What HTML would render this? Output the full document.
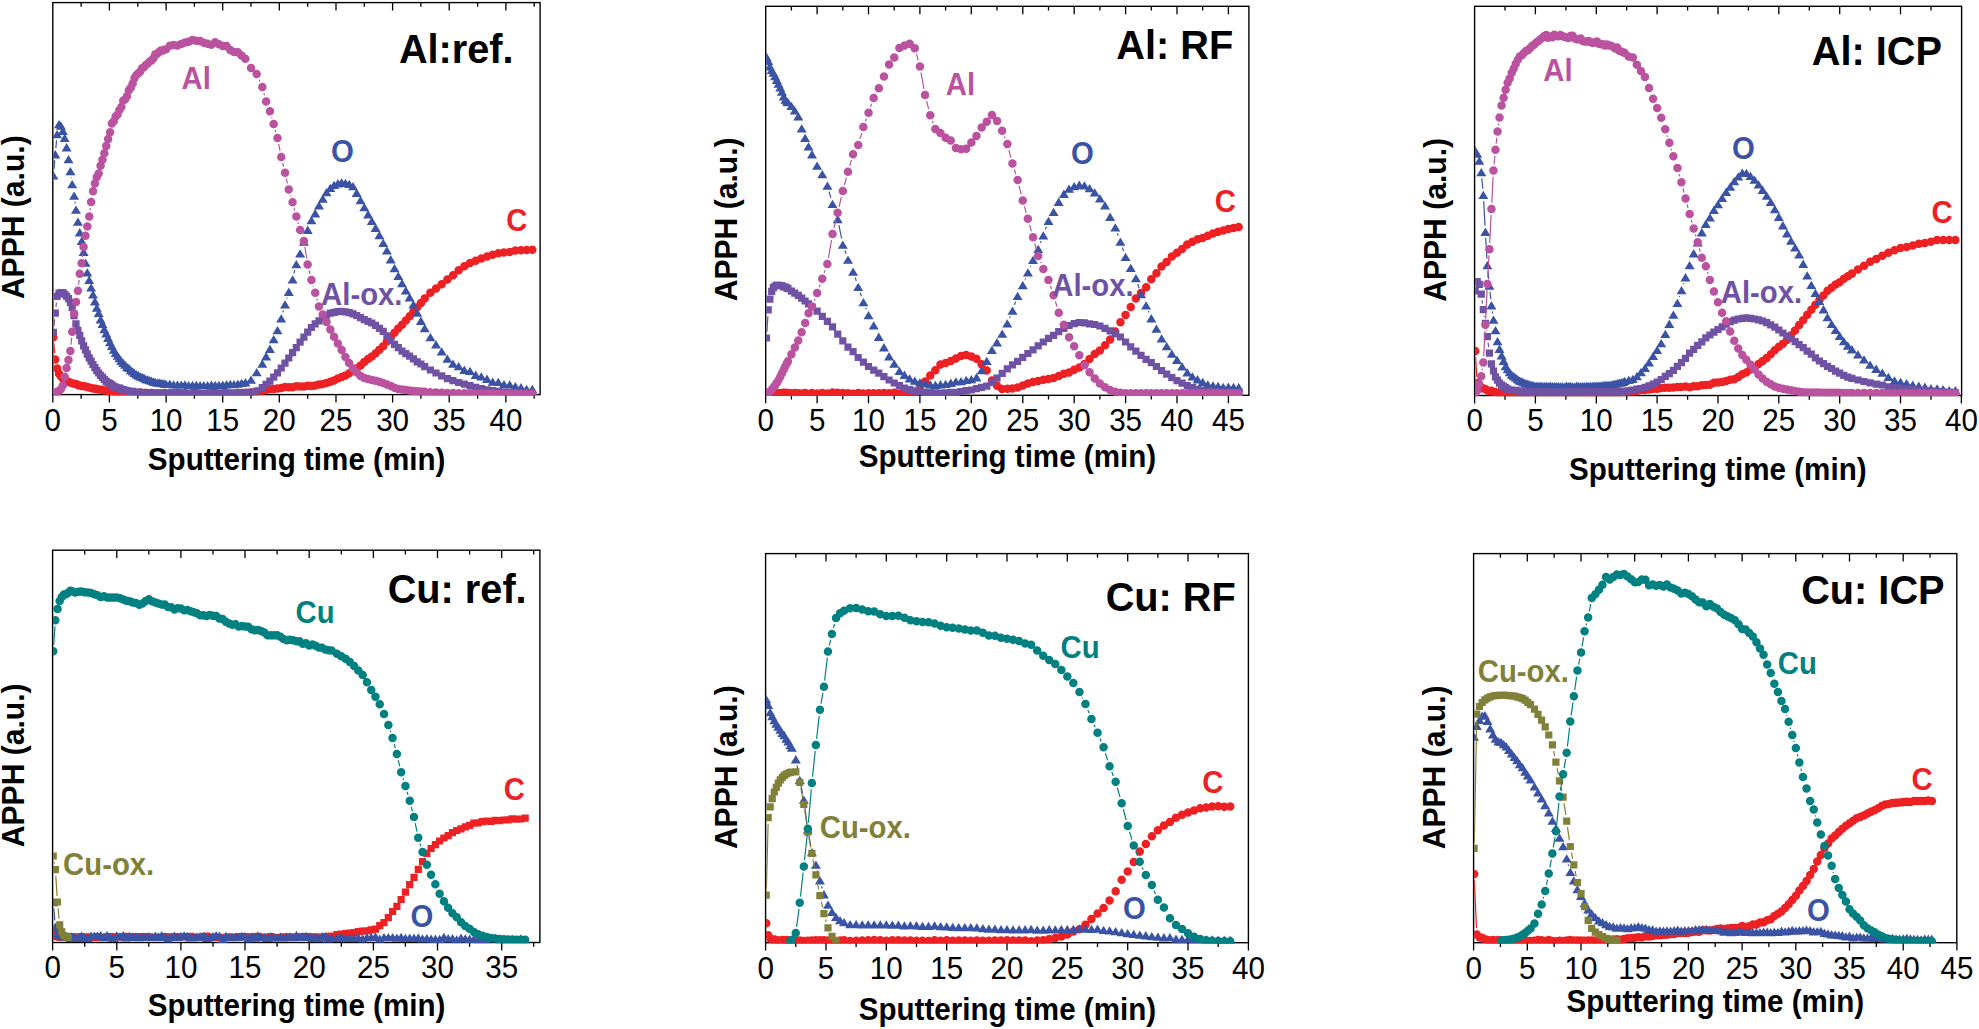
<!DOCTYPE html>
<html lang="en"><head><meta charset="utf-8"><title>XPS depth profiles</title>
<style>html,body{margin:0;padding:0;background:#fff}body{width:1979px;height:1029px;overflow:hidden}</style>
</head><body>
<svg width="1979" height="1029" viewBox="0 0 1979 1029" style="display:block">
<rect width="1979" height="1029" fill="#fff"/>
<defs>
<clipPath id="cp0"><rect x="53.3" y="2.6" width="495.3" height="392.8"/></clipPath>
<clipPath id="cp1"><rect x="766.2" y="6.3" width="491.2" height="389.8"/></clipPath>
<clipPath id="cp2"><rect x="1475.1" y="6.3" width="495" height="390"/></clipPath>
<clipPath id="cp3"><rect x="53.1" y="550.2" width="495.3" height="393.1"/></clipPath>
<clipPath id="cp4"><rect x="766.1" y="553.6" width="490.8" height="389.9"/></clipPath>
<clipPath id="cp5"><rect x="1474.1" y="553.6" width="491.2" height="389.9"/></clipPath>
</defs>
<g>
<rect x="52.8" y="2.6" width="487.3" height="392" fill="none" stroke="#000" stroke-width="1.4"/>
<path d="M52.8 394.6v7.9M81.1 2.6v4.2M81.1 394.6v4.2M109.4 2.6v7.9M109.4 394.6v7.9M137.8 2.6v4.2M137.8 394.6v4.2M166.1 2.6v7.9M166.1 394.6v7.9M194.4 2.6v4.2M194.4 394.6v4.2M222.7 2.6v7.9M222.7 394.6v7.9M251 2.6v4.2M251 394.6v4.2M279.3 2.6v7.9M279.3 394.6v7.9M307.7 2.6v4.2M307.7 394.6v4.2M336 2.6v7.9M336 394.6v7.9M364.3 2.6v4.2M364.3 394.6v4.2M392.6 2.6v7.9M392.6 394.6v7.9M420.9 2.6v4.2M420.9 394.6v4.2M449.2 2.6v7.9M449.2 394.6v7.9M477.6 2.6v4.2M477.6 394.6v4.2M505.9 2.6v7.9M505.9 394.6v7.9M534.2 2.6v4.2M534.2 394.6v4.2" stroke="#000" stroke-width="1.3" fill="none"/>
<g clip-path="url(#cp0)">
<path d="M53.9 343.4L54.7 353.3" fill="none" stroke="#ED2024" stroke-width="1.2"/>
<path d="M49.1 337.2a4.25 4.25 0 1 0 8.5 0a4.25 4.25 0 1 0 -8.5 0zM51 359.5a4.25 4.25 0 1 0 8.5 0a4.25 4.25 0 1 0 -8.5 0zM52.9 368.6a4.25 4.25 0 1 0 8.5 0a4.25 4.25 0 1 0 -8.5 0zM54.8 373.8a4.25 4.25 0 1 0 8.5 0a4.25 4.25 0 1 0 -8.5 0zM56.7 376.5a4.25 4.25 0 1 0 8.5 0a4.25 4.25 0 1 0 -8.5 0zM58.6 378.4a4.25 4.25 0 1 0 8.5 0a4.25 4.25 0 1 0 -8.5 0zM60.4 379.9a4.25 4.25 0 1 0 8.5 0a4.25 4.25 0 1 0 -8.5 0zM62.3 380.7a4.25 4.25 0 1 0 8.5 0a4.25 4.25 0 1 0 -8.5 0zM64.2 381.8a4.25 4.25 0 1 0 8.5 0a4.25 4.25 0 1 0 -8.5 0zM66.1 382.4a4.25 4.25 0 1 0 8.5 0a4.25 4.25 0 1 0 -8.5 0zM68 383.2a4.25 4.25 0 1 0 8.5 0a4.25 4.25 0 1 0 -8.5 0zM69.9 383.8a4.25 4.25 0 1 0 8.5 0a4.25 4.25 0 1 0 -8.5 0zM71.8 384a4.25 4.25 0 1 0 8.5 0a4.25 4.25 0 1 0 -8.5 0zM73.7 385.2a4.25 4.25 0 1 0 8.5 0a4.25 4.25 0 1 0 -8.5 0zM75.5 385.6a4.25 4.25 0 1 0 8.5 0a4.25 4.25 0 1 0 -8.5 0zM77.4 386.1a4.25 4.25 0 1 0 8.5 0a4.25 4.25 0 1 0 -8.5 0zM79.3 386a4.25 4.25 0 1 0 8.5 0a4.25 4.25 0 1 0 -8.5 0zM81.2 386.4a4.25 4.25 0 1 0 8.5 0a4.25 4.25 0 1 0 -8.5 0zM83.1 387.1a4.25 4.25 0 1 0 8.5 0a4.25 4.25 0 1 0 -8.5 0zM85 387.6a4.25 4.25 0 1 0 8.5 0a4.25 4.25 0 1 0 -8.5 0zM86.9 388.1a4.25 4.25 0 1 0 8.5 0a4.25 4.25 0 1 0 -8.5 0zM88.8 388.4a4.25 4.25 0 1 0 8.5 0a4.25 4.25 0 1 0 -8.5 0zM90.6 388.8a4.25 4.25 0 1 0 8.5 0a4.25 4.25 0 1 0 -8.5 0zM92.5 388.9a4.25 4.25 0 1 0 8.5 0a4.25 4.25 0 1 0 -8.5 0zM94.4 389.4a4.25 4.25 0 1 0 8.5 0a4.25 4.25 0 1 0 -8.5 0zM96.3 389.7a4.25 4.25 0 1 0 8.5 0a4.25 4.25 0 1 0 -8.5 0zM98.2 389.8a4.25 4.25 0 1 0 8.5 0a4.25 4.25 0 1 0 -8.5 0zM100.1 390.6a4.25 4.25 0 1 0 8.5 0a4.25 4.25 0 1 0 -8.5 0zM102 390.6a4.25 4.25 0 1 0 8.5 0a4.25 4.25 0 1 0 -8.5 0zM103.9 391.1a4.25 4.25 0 1 0 8.5 0a4.25 4.25 0 1 0 -8.5 0zM105.8 390.9a4.25 4.25 0 1 0 8.5 0a4.25 4.25 0 1 0 -8.5 0zM107.6 391.2a4.25 4.25 0 1 0 8.5 0a4.25 4.25 0 1 0 -8.5 0zM109.5 391.5a4.25 4.25 0 1 0 8.5 0a4.25 4.25 0 1 0 -8.5 0zM111.4 391.8a4.25 4.25 0 1 0 8.5 0a4.25 4.25 0 1 0 -8.5 0zM113.3 392.2a4.25 4.25 0 1 0 8.5 0a4.25 4.25 0 1 0 -8.5 0zM115.2 392.3a4.25 4.25 0 1 0 8.5 0a4.25 4.25 0 1 0 -8.5 0zM117.1 392.3a4.25 4.25 0 1 0 8.5 0a4.25 4.25 0 1 0 -8.5 0zM119 392.3a4.25 4.25 0 1 0 8.5 0a4.25 4.25 0 1 0 -8.5 0zM120.9 392.5a4.25 4.25 0 1 0 8.5 0a4.25 4.25 0 1 0 -8.5 0zM122.7 393a4.25 4.25 0 1 0 8.5 0a4.25 4.25 0 1 0 -8.5 0zM124.6 392.6a4.25 4.25 0 1 0 8.5 0a4.25 4.25 0 1 0 -8.5 0zM126.5 392.9a4.25 4.25 0 1 0 8.5 0a4.25 4.25 0 1 0 -8.5 0zM128.4 393a4.25 4.25 0 1 0 8.5 0a4.25 4.25 0 1 0 -8.5 0zM130.3 392.6a4.25 4.25 0 1 0 8.5 0a4.25 4.25 0 1 0 -8.5 0zM132.2 393.1a4.25 4.25 0 1 0 8.5 0a4.25 4.25 0 1 0 -8.5 0zM134.1 393.4a4.25 4.25 0 1 0 8.5 0a4.25 4.25 0 1 0 -8.5 0zM136 392.6a4.25 4.25 0 1 0 8.5 0a4.25 4.25 0 1 0 -8.5 0zM137.8 393.1a4.25 4.25 0 1 0 8.5 0a4.25 4.25 0 1 0 -8.5 0zM139.7 393.2a4.25 4.25 0 1 0 8.5 0a4.25 4.25 0 1 0 -8.5 0zM141.6 393a4.25 4.25 0 1 0 8.5 0a4.25 4.25 0 1 0 -8.5 0zM143.5 393.4a4.25 4.25 0 1 0 8.5 0a4.25 4.25 0 1 0 -8.5 0zM145.4 393.3a4.25 4.25 0 1 0 8.5 0a4.25 4.25 0 1 0 -8.5 0zM147.3 392.9a4.25 4.25 0 1 0 8.5 0a4.25 4.25 0 1 0 -8.5 0zM149.2 393.5a4.25 4.25 0 1 0 8.5 0a4.25 4.25 0 1 0 -8.5 0zM151.1 393.5a4.25 4.25 0 1 0 8.5 0a4.25 4.25 0 1 0 -8.5 0zM152.9 393.6a4.25 4.25 0 1 0 8.5 0a4.25 4.25 0 1 0 -8.5 0zM154.8 393.7a4.25 4.25 0 1 0 8.5 0a4.25 4.25 0 1 0 -8.5 0zM156.7 393.5a4.25 4.25 0 1 0 8.5 0a4.25 4.25 0 1 0 -8.5 0zM158.6 393.4a4.25 4.25 0 1 0 8.5 0a4.25 4.25 0 1 0 -8.5 0zM160.5 393.1a4.25 4.25 0 1 0 8.5 0a4.25 4.25 0 1 0 -8.5 0zM161.8 393.6a4.25 4.25 0 1 0 8.5 0a4.25 4.25 0 1 0 -8.5 0zM165.6 393.3a4.25 4.25 0 1 0 8.5 0a4.25 4.25 0 1 0 -8.5 0zM169.4 393.3a4.25 4.25 0 1 0 8.5 0a4.25 4.25 0 1 0 -8.5 0zM173.1 393.1a4.25 4.25 0 1 0 8.5 0a4.25 4.25 0 1 0 -8.5 0zM176.9 393.2a4.25 4.25 0 1 0 8.5 0a4.25 4.25 0 1 0 -8.5 0zM180.7 393.3a4.25 4.25 0 1 0 8.5 0a4.25 4.25 0 1 0 -8.5 0zM184.5 393.8a4.25 4.25 0 1 0 8.5 0a4.25 4.25 0 1 0 -8.5 0zM188.2 393a4.25 4.25 0 1 0 8.5 0a4.25 4.25 0 1 0 -8.5 0zM192 393.1a4.25 4.25 0 1 0 8.5 0a4.25 4.25 0 1 0 -8.5 0zM195.8 393.6a4.25 4.25 0 1 0 8.5 0a4.25 4.25 0 1 0 -8.5 0zM199.6 393.9a4.25 4.25 0 1 0 8.5 0a4.25 4.25 0 1 0 -8.5 0zM203.4 393.6a4.25 4.25 0 1 0 8.5 0a4.25 4.25 0 1 0 -8.5 0zM207.1 393a4.25 4.25 0 1 0 8.5 0a4.25 4.25 0 1 0 -8.5 0zM210.9 392.8a4.25 4.25 0 1 0 8.5 0a4.25 4.25 0 1 0 -8.5 0zM214.7 393.5a4.25 4.25 0 1 0 8.5 0a4.25 4.25 0 1 0 -8.5 0zM218.5 393.2a4.25 4.25 0 1 0 8.5 0a4.25 4.25 0 1 0 -8.5 0zM222.2 393a4.25 4.25 0 1 0 8.5 0a4.25 4.25 0 1 0 -8.5 0zM226 393.5a4.25 4.25 0 1 0 8.5 0a4.25 4.25 0 1 0 -8.5 0zM229.8 393.4a4.25 4.25 0 1 0 8.5 0a4.25 4.25 0 1 0 -8.5 0zM233.6 393.1a4.25 4.25 0 1 0 8.5 0a4.25 4.25 0 1 0 -8.5 0zM237.3 393a4.25 4.25 0 1 0 8.5 0a4.25 4.25 0 1 0 -8.5 0zM241.1 392.8a4.25 4.25 0 1 0 8.5 0a4.25 4.25 0 1 0 -8.5 0zM246.8 392.5a4.25 4.25 0 1 0 8.5 0a4.25 4.25 0 1 0 -8.5 0zM252.4 391.6a4.25 4.25 0 1 0 8.5 0a4.25 4.25 0 1 0 -8.5 0zM258.1 390.8a4.25 4.25 0 1 0 8.5 0a4.25 4.25 0 1 0 -8.5 0zM261.9 390.1a4.25 4.25 0 1 0 8.5 0a4.25 4.25 0 1 0 -8.5 0zM265.7 388.9a4.25 4.25 0 1 0 8.5 0a4.25 4.25 0 1 0 -8.5 0zM269.4 389a4.25 4.25 0 1 0 8.5 0a4.25 4.25 0 1 0 -8.5 0zM273.2 388.6a4.25 4.25 0 1 0 8.5 0a4.25 4.25 0 1 0 -8.5 0zM277 388.1a4.25 4.25 0 1 0 8.5 0a4.25 4.25 0 1 0 -8.5 0zM280.8 387.1a4.25 4.25 0 1 0 8.5 0a4.25 4.25 0 1 0 -8.5 0zM284.5 387.2a4.25 4.25 0 1 0 8.5 0a4.25 4.25 0 1 0 -8.5 0zM288.3 387.2a4.25 4.25 0 1 0 8.5 0a4.25 4.25 0 1 0 -8.5 0zM292.1 386.3a4.25 4.25 0 1 0 8.5 0a4.25 4.25 0 1 0 -8.5 0zM295.9 386.5a4.25 4.25 0 1 0 8.5 0a4.25 4.25 0 1 0 -8.5 0zM299.6 386.5a4.25 4.25 0 1 0 8.5 0a4.25 4.25 0 1 0 -8.5 0zM303.4 385.7a4.25 4.25 0 1 0 8.5 0a4.25 4.25 0 1 0 -8.5 0zM307.2 386.1a4.25 4.25 0 1 0 8.5 0a4.25 4.25 0 1 0 -8.5 0zM311 385.4a4.25 4.25 0 1 0 8.5 0a4.25 4.25 0 1 0 -8.5 0zM314.7 384.6a4.25 4.25 0 1 0 8.5 0a4.25 4.25 0 1 0 -8.5 0zM318.5 383.9a4.25 4.25 0 1 0 8.5 0a4.25 4.25 0 1 0 -8.5 0zM322.3 383a4.25 4.25 0 1 0 8.5 0a4.25 4.25 0 1 0 -8.5 0zM326.1 381.8a4.25 4.25 0 1 0 8.5 0a4.25 4.25 0 1 0 -8.5 0zM329.8 380.6a4.25 4.25 0 1 0 8.5 0a4.25 4.25 0 1 0 -8.5 0zM333.6 378.5a4.25 4.25 0 1 0 8.5 0a4.25 4.25 0 1 0 -8.5 0zM337.4 376.9a4.25 4.25 0 1 0 8.5 0a4.25 4.25 0 1 0 -8.5 0zM341.2 375.5a4.25 4.25 0 1 0 8.5 0a4.25 4.25 0 1 0 -8.5 0zM344.9 373.3a4.25 4.25 0 1 0 8.5 0a4.25 4.25 0 1 0 -8.5 0zM348.7 370.6a4.25 4.25 0 1 0 8.5 0a4.25 4.25 0 1 0 -8.5 0zM352.5 368.2a4.25 4.25 0 1 0 8.5 0a4.25 4.25 0 1 0 -8.5 0zM356.3 365.4a4.25 4.25 0 1 0 8.5 0a4.25 4.25 0 1 0 -8.5 0zM360 362.1a4.25 4.25 0 1 0 8.5 0a4.25 4.25 0 1 0 -8.5 0zM363.8 359.1a4.25 4.25 0 1 0 8.5 0a4.25 4.25 0 1 0 -8.5 0zM367.6 356.4a4.25 4.25 0 1 0 8.5 0a4.25 4.25 0 1 0 -8.5 0zM371.4 353.2a4.25 4.25 0 1 0 8.5 0a4.25 4.25 0 1 0 -8.5 0zM375.1 349.8a4.25 4.25 0 1 0 8.5 0a4.25 4.25 0 1 0 -8.5 0zM378.9 346.3a4.25 4.25 0 1 0 8.5 0a4.25 4.25 0 1 0 -8.5 0zM382.7 341.4a4.25 4.25 0 1 0 8.5 0a4.25 4.25 0 1 0 -8.5 0zM386.5 337.6a4.25 4.25 0 1 0 8.5 0a4.25 4.25 0 1 0 -8.5 0zM390.2 332.7a4.25 4.25 0 1 0 8.5 0a4.25 4.25 0 1 0 -8.5 0zM394 328.6a4.25 4.25 0 1 0 8.5 0a4.25 4.25 0 1 0 -8.5 0zM397.8 324.7a4.25 4.25 0 1 0 8.5 0a4.25 4.25 0 1 0 -8.5 0zM401.6 320.6a4.25 4.25 0 1 0 8.5 0a4.25 4.25 0 1 0 -8.5 0zM405.4 316.2a4.25 4.25 0 1 0 8.5 0a4.25 4.25 0 1 0 -8.5 0zM409.1 311.8a4.25 4.25 0 1 0 8.5 0a4.25 4.25 0 1 0 -8.5 0zM412.9 307.3a4.25 4.25 0 1 0 8.5 0a4.25 4.25 0 1 0 -8.5 0zM416.7 302.9a4.25 4.25 0 1 0 8.5 0a4.25 4.25 0 1 0 -8.5 0zM420.5 298.6a4.25 4.25 0 1 0 8.5 0a4.25 4.25 0 1 0 -8.5 0zM426.1 292.8a4.25 4.25 0 1 0 8.5 0a4.25 4.25 0 1 0 -8.5 0zM431.8 288.5a4.25 4.25 0 1 0 8.5 0a4.25 4.25 0 1 0 -8.5 0zM437.4 284.2a4.25 4.25 0 1 0 8.5 0a4.25 4.25 0 1 0 -8.5 0zM443.1 279.5a4.25 4.25 0 1 0 8.5 0a4.25 4.25 0 1 0 -8.5 0zM448.8 275.2a4.25 4.25 0 1 0 8.5 0a4.25 4.25 0 1 0 -8.5 0zM454.4 270.2a4.25 4.25 0 1 0 8.5 0a4.25 4.25 0 1 0 -8.5 0zM460.1 266.2a4.25 4.25 0 1 0 8.5 0a4.25 4.25 0 1 0 -8.5 0zM465.8 263a4.25 4.25 0 1 0 8.5 0a4.25 4.25 0 1 0 -8.5 0zM471.4 260.7a4.25 4.25 0 1 0 8.5 0a4.25 4.25 0 1 0 -8.5 0zM477.1 258.6a4.25 4.25 0 1 0 8.5 0a4.25 4.25 0 1 0 -8.5 0zM482.8 256.4a4.25 4.25 0 1 0 8.5 0a4.25 4.25 0 1 0 -8.5 0zM488.4 254.7a4.25 4.25 0 1 0 8.5 0a4.25 4.25 0 1 0 -8.5 0zM494.1 253.2a4.25 4.25 0 1 0 8.5 0a4.25 4.25 0 1 0 -8.5 0zM499.7 252.5a4.25 4.25 0 1 0 8.5 0a4.25 4.25 0 1 0 -8.5 0zM505.4 252.1a4.25 4.25 0 1 0 8.5 0a4.25 4.25 0 1 0 -8.5 0zM511.1 250.4a4.25 4.25 0 1 0 8.5 0a4.25 4.25 0 1 0 -8.5 0zM516.7 250.2a4.25 4.25 0 1 0 8.5 0a4.25 4.25 0 1 0 -8.5 0zM522.4 250.1a4.25 4.25 0 1 0 8.5 0a4.25 4.25 0 1 0 -8.5 0zM528.1 249.7a4.25 4.25 0 1 0 8.5 0a4.25 4.25 0 1 0 -8.5 0z" fill="#ED2024"/>
<path d="M53.9 169.3L54.7 160.4M55.8 148.1L56.6 140.3M71.3 177.3L71.4 178M75 201.7L75.2 203.5M282.9 312.3L283.4 310.4M286.8 298.5L287 297.7M294 273.3L294.8 270.1" fill="none" stroke="#3A53A4" stroke-width="1.2"/>
<path d="M53.4 171.3l5 8.3h-10zM55.3 150.1l5 8.3h-10zM57.1 130l5 8.3h-10zM59 119.9l5 8.3h-10zM60.9 121.4l5 8.3h-10zM62.8 126.6l5 8.3h-10zM64.7 133.7l5 8.3h-10zM66.6 143.1l5 8.3h-10zM68.5 155l5 8.3h-10zM70.4 167l5 8.3h-10zM72.2 180l5 8.3h-10zM74.1 191.5l5 8.3h-10zM76 205.5l5 8.3h-10zM77.9 217.5l5 8.3h-10zM79.8 228.1l5 8.3h-10zM81.7 236.6l5 8.3h-10zM83.6 247.6l5 8.3h-10zM85.5 258.5l5 8.3h-10zM87.3 268.2l5 8.3h-10zM89.2 275.7l5 8.3h-10zM91.1 283.3l5 8.3h-10zM93 290.2l5 8.3h-10zM94.9 297.1l5 8.3h-10zM96.8 303.5l5 8.3h-10zM98.7 308.7l5 8.3h-10zM100.6 315.1l5 8.3h-10zM102.5 319.8l5 8.3h-10zM104.3 325l5 8.3h-10zM106.2 329.1l5 8.3h-10zM108.1 333.6l5 8.3h-10zM110 338l5 8.3h-10zM111.9 341.7l5 8.3h-10zM113.8 345.5l5 8.3h-10zM115.7 348.8l5 8.3h-10zM117.6 351.4l5 8.3h-10zM119.4 354l5 8.3h-10zM121.3 356.6l5 8.3h-10zM123.2 358.7l5 8.3h-10zM125.1 360.4l5 8.3h-10zM127 362.8l5 8.3h-10zM128.9 363.8l5 8.3h-10zM130.8 365.9l5 8.3h-10zM132.7 367.2l5 8.3h-10zM134.5 368.7l5 8.3h-10zM136.4 370.1l5 8.3h-10zM138.3 371.1l5 8.3h-10zM140.2 372.2l5 8.3h-10zM142.1 372.7l5 8.3h-10zM144 373.6l5 8.3h-10zM145.9 374.9l5 8.3h-10zM147.8 375.3l5 8.3h-10zM149.6 376l5 8.3h-10zM151.5 376.5l5 8.3h-10zM153.4 377.5l5 8.3h-10zM155.3 377.8l5 8.3h-10zM157.2 378.4l5 8.3h-10zM159.1 378.3l5 8.3h-10zM161 378.8l5 8.3h-10zM162.9 378.9l5 8.3h-10zM164.7 379.5l5 8.3h-10zM166.1 379.8l5 8.3h-10zM169.8 379.6l5 8.3h-10zM173.6 380.3l5 8.3h-10zM177.4 380.4l5 8.3h-10zM181.2 380.4l5 8.3h-10zM184.9 380.2l5 8.3h-10zM188.7 381l5 8.3h-10zM192.5 380.8l5 8.3h-10zM196.3 380.7l5 8.3h-10zM200.1 380.9l5 8.3h-10zM203.8 380.9l5 8.3h-10zM207.6 381.1l5 8.3h-10zM211.4 380.5l5 8.3h-10zM215.2 380.8l5 8.3h-10zM218.9 380.8l5 8.3h-10zM222.7 380.6l5 8.3h-10zM226.5 380.1l5 8.3h-10zM230.3 379.8l5 8.3h-10zM234 379.9l5 8.3h-10zM237.8 379.5l5 8.3h-10zM241.6 378.8l5 8.3h-10zM245.4 378.1l5 8.3h-10zM251 375.5l5 8.3h-10zM256.7 368l5 8.3h-10zM262.3 359.4l5 8.3h-10zM266.1 352.1l5 8.3h-10zM269.9 344.6l5 8.3h-10zM273.7 335l5 8.3h-10zM277.5 326l5 8.3h-10zM281.2 314.2l5 8.3h-10zM285 300.3l5 8.3h-10zM288.8 287.6l5 8.3h-10zM292.6 275.2l5 8.3h-10zM296.3 260l5 8.3h-10zM300.1 249.2l5 8.3h-10zM303.9 237.5l5 8.3h-10zM307.7 225.6l5 8.3h-10zM311.4 216l5 8.3h-10zM315.2 209.1l5 8.3h-10zM319 201.2l5 8.3h-10zM322.8 194.5l5 8.3h-10zM326.5 188l5 8.3h-10zM330.3 183.8l5 8.3h-10zM334.1 180.8l5 8.3h-10zM337.9 179.1l5 8.3h-10zM341.6 178.2l5 8.3h-10zM345.4 178.7l5 8.3h-10zM349.2 179.8l5 8.3h-10zM353 182l5 8.3h-10zM356.7 188.6l5 8.3h-10zM360.5 195.9l5 8.3h-10zM364.3 202.9l5 8.3h-10zM368.1 210.1l5 8.3h-10zM371.8 216.8l5 8.3h-10zM375.6 223.6l5 8.3h-10zM379.4 230.9l5 8.3h-10zM383.2 238.7l5 8.3h-10zM386.9 246.2l5 8.3h-10zM390.7 255.1l5 8.3h-10zM394.5 264l5 8.3h-10zM398.3 271.7l5 8.3h-10zM402 279l5 8.3h-10zM405.8 286.3l5 8.3h-10zM409.6 293.1l5 8.3h-10zM413.4 300.2l5 8.3h-10zM417.2 308.4l5 8.3h-10zM420.9 316.6l5 8.3h-10zM424.7 324l5 8.3h-10zM430.4 333l5 8.3h-10zM436 340.3l5 8.3h-10zM441.7 347.2l5 8.3h-10zM447.4 354.5l5 8.3h-10zM453 359.4l5 8.3h-10zM458.7 362l5 8.3h-10zM464.3 365.6l5 8.3h-10zM470 366.8l5 8.3h-10zM475.7 370.6l5 8.3h-10zM481.3 372.2l5 8.3h-10zM487 374.6l5 8.3h-10zM492.7 377.5l5 8.3h-10zM498.3 377.8l5 8.3h-10zM504 379.9l5 8.3h-10zM509.7 380.3l5 8.3h-10zM515.3 382l5 8.3h-10zM521 383.1l5 8.3h-10zM526.6 384.7l5 8.3h-10zM532.3 384.7l5 8.3h-10z" fill="#3A53A4"/>
<path d="M54 326.1L54.6 319.2M56 306.9L56.4 302.6" fill="none" stroke="#6F52A3" stroke-width="1.2"/>
<path d="M49.8 328.7h7.2v7.2h-7.2zM51.7 309.5h7.2v7.2h-7.2zM53.5 292.8h7.2v7.2h-7.2zM55.4 289.7h7.2v7.2h-7.2zM57.3 289h7.2v7.2h-7.2zM59.2 289.1h7.2v7.2h-7.2zM61.1 290.5h7.2v7.2h-7.2zM63 292.6h7.2v7.2h-7.2zM64.9 295.1h7.2v7.2h-7.2zM66.8 298.8h7.2v7.2h-7.2zM68.6 304.1h7.2v7.2h-7.2zM70.5 312.1h7.2v7.2h-7.2zM72.4 320.3h7.2v7.2h-7.2zM74.3 326.8h7.2v7.2h-7.2zM76.2 331.8h7.2v7.2h-7.2zM78.1 337.2h7.2v7.2h-7.2zM80 342.2h7.2v7.2h-7.2zM81.9 346.3h7.2v7.2h-7.2zM83.7 350.5h7.2v7.2h-7.2zM85.6 354.3h7.2v7.2h-7.2zM87.5 357.6h7.2v7.2h-7.2zM89.4 360.9h7.2v7.2h-7.2zM91.3 364.1h7.2v7.2h-7.2zM93.2 367h7.2v7.2h-7.2zM95.1 369.4h7.2v7.2h-7.2zM97 371.7h7.2v7.2h-7.2zM98.9 373.7h7.2v7.2h-7.2zM100.7 375.8h7.2v7.2h-7.2zM102.6 377.7h7.2v7.2h-7.2zM104.5 379h7.2v7.2h-7.2zM106.4 380.1h7.2v7.2h-7.2zM108.3 381.2h7.2v7.2h-7.2zM110.2 382.8h7.2v7.2h-7.2zM112.1 383.5h7.2v7.2h-7.2zM114 384.3h7.2v7.2h-7.2zM115.8 384.5h7.2v7.2h-7.2zM117.7 385.5h7.2v7.2h-7.2zM119.6 386.1h7.2v7.2h-7.2zM121.5 386.8h7.2v7.2h-7.2zM123.4 387h7.2v7.2h-7.2zM125.3 387.4h7.2v7.2h-7.2zM127.2 387.8h7.2v7.2h-7.2zM129.1 387.8h7.2v7.2h-7.2zM130.9 388.5h7.2v7.2h-7.2zM132.8 388.5h7.2v7.2h-7.2zM134.7 388.5h7.2v7.2h-7.2zM136.6 389h7.2v7.2h-7.2zM138.5 389.2h7.2v7.2h-7.2zM140.4 388.8h7.2v7.2h-7.2zM142.3 389h7.2v7.2h-7.2zM144.2 389.3h7.2v7.2h-7.2zM146 389.3h7.2v7.2h-7.2zM147.9 389.3h7.2v7.2h-7.2zM149.8 389.3h7.2v7.2h-7.2zM151.7 389.8h7.2v7.2h-7.2zM153.6 389.7h7.2v7.2h-7.2zM155.5 389.4h7.2v7.2h-7.2zM157.4 389.4h7.2v7.2h-7.2zM159.3 389.9h7.2v7.2h-7.2zM161.1 389.8h7.2v7.2h-7.2zM162.5 390h7.2v7.2h-7.2zM166.2 389.8h7.2v7.2h-7.2zM170 389.6h7.2v7.2h-7.2zM173.8 389.8h7.2v7.2h-7.2zM177.6 389.5h7.2v7.2h-7.2zM181.3 389.7h7.2v7.2h-7.2zM185.1 389.9h7.2v7.2h-7.2zM188.9 390h7.2v7.2h-7.2zM192.7 389.8h7.2v7.2h-7.2zM196.5 389.9h7.2v7.2h-7.2zM200.2 390h7.2v7.2h-7.2zM204 389.9h7.2v7.2h-7.2zM207.8 390h7.2v7.2h-7.2zM211.6 389.9h7.2v7.2h-7.2zM215.3 389.7h7.2v7.2h-7.2zM219.1 389.9h7.2v7.2h-7.2zM222.9 389.7h7.2v7.2h-7.2zM226.7 389.5h7.2v7.2h-7.2zM230.4 389.4h7.2v7.2h-7.2zM234.2 389.5h7.2v7.2h-7.2zM238 389.3h7.2v7.2h-7.2zM241.8 389.1h7.2v7.2h-7.2zM247.4 388.5h7.2v7.2h-7.2zM253.1 387.4h7.2v7.2h-7.2zM258.7 383.9h7.2v7.2h-7.2zM262.5 380.7h7.2v7.2h-7.2zM266.3 377.5h7.2v7.2h-7.2zM270.1 373.6h7.2v7.2h-7.2zM273.9 369.2h7.2v7.2h-7.2zM277.6 364.4h7.2v7.2h-7.2zM281.4 359.6h7.2v7.2h-7.2zM285.2 354.4h7.2v7.2h-7.2zM289 349h7.2v7.2h-7.2zM292.7 344.1h7.2v7.2h-7.2zM296.5 338.6h7.2v7.2h-7.2zM300.3 333.6h7.2v7.2h-7.2zM304.1 328.6h7.2v7.2h-7.2zM307.8 323.9h7.2v7.2h-7.2zM311.6 320.3h7.2v7.2h-7.2zM315.4 317.2h7.2v7.2h-7.2zM319.2 314h7.2v7.2h-7.2zM322.9 311.5h7.2v7.2h-7.2zM326.7 309.6h7.2v7.2h-7.2zM330.5 308.8h7.2v7.2h-7.2zM334.3 308.1h7.2v7.2h-7.2zM338 307.7h7.2v7.2h-7.2zM341.8 308.3h7.2v7.2h-7.2zM345.6 309.1h7.2v7.2h-7.2zM349.4 310.2h7.2v7.2h-7.2zM353.1 311.9h7.2v7.2h-7.2zM356.9 314.1h7.2v7.2h-7.2zM360.7 316h7.2v7.2h-7.2zM364.5 317.8h7.2v7.2h-7.2zM368.2 319.4h7.2v7.2h-7.2zM372 321.8h7.2v7.2h-7.2zM375.8 324.7h7.2v7.2h-7.2zM379.6 327.8h7.2v7.2h-7.2zM383.3 332.3h7.2v7.2h-7.2zM387.1 336.7h7.2v7.2h-7.2zM390.9 340.7h7.2v7.2h-7.2zM394.7 344.1h7.2v7.2h-7.2zM398.4 347.5h7.2v7.2h-7.2zM402.2 350h7.2v7.2h-7.2zM406 352.5h7.2v7.2h-7.2zM409.8 355.3h7.2v7.2h-7.2zM413.6 358.3h7.2v7.2h-7.2zM417.3 360.4h7.2v7.2h-7.2zM421.1 363h7.2v7.2h-7.2zM426.8 366.4h7.2v7.2h-7.2zM432.4 369.4h7.2v7.2h-7.2zM438.1 372.2h7.2v7.2h-7.2zM443.8 375h7.2v7.2h-7.2zM449.4 377.1h7.2v7.2h-7.2zM455.1 378.9h7.2v7.2h-7.2zM460.7 380.5h7.2v7.2h-7.2zM466.4 382h7.2v7.2h-7.2zM472.1 383.7h7.2v7.2h-7.2zM477.7 385.1h7.2v7.2h-7.2zM483.4 386.3h7.2v7.2h-7.2zM489.1 387.1h7.2v7.2h-7.2zM494.7 387.7h7.2v7.2h-7.2zM500.4 388.5h7.2v7.2h-7.2zM506.1 388.7h7.2v7.2h-7.2zM511.7 389.1h7.2v7.2h-7.2zM517.4 389.6h7.2v7.2h-7.2zM523 389.7h7.2v7.2h-7.2zM528.7 390.1h7.2v7.2h-7.2z" fill="#6F52A3"/>
<path d="M71 344.8L71.6 337.9M72.9 325.5L73.5 319.5M78.6 284.5L79.1 279.9M82.4 257.2L82.9 253.3M90 210.4L90.3 208.2M259.1 79.7L259.9 81.5M263.9 93.1L264.5 95.4M271.7 117.2L271.9 118.1M275.3 130L275.8 132.1M278.7 144.2L280 150.9M282.7 163.1L283.6 166.7M286.4 178.7L287.4 183.5M290.6 195.5L290.8 196.3M294.1 208.2L294.7 210.4M298 222.4L298.4 224M304.9 247L306.7 258.3M309.1 270.5L310 274M313.2 285.9L313.5 286.8M316.8 298.8L317.4 300.6" fill="none" stroke="#BA529F" stroke-width="1.2"/>
<path d="M49.1 393.3a4.25 4.25 0 1 0 8.5 0a4.25 4.25 0 1 0 -8.5 0zM51 392.6a4.25 4.25 0 1 0 8.5 0a4.25 4.25 0 1 0 -8.5 0zM52.9 391.8a4.25 4.25 0 1 0 8.5 0a4.25 4.25 0 1 0 -8.5 0zM54.8 390.7a4.25 4.25 0 1 0 8.5 0a4.25 4.25 0 1 0 -8.5 0zM56.7 389a4.25 4.25 0 1 0 8.5 0a4.25 4.25 0 1 0 -8.5 0zM58.6 385.5a4.25 4.25 0 1 0 8.5 0a4.25 4.25 0 1 0 -8.5 0zM60.4 376.8a4.25 4.25 0 1 0 8.5 0a4.25 4.25 0 1 0 -8.5 0zM62.3 367.9a4.25 4.25 0 1 0 8.5 0a4.25 4.25 0 1 0 -8.5 0zM64.2 360a4.25 4.25 0 1 0 8.5 0a4.25 4.25 0 1 0 -8.5 0zM66.1 350.9a4.25 4.25 0 1 0 8.5 0a4.25 4.25 0 1 0 -8.5 0zM68 331.7a4.25 4.25 0 1 0 8.5 0a4.25 4.25 0 1 0 -8.5 0zM69.9 313.4a4.25 4.25 0 1 0 8.5 0a4.25 4.25 0 1 0 -8.5 0zM71.8 301.9a4.25 4.25 0 1 0 8.5 0a4.25 4.25 0 1 0 -8.5 0zM73.7 290.7a4.25 4.25 0 1 0 8.5 0a4.25 4.25 0 1 0 -8.5 0zM75.5 273.7a4.25 4.25 0 1 0 8.5 0a4.25 4.25 0 1 0 -8.5 0zM77.4 263.3a4.25 4.25 0 1 0 8.5 0a4.25 4.25 0 1 0 -8.5 0zM79.3 247.1a4.25 4.25 0 1 0 8.5 0a4.25 4.25 0 1 0 -8.5 0zM81.2 235.8a4.25 4.25 0 1 0 8.5 0a4.25 4.25 0 1 0 -8.5 0zM83.1 226.4a4.25 4.25 0 1 0 8.5 0a4.25 4.25 0 1 0 -8.5 0zM85 216.6a4.25 4.25 0 1 0 8.5 0a4.25 4.25 0 1 0 -8.5 0zM86.9 202a4.25 4.25 0 1 0 8.5 0a4.25 4.25 0 1 0 -8.5 0zM88.8 191.2a4.25 4.25 0 1 0 8.5 0a4.25 4.25 0 1 0 -8.5 0zM90.6 183.4a4.25 4.25 0 1 0 8.5 0a4.25 4.25 0 1 0 -8.5 0zM92.5 177.1a4.25 4.25 0 1 0 8.5 0a4.25 4.25 0 1 0 -8.5 0zM94.4 173.5a4.25 4.25 0 1 0 8.5 0a4.25 4.25 0 1 0 -8.5 0zM96.3 165.8a4.25 4.25 0 1 0 8.5 0a4.25 4.25 0 1 0 -8.5 0zM98.2 159.8a4.25 4.25 0 1 0 8.5 0a4.25 4.25 0 1 0 -8.5 0zM100.1 153.2a4.25 4.25 0 1 0 8.5 0a4.25 4.25 0 1 0 -8.5 0zM102 146.1a4.25 4.25 0 1 0 8.5 0a4.25 4.25 0 1 0 -8.5 0zM103.9 139a4.25 4.25 0 1 0 8.5 0a4.25 4.25 0 1 0 -8.5 0zM105.8 132.2a4.25 4.25 0 1 0 8.5 0a4.25 4.25 0 1 0 -8.5 0zM107.6 123.5a4.25 4.25 0 1 0 8.5 0a4.25 4.25 0 1 0 -8.5 0zM109.5 121.2a4.25 4.25 0 1 0 8.5 0a4.25 4.25 0 1 0 -8.5 0zM111.4 116.6a4.25 4.25 0 1 0 8.5 0a4.25 4.25 0 1 0 -8.5 0zM113.3 114.6a4.25 4.25 0 1 0 8.5 0a4.25 4.25 0 1 0 -8.5 0zM115.2 110a4.25 4.25 0 1 0 8.5 0a4.25 4.25 0 1 0 -8.5 0zM117.1 107a4.25 4.25 0 1 0 8.5 0a4.25 4.25 0 1 0 -8.5 0zM119 100.7a4.25 4.25 0 1 0 8.5 0a4.25 4.25 0 1 0 -8.5 0zM120.9 99.3a4.25 4.25 0 1 0 8.5 0a4.25 4.25 0 1 0 -8.5 0zM122.7 96.3a4.25 4.25 0 1 0 8.5 0a4.25 4.25 0 1 0 -8.5 0zM124.6 90.2a4.25 4.25 0 1 0 8.5 0a4.25 4.25 0 1 0 -8.5 0zM126.5 87.7a4.25 4.25 0 1 0 8.5 0a4.25 4.25 0 1 0 -8.5 0zM128.4 83.6a4.25 4.25 0 1 0 8.5 0a4.25 4.25 0 1 0 -8.5 0zM130.3 77.9a4.25 4.25 0 1 0 8.5 0a4.25 4.25 0 1 0 -8.5 0zM132.2 75a4.25 4.25 0 1 0 8.5 0a4.25 4.25 0 1 0 -8.5 0zM134.1 73.3a4.25 4.25 0 1 0 8.5 0a4.25 4.25 0 1 0 -8.5 0zM136 71.4a4.25 4.25 0 1 0 8.5 0a4.25 4.25 0 1 0 -8.5 0zM137.8 68.2a4.25 4.25 0 1 0 8.5 0a4.25 4.25 0 1 0 -8.5 0zM139.7 67.2a4.25 4.25 0 1 0 8.5 0a4.25 4.25 0 1 0 -8.5 0zM141.6 65.1a4.25 4.25 0 1 0 8.5 0a4.25 4.25 0 1 0 -8.5 0zM143.5 63.4a4.25 4.25 0 1 0 8.5 0a4.25 4.25 0 1 0 -8.5 0zM145.4 61.5a4.25 4.25 0 1 0 8.5 0a4.25 4.25 0 1 0 -8.5 0zM147.3 60.4a4.25 4.25 0 1 0 8.5 0a4.25 4.25 0 1 0 -8.5 0zM149.2 58.3a4.25 4.25 0 1 0 8.5 0a4.25 4.25 0 1 0 -8.5 0zM151.1 54.3a4.25 4.25 0 1 0 8.5 0a4.25 4.25 0 1 0 -8.5 0zM152.9 53.7a4.25 4.25 0 1 0 8.5 0a4.25 4.25 0 1 0 -8.5 0zM154.8 51.9a4.25 4.25 0 1 0 8.5 0a4.25 4.25 0 1 0 -8.5 0zM156.7 50.6a4.25 4.25 0 1 0 8.5 0a4.25 4.25 0 1 0 -8.5 0zM158.6 50.4a4.25 4.25 0 1 0 8.5 0a4.25 4.25 0 1 0 -8.5 0zM160.5 49.5a4.25 4.25 0 1 0 8.5 0a4.25 4.25 0 1 0 -8.5 0zM161.8 49.3a4.25 4.25 0 1 0 8.5 0a4.25 4.25 0 1 0 -8.5 0zM165.6 45.8a4.25 4.25 0 1 0 8.5 0a4.25 4.25 0 1 0 -8.5 0zM169.4 45.1a4.25 4.25 0 1 0 8.5 0a4.25 4.25 0 1 0 -8.5 0zM173.1 45.4a4.25 4.25 0 1 0 8.5 0a4.25 4.25 0 1 0 -8.5 0zM176.9 44.1a4.25 4.25 0 1 0 8.5 0a4.25 4.25 0 1 0 -8.5 0zM180.7 42.6a4.25 4.25 0 1 0 8.5 0a4.25 4.25 0 1 0 -8.5 0zM184.5 41.7a4.25 4.25 0 1 0 8.5 0a4.25 4.25 0 1 0 -8.5 0zM188.2 40a4.25 4.25 0 1 0 8.5 0a4.25 4.25 0 1 0 -8.5 0zM192 40.7a4.25 4.25 0 1 0 8.5 0a4.25 4.25 0 1 0 -8.5 0zM195.8 41a4.25 4.25 0 1 0 8.5 0a4.25 4.25 0 1 0 -8.5 0zM199.6 42.7a4.25 4.25 0 1 0 8.5 0a4.25 4.25 0 1 0 -8.5 0zM203.4 43.8a4.25 4.25 0 1 0 8.5 0a4.25 4.25 0 1 0 -8.5 0zM207.1 44.7a4.25 4.25 0 1 0 8.5 0a4.25 4.25 0 1 0 -8.5 0zM210.9 42.3a4.25 4.25 0 1 0 8.5 0a4.25 4.25 0 1 0 -8.5 0zM214.7 44.3a4.25 4.25 0 1 0 8.5 0a4.25 4.25 0 1 0 -8.5 0zM218.5 46.1a4.25 4.25 0 1 0 8.5 0a4.25 4.25 0 1 0 -8.5 0zM222.2 46.1a4.25 4.25 0 1 0 8.5 0a4.25 4.25 0 1 0 -8.5 0zM226 50a4.25 4.25 0 1 0 8.5 0a4.25 4.25 0 1 0 -8.5 0zM229.8 52a4.25 4.25 0 1 0 8.5 0a4.25 4.25 0 1 0 -8.5 0zM233.6 52.3a4.25 4.25 0 1 0 8.5 0a4.25 4.25 0 1 0 -8.5 0zM237.3 55.5a4.25 4.25 0 1 0 8.5 0a4.25 4.25 0 1 0 -8.5 0zM241.1 58.7a4.25 4.25 0 1 0 8.5 0a4.25 4.25 0 1 0 -8.5 0zM246.8 68a4.25 4.25 0 1 0 8.5 0a4.25 4.25 0 1 0 -8.5 0zM252.4 74a4.25 4.25 0 1 0 8.5 0a4.25 4.25 0 1 0 -8.5 0zM258.1 87.1a4.25 4.25 0 1 0 8.5 0a4.25 4.25 0 1 0 -8.5 0zM261.9 101.4a4.25 4.25 0 1 0 8.5 0a4.25 4.25 0 1 0 -8.5 0zM265.7 111.3a4.25 4.25 0 1 0 8.5 0a4.25 4.25 0 1 0 -8.5 0zM269.4 124.1a4.25 4.25 0 1 0 8.5 0a4.25 4.25 0 1 0 -8.5 0zM273.2 138.1a4.25 4.25 0 1 0 8.5 0a4.25 4.25 0 1 0 -8.5 0zM277 157a4.25 4.25 0 1 0 8.5 0a4.25 4.25 0 1 0 -8.5 0zM280.8 172.7a4.25 4.25 0 1 0 8.5 0a4.25 4.25 0 1 0 -8.5 0zM284.5 189.6a4.25 4.25 0 1 0 8.5 0a4.25 4.25 0 1 0 -8.5 0zM288.3 202.2a4.25 4.25 0 1 0 8.5 0a4.25 4.25 0 1 0 -8.5 0zM292.1 216.4a4.25 4.25 0 1 0 8.5 0a4.25 4.25 0 1 0 -8.5 0zM295.9 230a4.25 4.25 0 1 0 8.5 0a4.25 4.25 0 1 0 -8.5 0zM299.6 240.9a4.25 4.25 0 1 0 8.5 0a4.25 4.25 0 1 0 -8.5 0zM303.4 264.5a4.25 4.25 0 1 0 8.5 0a4.25 4.25 0 1 0 -8.5 0zM307.2 280a4.25 4.25 0 1 0 8.5 0a4.25 4.25 0 1 0 -8.5 0zM311 292.8a4.25 4.25 0 1 0 8.5 0a4.25 4.25 0 1 0 -8.5 0zM314.7 306.6a4.25 4.25 0 1 0 8.5 0a4.25 4.25 0 1 0 -8.5 0zM318.5 314.5a4.25 4.25 0 1 0 8.5 0a4.25 4.25 0 1 0 -8.5 0zM322.3 322a4.25 4.25 0 1 0 8.5 0a4.25 4.25 0 1 0 -8.5 0zM326.1 329.6a4.25 4.25 0 1 0 8.5 0a4.25 4.25 0 1 0 -8.5 0zM329.8 336.8a4.25 4.25 0 1 0 8.5 0a4.25 4.25 0 1 0 -8.5 0zM333.6 343.6a4.25 4.25 0 1 0 8.5 0a4.25 4.25 0 1 0 -8.5 0zM337.4 350.1a4.25 4.25 0 1 0 8.5 0a4.25 4.25 0 1 0 -8.5 0zM341.2 356.9a4.25 4.25 0 1 0 8.5 0a4.25 4.25 0 1 0 -8.5 0zM344.9 363.1a4.25 4.25 0 1 0 8.5 0a4.25 4.25 0 1 0 -8.5 0zM348.7 368.4a4.25 4.25 0 1 0 8.5 0a4.25 4.25 0 1 0 -8.5 0zM352.5 372.6a4.25 4.25 0 1 0 8.5 0a4.25 4.25 0 1 0 -8.5 0zM356.3 376a4.25 4.25 0 1 0 8.5 0a4.25 4.25 0 1 0 -8.5 0zM360 378a4.25 4.25 0 1 0 8.5 0a4.25 4.25 0 1 0 -8.5 0zM363.8 379.1a4.25 4.25 0 1 0 8.5 0a4.25 4.25 0 1 0 -8.5 0zM367.6 379.9a4.25 4.25 0 1 0 8.5 0a4.25 4.25 0 1 0 -8.5 0zM371.4 380.7a4.25 4.25 0 1 0 8.5 0a4.25 4.25 0 1 0 -8.5 0zM375.1 381.7a4.25 4.25 0 1 0 8.5 0a4.25 4.25 0 1 0 -8.5 0zM378.9 383.1a4.25 4.25 0 1 0 8.5 0a4.25 4.25 0 1 0 -8.5 0zM382.7 384.6a4.25 4.25 0 1 0 8.5 0a4.25 4.25 0 1 0 -8.5 0zM386.5 386.1a4.25 4.25 0 1 0 8.5 0a4.25 4.25 0 1 0 -8.5 0zM390.2 387.7a4.25 4.25 0 1 0 8.5 0a4.25 4.25 0 1 0 -8.5 0zM394 388.9a4.25 4.25 0 1 0 8.5 0a4.25 4.25 0 1 0 -8.5 0zM397.8 389.5a4.25 4.25 0 1 0 8.5 0a4.25 4.25 0 1 0 -8.5 0zM401.6 390.1a4.25 4.25 0 1 0 8.5 0a4.25 4.25 0 1 0 -8.5 0zM405.4 390.5a4.25 4.25 0 1 0 8.5 0a4.25 4.25 0 1 0 -8.5 0zM409.1 390.9a4.25 4.25 0 1 0 8.5 0a4.25 4.25 0 1 0 -8.5 0zM412.9 391.2a4.25 4.25 0 1 0 8.5 0a4.25 4.25 0 1 0 -8.5 0zM416.7 391.5a4.25 4.25 0 1 0 8.5 0a4.25 4.25 0 1 0 -8.5 0zM420.5 391.8a4.25 4.25 0 1 0 8.5 0a4.25 4.25 0 1 0 -8.5 0zM426.1 392.2a4.25 4.25 0 1 0 8.5 0a4.25 4.25 0 1 0 -8.5 0zM431.8 392.6a4.25 4.25 0 1 0 8.5 0a4.25 4.25 0 1 0 -8.5 0zM437.4 392.8a4.25 4.25 0 1 0 8.5 0a4.25 4.25 0 1 0 -8.5 0zM443.1 393a4.25 4.25 0 1 0 8.5 0a4.25 4.25 0 1 0 -8.5 0zM448.8 393.1a4.25 4.25 0 1 0 8.5 0a4.25 4.25 0 1 0 -8.5 0zM454.4 393.2a4.25 4.25 0 1 0 8.5 0a4.25 4.25 0 1 0 -8.5 0zM460.1 393.3a4.25 4.25 0 1 0 8.5 0a4.25 4.25 0 1 0 -8.5 0zM465.8 393.3a4.25 4.25 0 1 0 8.5 0a4.25 4.25 0 1 0 -8.5 0zM471.4 393.4a4.25 4.25 0 1 0 8.5 0a4.25 4.25 0 1 0 -8.5 0zM477.1 393.5a4.25 4.25 0 1 0 8.5 0a4.25 4.25 0 1 0 -8.5 0zM482.8 393.6a4.25 4.25 0 1 0 8.5 0a4.25 4.25 0 1 0 -8.5 0zM488.4 393.6a4.25 4.25 0 1 0 8.5 0a4.25 4.25 0 1 0 -8.5 0zM494.1 393.7a4.25 4.25 0 1 0 8.5 0a4.25 4.25 0 1 0 -8.5 0zM499.7 393.7a4.25 4.25 0 1 0 8.5 0a4.25 4.25 0 1 0 -8.5 0zM505.4 393.7a4.25 4.25 0 1 0 8.5 0a4.25 4.25 0 1 0 -8.5 0zM511.1 393.8a4.25 4.25 0 1 0 8.5 0a4.25 4.25 0 1 0 -8.5 0zM516.7 393.8a4.25 4.25 0 1 0 8.5 0a4.25 4.25 0 1 0 -8.5 0zM522.4 393.8a4.25 4.25 0 1 0 8.5 0a4.25 4.25 0 1 0 -8.5 0zM528.1 393.8a4.25 4.25 0 1 0 8.5 0a4.25 4.25 0 1 0 -8.5 0z" fill="#BA529F"/>
</g>
<g font-family="'Liberation Sans', Arial, Helvetica, sans-serif" font-size="29.6" text-anchor="middle" fill="#000">
<text transform="translate(52.8 430.8) scale(1 1.04)">0</text>
<text transform="translate(109.4 430.8) scale(1 1.04)">5</text>
<text transform="translate(166.1 430.8) scale(1 1.04)">10</text>
<text transform="translate(222.7 430.8) scale(1 1.04)">15</text>
<text transform="translate(279.3 430.8) scale(1 1.04)">20</text>
<text transform="translate(336 430.8) scale(1 1.04)">25</text>
<text transform="translate(392.6 430.8) scale(1 1.04)">30</text>
<text transform="translate(449.2 430.8) scale(1 1.04)">35</text>
<text transform="translate(505.9 430.8) scale(1 1.04)">40</text>
</g>
<g font-family="'Liberation Sans', Arial, Helvetica, sans-serif" font-weight="bold" fill="#000">
<text transform="translate(296.6 470) scale(1 1.04)" font-size="29.6" text-anchor="middle">Sputtering time (min)</text>
<text transform="translate(23.7 217.2) scale(1.02 1) rotate(-90)" font-size="30.1" text-anchor="middle">APPH (a.u.)</text>
<text transform="translate(398.9 62.8) scale(1 1.04)" font-size="39.7">Al:ref.</text>
<text transform="translate(181.5 88.9) scale(1 1.04)" font-size="29.3" fill="#BA529F">Al</text>
<text transform="translate(331.1 161.7) scale(1 1.04)" font-size="29.3" fill="#3A53A4">O</text>
<text transform="translate(506.3 231) scale(1 1.04)" font-size="29.3" fill="#ED2024">C</text>
<text transform="translate(321.1 305) scale(1 1.04)" font-size="29.3" fill="#6F52A3">Al-ox.</text>
</g>
</g>
<g>
<rect x="765.7" y="6.3" width="483.2" height="389" fill="none" stroke="#000" stroke-width="1.4"/>
<path d="M765.7 395.3v7.9M791.4 6.3v4.2M791.4 395.3v4.2M817.1 6.3v7.9M817.1 395.3v7.9M842.8 6.3v4.2M842.8 395.3v4.2M868.5 6.3v7.9M868.5 395.3v7.9M894.2 6.3v4.2M894.2 395.3v4.2M919.9 6.3v7.9M919.9 395.3v7.9M945.6 6.3v4.2M945.6 395.3v4.2M971.3 6.3v7.9M971.3 395.3v7.9M997 6.3v4.2M997 395.3v4.2M1022.8 6.3v7.9M1022.8 395.3v7.9M1048.5 6.3v4.2M1048.5 395.3v4.2M1074.2 6.3v7.9M1074.2 395.3v7.9M1099.9 6.3v4.2M1099.9 395.3v4.2M1125.6 6.3v7.9M1125.6 395.3v7.9M1151.3 6.3v4.2M1151.3 395.3v4.2M1177 6.3v7.9M1177 395.3v7.9M1202.7 6.3v4.2M1202.7 395.3v4.2M1228.4 6.3v7.9M1228.4 395.3v7.9" stroke="#000" stroke-width="1.3" fill="none"/>
<g clip-path="url(#cp1)">
<path d="M762.3 393.2a4.25 4.25 0 1 0 8.5 0a4.25 4.25 0 1 0 -8.5 0zM764 393.4a4.25 4.25 0 1 0 8.5 0a4.25 4.25 0 1 0 -8.5 0zM765.7 393.5a4.25 4.25 0 1 0 8.5 0a4.25 4.25 0 1 0 -8.5 0zM767.4 393.3a4.25 4.25 0 1 0 8.5 0a4.25 4.25 0 1 0 -8.5 0zM769.1 393a4.25 4.25 0 1 0 8.5 0a4.25 4.25 0 1 0 -8.5 0zM770.8 393.2a4.25 4.25 0 1 0 8.5 0a4.25 4.25 0 1 0 -8.5 0zM772.6 393.2a4.25 4.25 0 1 0 8.5 0a4.25 4.25 0 1 0 -8.5 0zM774.3 393.5a4.25 4.25 0 1 0 8.5 0a4.25 4.25 0 1 0 -8.5 0zM776 393.3a4.25 4.25 0 1 0 8.5 0a4.25 4.25 0 1 0 -8.5 0zM777.7 393a4.25 4.25 0 1 0 8.5 0a4.25 4.25 0 1 0 -8.5 0zM779.4 392.8a4.25 4.25 0 1 0 8.5 0a4.25 4.25 0 1 0 -8.5 0zM781.1 393.1a4.25 4.25 0 1 0 8.5 0a4.25 4.25 0 1 0 -8.5 0zM782.8 393a4.25 4.25 0 1 0 8.5 0a4.25 4.25 0 1 0 -8.5 0zM783.7 392.9a4.25 4.25 0 1 0 8.5 0a4.25 4.25 0 1 0 -8.5 0zM787.2 393.2a4.25 4.25 0 1 0 8.5 0a4.25 4.25 0 1 0 -8.5 0zM790.6 393.1a4.25 4.25 0 1 0 8.5 0a4.25 4.25 0 1 0 -8.5 0zM794 393.2a4.25 4.25 0 1 0 8.5 0a4.25 4.25 0 1 0 -8.5 0zM797.4 393.4a4.25 4.25 0 1 0 8.5 0a4.25 4.25 0 1 0 -8.5 0zM800.9 393.1a4.25 4.25 0 1 0 8.5 0a4.25 4.25 0 1 0 -8.5 0zM804.3 393.9a4.25 4.25 0 1 0 8.5 0a4.25 4.25 0 1 0 -8.5 0zM807.7 393.1a4.25 4.25 0 1 0 8.5 0a4.25 4.25 0 1 0 -8.5 0zM812.9 393.5a4.25 4.25 0 1 0 8.5 0a4.25 4.25 0 1 0 -8.5 0zM818 393.1a4.25 4.25 0 1 0 8.5 0a4.25 4.25 0 1 0 -8.5 0zM823.1 393.4a4.25 4.25 0 1 0 8.5 0a4.25 4.25 0 1 0 -8.5 0zM828.3 392.4a4.25 4.25 0 1 0 8.5 0a4.25 4.25 0 1 0 -8.5 0zM833.4 392.8a4.25 4.25 0 1 0 8.5 0a4.25 4.25 0 1 0 -8.5 0zM838.6 393.1a4.25 4.25 0 1 0 8.5 0a4.25 4.25 0 1 0 -8.5 0zM843.7 393.2a4.25 4.25 0 1 0 8.5 0a4.25 4.25 0 1 0 -8.5 0zM848.8 393.7a4.25 4.25 0 1 0 8.5 0a4.25 4.25 0 1 0 -8.5 0zM854 393.1a4.25 4.25 0 1 0 8.5 0a4.25 4.25 0 1 0 -8.5 0zM859.1 393.4a4.25 4.25 0 1 0 8.5 0a4.25 4.25 0 1 0 -8.5 0zM864.3 393.2a4.25 4.25 0 1 0 8.5 0a4.25 4.25 0 1 0 -8.5 0zM869.4 393.3a4.25 4.25 0 1 0 8.5 0a4.25 4.25 0 1 0 -8.5 0zM874.6 393.2a4.25 4.25 0 1 0 8.5 0a4.25 4.25 0 1 0 -8.5 0zM879.7 393a4.25 4.25 0 1 0 8.5 0a4.25 4.25 0 1 0 -8.5 0zM884.8 393.2a4.25 4.25 0 1 0 8.5 0a4.25 4.25 0 1 0 -8.5 0zM890 392.7a4.25 4.25 0 1 0 8.5 0a4.25 4.25 0 1 0 -8.5 0zM895.1 393.4a4.25 4.25 0 1 0 8.5 0a4.25 4.25 0 1 0 -8.5 0zM900.3 392.7a4.25 4.25 0 1 0 8.5 0a4.25 4.25 0 1 0 -8.5 0zM905.4 393a4.25 4.25 0 1 0 8.5 0a4.25 4.25 0 1 0 -8.5 0zM910.5 392.5a4.25 4.25 0 1 0 8.5 0a4.25 4.25 0 1 0 -8.5 0zM915.7 389.5a4.25 4.25 0 1 0 8.5 0a4.25 4.25 0 1 0 -8.5 0zM920.8 381.6a4.25 4.25 0 1 0 8.5 0a4.25 4.25 0 1 0 -8.5 0zM926 375.4a4.25 4.25 0 1 0 8.5 0a4.25 4.25 0 1 0 -8.5 0zM931.1 370.3a4.25 4.25 0 1 0 8.5 0a4.25 4.25 0 1 0 -8.5 0zM936.2 364.4a4.25 4.25 0 1 0 8.5 0a4.25 4.25 0 1 0 -8.5 0zM941.4 363.1a4.25 4.25 0 1 0 8.5 0a4.25 4.25 0 1 0 -8.5 0zM946.5 361a4.25 4.25 0 1 0 8.5 0a4.25 4.25 0 1 0 -8.5 0zM951.7 358.5a4.25 4.25 0 1 0 8.5 0a4.25 4.25 0 1 0 -8.5 0zM956.8 356a4.25 4.25 0 1 0 8.5 0a4.25 4.25 0 1 0 -8.5 0zM961.9 355a4.25 4.25 0 1 0 8.5 0a4.25 4.25 0 1 0 -8.5 0zM967.1 356.4a4.25 4.25 0 1 0 8.5 0a4.25 4.25 0 1 0 -8.5 0zM972.2 358.8a4.25 4.25 0 1 0 8.5 0a4.25 4.25 0 1 0 -8.5 0zM977.4 364.3a4.25 4.25 0 1 0 8.5 0a4.25 4.25 0 1 0 -8.5 0zM982.5 370.4a4.25 4.25 0 1 0 8.5 0a4.25 4.25 0 1 0 -8.5 0zM987.7 380.6a4.25 4.25 0 1 0 8.5 0a4.25 4.25 0 1 0 -8.5 0zM992.8 385.7a4.25 4.25 0 1 0 8.5 0a4.25 4.25 0 1 0 -8.5 0zM997.9 389a4.25 4.25 0 1 0 8.5 0a4.25 4.25 0 1 0 -8.5 0zM1003.1 388.7a4.25 4.25 0 1 0 8.5 0a4.25 4.25 0 1 0 -8.5 0zM1008.2 388.5a4.25 4.25 0 1 0 8.5 0a4.25 4.25 0 1 0 -8.5 0zM1013.4 387.4a4.25 4.25 0 1 0 8.5 0a4.25 4.25 0 1 0 -8.5 0zM1018.5 385.6a4.25 4.25 0 1 0 8.5 0a4.25 4.25 0 1 0 -8.5 0zM1023.6 383.6a4.25 4.25 0 1 0 8.5 0a4.25 4.25 0 1 0 -8.5 0zM1028.8 381.9a4.25 4.25 0 1 0 8.5 0a4.25 4.25 0 1 0 -8.5 0zM1033.9 381.1a4.25 4.25 0 1 0 8.5 0a4.25 4.25 0 1 0 -8.5 0zM1039.1 379.8a4.25 4.25 0 1 0 8.5 0a4.25 4.25 0 1 0 -8.5 0zM1044.2 378.9a4.25 4.25 0 1 0 8.5 0a4.25 4.25 0 1 0 -8.5 0zM1049.3 377.9a4.25 4.25 0 1 0 8.5 0a4.25 4.25 0 1 0 -8.5 0zM1054.5 376.1a4.25 4.25 0 1 0 8.5 0a4.25 4.25 0 1 0 -8.5 0zM1059.6 373.8a4.25 4.25 0 1 0 8.5 0a4.25 4.25 0 1 0 -8.5 0zM1064.8 372.6a4.25 4.25 0 1 0 8.5 0a4.25 4.25 0 1 0 -8.5 0zM1069.9 369.7a4.25 4.25 0 1 0 8.5 0a4.25 4.25 0 1 0 -8.5 0zM1075.1 367.6a4.25 4.25 0 1 0 8.5 0a4.25 4.25 0 1 0 -8.5 0zM1080.2 364.1a4.25 4.25 0 1 0 8.5 0a4.25 4.25 0 1 0 -8.5 0zM1085.3 358.9a4.25 4.25 0 1 0 8.5 0a4.25 4.25 0 1 0 -8.5 0zM1090.5 353.9a4.25 4.25 0 1 0 8.5 0a4.25 4.25 0 1 0 -8.5 0zM1095.6 350.6a4.25 4.25 0 1 0 8.5 0a4.25 4.25 0 1 0 -8.5 0zM1100.8 345.2a4.25 4.25 0 1 0 8.5 0a4.25 4.25 0 1 0 -8.5 0zM1105.9 339.4a4.25 4.25 0 1 0 8.5 0a4.25 4.25 0 1 0 -8.5 0zM1111 331.5a4.25 4.25 0 1 0 8.5 0a4.25 4.25 0 1 0 -8.5 0zM1116.2 322.3a4.25 4.25 0 1 0 8.5 0a4.25 4.25 0 1 0 -8.5 0zM1121.3 315a4.25 4.25 0 1 0 8.5 0a4.25 4.25 0 1 0 -8.5 0zM1126.5 307.1a4.25 4.25 0 1 0 8.5 0a4.25 4.25 0 1 0 -8.5 0zM1131.6 298.6a4.25 4.25 0 1 0 8.5 0a4.25 4.25 0 1 0 -8.5 0zM1136.7 292.9a4.25 4.25 0 1 0 8.5 0a4.25 4.25 0 1 0 -8.5 0zM1141.9 287.3a4.25 4.25 0 1 0 8.5 0a4.25 4.25 0 1 0 -8.5 0zM1147 279.3a4.25 4.25 0 1 0 8.5 0a4.25 4.25 0 1 0 -8.5 0zM1152.2 273.3a4.25 4.25 0 1 0 8.5 0a4.25 4.25 0 1 0 -8.5 0zM1157.3 266.5a4.25 4.25 0 1 0 8.5 0a4.25 4.25 0 1 0 -8.5 0zM1162.4 261.9a4.25 4.25 0 1 0 8.5 0a4.25 4.25 0 1 0 -8.5 0zM1167.6 256.6a4.25 4.25 0 1 0 8.5 0a4.25 4.25 0 1 0 -8.5 0zM1172.7 252.7a4.25 4.25 0 1 0 8.5 0a4.25 4.25 0 1 0 -8.5 0zM1177.9 249a4.25 4.25 0 1 0 8.5 0a4.25 4.25 0 1 0 -8.5 0zM1183 244.4a4.25 4.25 0 1 0 8.5 0a4.25 4.25 0 1 0 -8.5 0zM1188.2 241.7a4.25 4.25 0 1 0 8.5 0a4.25 4.25 0 1 0 -8.5 0zM1193.3 239.2a4.25 4.25 0 1 0 8.5 0a4.25 4.25 0 1 0 -8.5 0zM1198.4 238a4.25 4.25 0 1 0 8.5 0a4.25 4.25 0 1 0 -8.5 0zM1203.6 235.8a4.25 4.25 0 1 0 8.5 0a4.25 4.25 0 1 0 -8.5 0zM1208.7 233.5a4.25 4.25 0 1 0 8.5 0a4.25 4.25 0 1 0 -8.5 0zM1213.9 231.8a4.25 4.25 0 1 0 8.5 0a4.25 4.25 0 1 0 -8.5 0zM1219 230.4a4.25 4.25 0 1 0 8.5 0a4.25 4.25 0 1 0 -8.5 0zM1224.1 229.1a4.25 4.25 0 1 0 8.5 0a4.25 4.25 0 1 0 -8.5 0zM1229.3 228a4.25 4.25 0 1 0 8.5 0a4.25 4.25 0 1 0 -8.5 0zM1234.4 227.1a4.25 4.25 0 1 0 8.5 0a4.25 4.25 0 1 0 -8.5 0z" fill="#ED2024"/>
<path d="M829.1 191.6L830.9 197.9M834.5 209.7L835.7 213.2M838.9 225.2L841.6 238.5M844.8 250.4L846 253.7M855.1 277.4L856.3 280.9M860.2 292.7L861.4 296.2M865.7 307.8L866.2 309.3M1009.6 317.7L1010.2 316.3M1014.5 304.7L1015.6 301.7M1025.1 279.4L1025.6 278.2M1030.3 266.7L1030.7 265.7M1040.4 243L1041.1 241.1M1045.4 229.5L1046.4 226.8M1117.4 233.2L1118.3 235.8M1122.4 247.5L1123.6 251.1M1137.7 284L1139.1 288.2M1148.4 311.1L1149 312.5" fill="none" stroke="#3A53A4" stroke-width="1.2"/>
<path d="M766.5 52.6l5 8.3h-10zM768.2 56.6l5 8.3h-10zM769.9 62.1l5 8.3h-10zM771.7 65.8l5 8.3h-10zM773.4 68.5l5 8.3h-10zM775.1 72l5 8.3h-10zM776.8 75.6l5 8.3h-10zM778.5 79.5l5 8.3h-10zM780.2 83.2l5 8.3h-10zM781.9 87.5l5 8.3h-10zM783.7 92.2l5 8.3h-10zM785.4 95.4l5 8.3h-10zM787.1 97.3l5 8.3h-10zM788 98l5 8.3h-10zM791.4 101.8l5 8.3h-10zM794.8 106.2l5 8.3h-10zM798.3 112.1l5 8.3h-10zM801.7 124.3l5 8.3h-10zM805.1 133.7l5 8.3h-10zM808.5 142.2l5 8.3h-10zM812 150.1l5 8.3h-10zM817.1 161.5l5 8.3h-10zM822.3 169.9l5 8.3h-10zM827.4 181.5l5 8.3h-10zM832.5 199.7l5 8.3h-10zM837.7 214.9l5 8.3h-10zM842.8 240.4l5 8.3h-10zM848 255.5l5 8.3h-10zM853.1 267.4l5 8.3h-10zM858.2 282.7l5 8.3h-10zM863.4 297.9l5 8.3h-10zM868.5 310.9l5 8.3h-10zM873.7 321.3l5 8.3h-10zM878.8 332.6l5 8.3h-10zM883.9 343.1l5 8.3h-10zM889.1 352.1l5 8.3h-10zM894.2 359.4l5 8.3h-10zM899.4 366.7l5 8.3h-10zM904.5 370.6l5 8.3h-10zM909.6 374.3l5 8.3h-10zM914.8 376.4l5 8.3h-10zM919.9 378.3l5 8.3h-10zM925.1 379.2l5 8.3h-10zM930.2 380.3l5 8.3h-10zM935.4 380.8l5 8.3h-10zM940.5 380.1l5 8.3h-10zM945.6 379.7l5 8.3h-10zM950.8 378.6l5 8.3h-10zM955.9 377.2l5 8.3h-10zM961.1 376.9l5 8.3h-10zM966.2 375.8l5 8.3h-10zM971.3 374.9l5 8.3h-10zM976.5 373.1l5 8.3h-10zM981.6 365.9l5 8.3h-10zM986.8 356.7l5 8.3h-10zM991.9 345.7l5 8.3h-10zM997 338.1l5 8.3h-10zM1002.2 329.4l5 8.3h-10zM1007.3 319.3l5 8.3h-10zM1012.5 306.4l5 8.3h-10zM1017.6 291.7l5 8.3h-10zM1022.8 280.9l5 8.3h-10zM1027.9 268.3l5 8.3h-10zM1033 255.8l5 8.3h-10zM1038.2 244.7l5 8.3h-10zM1043.3 231.2l5 8.3h-10zM1048.5 216.8l5 8.3h-10zM1053.6 207.8l5 8.3h-10zM1058.7 197.6l5 8.3h-10zM1063.9 189.6l5 8.3h-10zM1069 184.4l5 8.3h-10zM1074.2 182l5 8.3h-10zM1079.3 180.6l5 8.3h-10zM1084.4 181.3l5 8.3h-10zM1089.6 183.9l5 8.3h-10zM1094.7 188.2l5 8.3h-10zM1099.9 194.3l5 8.3h-10zM1105 201.2l5 8.3h-10zM1110.1 212.6l5 8.3h-10zM1115.3 223.3l5 8.3h-10zM1120.4 237.4l5 8.3h-10zM1125.6 252.8l5 8.3h-10zM1130.7 263.7l5 8.3h-10zM1135.9 273.9l5 8.3h-10zM1141 289.9l5 8.3h-10zM1146.1 301.2l5 8.3h-10zM1151.3 314.1l5 8.3h-10zM1156.4 324.5l5 8.3h-10zM1161.6 334.2l5 8.3h-10zM1166.7 341.9l5 8.3h-10zM1171.8 349.5l5 8.3h-10zM1177 355.6l5 8.3h-10zM1182.1 362.3l5 8.3h-10zM1187.3 368.2l5 8.3h-10zM1192.4 372.3l5 8.3h-10zM1197.5 375.1l5 8.3h-10zM1202.7 377.8l5 8.3h-10zM1207.8 380.2l5 8.3h-10zM1213 381.3l5 8.3h-10zM1218.1 381.8l5 8.3h-10zM1223.2 382.7l5 8.3h-10zM1228.4 382.6l5 8.3h-10zM1233.5 382.7l5 8.3h-10zM1238.7 382.9l5 8.3h-10z" fill="#3A53A4"/>
<path d="M766.9 331.9L767.9 316.1" fill="none" stroke="#6F52A3" stroke-width="1.2"/>
<path d="M762.9 334.4h7.2v7.2h-7.2zM764.6 306.3h7.2v7.2h-7.2zM766.3 295.6h7.2v7.2h-7.2zM768.1 287.8h7.2v7.2h-7.2zM769.8 284h7.2v7.2h-7.2zM771.5 282.4h7.2v7.2h-7.2zM773.2 281.6h7.2v7.2h-7.2zM774.9 281.4h7.2v7.2h-7.2zM776.6 281.9h7.2v7.2h-7.2zM778.3 282.1h7.2v7.2h-7.2zM780.1 283.2h7.2v7.2h-7.2zM781.8 283.5h7.2v7.2h-7.2zM783.5 284.5h7.2v7.2h-7.2zM784.4 285.1h7.2v7.2h-7.2zM787.8 287.6h7.2v7.2h-7.2zM791.2 289.6h7.2v7.2h-7.2zM794.7 291.7h7.2v7.2h-7.2zM798.1 294.5h7.2v7.2h-7.2zM801.5 297.4h7.2v7.2h-7.2zM804.9 300.3h7.2v7.2h-7.2zM808.4 303.4h7.2v7.2h-7.2zM813.5 307.5h7.2v7.2h-7.2zM818.7 312.7h7.2v7.2h-7.2zM823.8 317.8h7.2v7.2h-7.2zM828.9 323.3h7.2v7.2h-7.2zM834.1 330.5h7.2v7.2h-7.2zM839.2 337.2h7.2v7.2h-7.2zM844.4 343.5h7.2v7.2h-7.2zM849.5 348h7.2v7.2h-7.2zM854.6 353.9h7.2v7.2h-7.2zM859.8 358.5h7.2v7.2h-7.2zM864.9 362.9h7.2v7.2h-7.2zM870.1 366.5h7.2v7.2h-7.2zM875.2 369.6h7.2v7.2h-7.2zM880.3 373h7.2v7.2h-7.2zM885.5 376.4h7.2v7.2h-7.2zM890.6 379.4h7.2v7.2h-7.2zM895.8 382.1h7.2v7.2h-7.2zM900.9 384.4h7.2v7.2h-7.2zM906 386.1h7.2v7.2h-7.2zM911.2 387.3h7.2v7.2h-7.2zM916.3 388.2h7.2v7.2h-7.2zM921.5 388.8h7.2v7.2h-7.2zM926.6 389.1h7.2v7.2h-7.2zM931.8 389.2h7.2v7.2h-7.2zM936.9 389.4h7.2v7.2h-7.2zM942 389.2h7.2v7.2h-7.2zM947.2 388.7h7.2v7.2h-7.2zM952.3 388.7h7.2v7.2h-7.2zM957.5 388.1h7.2v7.2h-7.2zM962.6 387.1h7.2v7.2h-7.2zM967.7 386.4h7.2v7.2h-7.2zM972.9 385.1h7.2v7.2h-7.2zM978 383.8h7.2v7.2h-7.2zM983.2 382.6h7.2v7.2h-7.2zM988.3 378.8h7.2v7.2h-7.2zM993.4 374.5h7.2v7.2h-7.2zM998.6 369.7h7.2v7.2h-7.2zM1003.7 365.3h7.2v7.2h-7.2zM1008.9 361.3h7.2v7.2h-7.2zM1014 357.8h7.2v7.2h-7.2zM1019.1 353.8h7.2v7.2h-7.2zM1024.3 349.9h7.2v7.2h-7.2zM1029.4 346.2h7.2v7.2h-7.2zM1034.6 342.3h7.2v7.2h-7.2zM1039.7 338.4h7.2v7.2h-7.2zM1044.9 334.8h7.2v7.2h-7.2zM1050 331.7h7.2v7.2h-7.2zM1055.1 328h7.2v7.2h-7.2zM1060.3 324.9h7.2v7.2h-7.2zM1065.4 321.9h7.2v7.2h-7.2zM1070.6 320.1h7.2v7.2h-7.2zM1075.7 318.9h7.2v7.2h-7.2zM1080.8 319.2h7.2v7.2h-7.2zM1086 320.2h7.2v7.2h-7.2zM1091.1 320.9h7.2v7.2h-7.2zM1096.3 322.4h7.2v7.2h-7.2zM1101.4 324.7h7.2v7.2h-7.2zM1106.5 327.2h7.2v7.2h-7.2zM1111.7 330.3h7.2v7.2h-7.2zM1116.8 333.4h7.2v7.2h-7.2zM1122 338.4h7.2v7.2h-7.2zM1127.1 343.3h7.2v7.2h-7.2zM1132.3 347.6h7.2v7.2h-7.2zM1137.4 351.7h7.2v7.2h-7.2zM1142.5 355.7h7.2v7.2h-7.2zM1147.7 359.1h7.2v7.2h-7.2zM1152.8 362.9h7.2v7.2h-7.2zM1158 367h7.2v7.2h-7.2zM1163.1 370.5h7.2v7.2h-7.2zM1168.2 374h7.2v7.2h-7.2zM1173.4 377h7.2v7.2h-7.2zM1178.5 379.6h7.2v7.2h-7.2zM1183.7 382h7.2v7.2h-7.2zM1188.8 383.9h7.2v7.2h-7.2zM1193.9 385.7h7.2v7.2h-7.2zM1199.1 386.4h7.2v7.2h-7.2zM1204.2 387.3h7.2v7.2h-7.2zM1209.4 387.7h7.2v7.2h-7.2zM1214.5 388.1h7.2v7.2h-7.2zM1219.6 388.5h7.2v7.2h-7.2zM1224.8 388.6h7.2v7.2h-7.2zM1229.9 388.7h7.2v7.2h-7.2zM1235.1 389h7.2v7.2h-7.2z" fill="#6F52A3"/>
<path d="M814.2 300.8L814.9 298.8M819.2 287.2L820.1 284.6M824.3 272.9L825.3 270M828.4 258L831.5 240M834 227.9L836.2 218.8M839.1 206.8L841.4 197M844.4 185L846.4 177.7M849.7 165.8L851.4 160.1M860 139L861.7 133.1M865.5 121.3L866.4 118.6M870.5 106.9L871.6 103.8M916.5 54.2L918.2 60.4M921 72.5L924 89M926.6 101.1L928.7 109.2M932.4 121L933.2 123.2M1004.4 136.6L1005.1 138.3M1008.9 150.1L1010.9 157.6M1014.3 169.5L1015.7 174M1019.1 185.9L1021.2 194.4M1024.4 206.4L1026.2 212.8M1029.6 224.8L1031.4 231.3M1034.7 243.3L1036.5 250.1M1040.5 261.9L1041 263.1M1050.4 285.8L1051.6 289.4M1055.4 301.3L1057 306.7M1061.2 318.4L1061.5 319M1066.2 330.5L1066.7 331.6" fill="none" stroke="#BA529F" stroke-width="1.2"/>
<path d="M762.3 393.3a4.25 4.25 0 1 0 8.5 0a4.25 4.25 0 1 0 -8.5 0zM764 392.6a4.25 4.25 0 1 0 8.5 0a4.25 4.25 0 1 0 -8.5 0zM765.7 391.5a4.25 4.25 0 1 0 8.5 0a4.25 4.25 0 1 0 -8.5 0zM767.4 389.7a4.25 4.25 0 1 0 8.5 0a4.25 4.25 0 1 0 -8.5 0zM769.1 387.6a4.25 4.25 0 1 0 8.5 0a4.25 4.25 0 1 0 -8.5 0zM770.8 385.4a4.25 4.25 0 1 0 8.5 0a4.25 4.25 0 1 0 -8.5 0zM772.6 382.8a4.25 4.25 0 1 0 8.5 0a4.25 4.25 0 1 0 -8.5 0zM774.3 380a4.25 4.25 0 1 0 8.5 0a4.25 4.25 0 1 0 -8.5 0zM776 376.7a4.25 4.25 0 1 0 8.5 0a4.25 4.25 0 1 0 -8.5 0zM777.7 373.2a4.25 4.25 0 1 0 8.5 0a4.25 4.25 0 1 0 -8.5 0zM779.4 369.7a4.25 4.25 0 1 0 8.5 0a4.25 4.25 0 1 0 -8.5 0zM781.1 366.3a4.25 4.25 0 1 0 8.5 0a4.25 4.25 0 1 0 -8.5 0zM782.8 362.9a4.25 4.25 0 1 0 8.5 0a4.25 4.25 0 1 0 -8.5 0zM783.7 361.2a4.25 4.25 0 1 0 8.5 0a4.25 4.25 0 1 0 -8.5 0zM787.2 354.3a4.25 4.25 0 1 0 8.5 0a4.25 4.25 0 1 0 -8.5 0zM790.6 347.6a4.25 4.25 0 1 0 8.5 0a4.25 4.25 0 1 0 -8.5 0zM794 340.5a4.25 4.25 0 1 0 8.5 0a4.25 4.25 0 1 0 -8.5 0zM797.4 332.2a4.25 4.25 0 1 0 8.5 0a4.25 4.25 0 1 0 -8.5 0zM800.9 322.9a4.25 4.25 0 1 0 8.5 0a4.25 4.25 0 1 0 -8.5 0zM804.3 313.3a4.25 4.25 0 1 0 8.5 0a4.25 4.25 0 1 0 -8.5 0zM807.7 306.6a4.25 4.25 0 1 0 8.5 0a4.25 4.25 0 1 0 -8.5 0zM812.9 293a4.25 4.25 0 1 0 8.5 0a4.25 4.25 0 1 0 -8.5 0zM818 278.8a4.25 4.25 0 1 0 8.5 0a4.25 4.25 0 1 0 -8.5 0zM823.1 264.1a4.25 4.25 0 1 0 8.5 0a4.25 4.25 0 1 0 -8.5 0zM828.3 233.9a4.25 4.25 0 1 0 8.5 0a4.25 4.25 0 1 0 -8.5 0zM833.4 212.8a4.25 4.25 0 1 0 8.5 0a4.25 4.25 0 1 0 -8.5 0zM838.6 190.9a4.25 4.25 0 1 0 8.5 0a4.25 4.25 0 1 0 -8.5 0zM843.7 171.7a4.25 4.25 0 1 0 8.5 0a4.25 4.25 0 1 0 -8.5 0zM848.8 154.2a4.25 4.25 0 1 0 8.5 0a4.25 4.25 0 1 0 -8.5 0zM854 144.9a4.25 4.25 0 1 0 8.5 0a4.25 4.25 0 1 0 -8.5 0zM859.1 127.1a4.25 4.25 0 1 0 8.5 0a4.25 4.25 0 1 0 -8.5 0zM864.3 112.8a4.25 4.25 0 1 0 8.5 0a4.25 4.25 0 1 0 -8.5 0zM869.4 97.9a4.25 4.25 0 1 0 8.5 0a4.25 4.25 0 1 0 -8.5 0zM874.6 88.2a4.25 4.25 0 1 0 8.5 0a4.25 4.25 0 1 0 -8.5 0zM879.7 76.4a4.25 4.25 0 1 0 8.5 0a4.25 4.25 0 1 0 -8.5 0zM884.8 64.5a4.25 4.25 0 1 0 8.5 0a4.25 4.25 0 1 0 -8.5 0zM890 57.6a4.25 4.25 0 1 0 8.5 0a4.25 4.25 0 1 0 -8.5 0zM895.1 48a4.25 4.25 0 1 0 8.5 0a4.25 4.25 0 1 0 -8.5 0zM900.3 45.6a4.25 4.25 0 1 0 8.5 0a4.25 4.25 0 1 0 -8.5 0zM905.4 43.8a4.25 4.25 0 1 0 8.5 0a4.25 4.25 0 1 0 -8.5 0zM910.5 48.3a4.25 4.25 0 1 0 8.5 0a4.25 4.25 0 1 0 -8.5 0zM915.7 66.4a4.25 4.25 0 1 0 8.5 0a4.25 4.25 0 1 0 -8.5 0zM920.8 95.1a4.25 4.25 0 1 0 8.5 0a4.25 4.25 0 1 0 -8.5 0zM926 115.2a4.25 4.25 0 1 0 8.5 0a4.25 4.25 0 1 0 -8.5 0zM931.1 129a4.25 4.25 0 1 0 8.5 0a4.25 4.25 0 1 0 -8.5 0zM936.2 133.1a4.25 4.25 0 1 0 8.5 0a4.25 4.25 0 1 0 -8.5 0zM941.4 137.7a4.25 4.25 0 1 0 8.5 0a4.25 4.25 0 1 0 -8.5 0zM946.5 140.5a4.25 4.25 0 1 0 8.5 0a4.25 4.25 0 1 0 -8.5 0zM951.7 147.9a4.25 4.25 0 1 0 8.5 0a4.25 4.25 0 1 0 -8.5 0zM956.8 149.3a4.25 4.25 0 1 0 8.5 0a4.25 4.25 0 1 0 -8.5 0zM961.9 148.8a4.25 4.25 0 1 0 8.5 0a4.25 4.25 0 1 0 -8.5 0zM967.1 142.6a4.25 4.25 0 1 0 8.5 0a4.25 4.25 0 1 0 -8.5 0zM972.2 136.1a4.25 4.25 0 1 0 8.5 0a4.25 4.25 0 1 0 -8.5 0zM977.4 127.5a4.25 4.25 0 1 0 8.5 0a4.25 4.25 0 1 0 -8.5 0zM982.5 121.8a4.25 4.25 0 1 0 8.5 0a4.25 4.25 0 1 0 -8.5 0zM987.7 115.1a4.25 4.25 0 1 0 8.5 0a4.25 4.25 0 1 0 -8.5 0zM992.8 121.1a4.25 4.25 0 1 0 8.5 0a4.25 4.25 0 1 0 -8.5 0zM997.9 130.8a4.25 4.25 0 1 0 8.5 0a4.25 4.25 0 1 0 -8.5 0zM1003.1 144.1a4.25 4.25 0 1 0 8.5 0a4.25 4.25 0 1 0 -8.5 0zM1008.2 163.6a4.25 4.25 0 1 0 8.5 0a4.25 4.25 0 1 0 -8.5 0zM1013.4 179.9a4.25 4.25 0 1 0 8.5 0a4.25 4.25 0 1 0 -8.5 0zM1018.5 200.4a4.25 4.25 0 1 0 8.5 0a4.25 4.25 0 1 0 -8.5 0zM1023.6 218.8a4.25 4.25 0 1 0 8.5 0a4.25 4.25 0 1 0 -8.5 0zM1028.8 237.3a4.25 4.25 0 1 0 8.5 0a4.25 4.25 0 1 0 -8.5 0zM1033.9 256.1a4.25 4.25 0 1 0 8.5 0a4.25 4.25 0 1 0 -8.5 0zM1039.1 268.9a4.25 4.25 0 1 0 8.5 0a4.25 4.25 0 1 0 -8.5 0zM1044.2 279.9a4.25 4.25 0 1 0 8.5 0a4.25 4.25 0 1 0 -8.5 0zM1049.3 295.3a4.25 4.25 0 1 0 8.5 0a4.25 4.25 0 1 0 -8.5 0zM1054.5 312.7a4.25 4.25 0 1 0 8.5 0a4.25 4.25 0 1 0 -8.5 0zM1059.6 324.7a4.25 4.25 0 1 0 8.5 0a4.25 4.25 0 1 0 -8.5 0zM1064.8 337.3a4.25 4.25 0 1 0 8.5 0a4.25 4.25 0 1 0 -8.5 0zM1069.9 346.2a4.25 4.25 0 1 0 8.5 0a4.25 4.25 0 1 0 -8.5 0zM1075.1 355.3a4.25 4.25 0 1 0 8.5 0a4.25 4.25 0 1 0 -8.5 0zM1080.2 365.2a4.25 4.25 0 1 0 8.5 0a4.25 4.25 0 1 0 -8.5 0zM1085.3 372.2a4.25 4.25 0 1 0 8.5 0a4.25 4.25 0 1 0 -8.5 0zM1090.5 378.6a4.25 4.25 0 1 0 8.5 0a4.25 4.25 0 1 0 -8.5 0zM1095.6 383.6a4.25 4.25 0 1 0 8.5 0a4.25 4.25 0 1 0 -8.5 0zM1100.8 387.2a4.25 4.25 0 1 0 8.5 0a4.25 4.25 0 1 0 -8.5 0zM1105.9 390.1a4.25 4.25 0 1 0 8.5 0a4.25 4.25 0 1 0 -8.5 0zM1111 391.7a4.25 4.25 0 1 0 8.5 0a4.25 4.25 0 1 0 -8.5 0zM1116.2 392.8a4.25 4.25 0 1 0 8.5 0a4.25 4.25 0 1 0 -8.5 0zM1121.3 393.3a4.25 4.25 0 1 0 8.5 0a4.25 4.25 0 1 0 -8.5 0zM1126.5 393.3a4.25 4.25 0 1 0 8.5 0a4.25 4.25 0 1 0 -8.5 0zM1131.6 393.3a4.25 4.25 0 1 0 8.5 0a4.25 4.25 0 1 0 -8.5 0zM1136.7 393.3a4.25 4.25 0 1 0 8.5 0a4.25 4.25 0 1 0 -8.5 0zM1141.9 393.3a4.25 4.25 0 1 0 8.5 0a4.25 4.25 0 1 0 -8.5 0zM1147 393.3a4.25 4.25 0 1 0 8.5 0a4.25 4.25 0 1 0 -8.5 0zM1152.2 393.3a4.25 4.25 0 1 0 8.5 0a4.25 4.25 0 1 0 -8.5 0zM1157.3 393.3a4.25 4.25 0 1 0 8.5 0a4.25 4.25 0 1 0 -8.5 0zM1162.4 393.3a4.25 4.25 0 1 0 8.5 0a4.25 4.25 0 1 0 -8.5 0zM1167.6 393.3a4.25 4.25 0 1 0 8.5 0a4.25 4.25 0 1 0 -8.5 0zM1172.7 393.3a4.25 4.25 0 1 0 8.5 0a4.25 4.25 0 1 0 -8.5 0zM1177.9 393.3a4.25 4.25 0 1 0 8.5 0a4.25 4.25 0 1 0 -8.5 0zM1183 393.3a4.25 4.25 0 1 0 8.5 0a4.25 4.25 0 1 0 -8.5 0zM1188.2 393.3a4.25 4.25 0 1 0 8.5 0a4.25 4.25 0 1 0 -8.5 0zM1193.3 393.3a4.25 4.25 0 1 0 8.5 0a4.25 4.25 0 1 0 -8.5 0zM1198.4 393.3a4.25 4.25 0 1 0 8.5 0a4.25 4.25 0 1 0 -8.5 0zM1203.6 393.3a4.25 4.25 0 1 0 8.5 0a4.25 4.25 0 1 0 -8.5 0zM1208.7 393.3a4.25 4.25 0 1 0 8.5 0a4.25 4.25 0 1 0 -8.5 0zM1213.9 393.3a4.25 4.25 0 1 0 8.5 0a4.25 4.25 0 1 0 -8.5 0zM1219 393.3a4.25 4.25 0 1 0 8.5 0a4.25 4.25 0 1 0 -8.5 0zM1224.1 393.3a4.25 4.25 0 1 0 8.5 0a4.25 4.25 0 1 0 -8.5 0zM1229.3 393.3a4.25 4.25 0 1 0 8.5 0a4.25 4.25 0 1 0 -8.5 0zM1234.4 393.3a4.25 4.25 0 1 0 8.5 0a4.25 4.25 0 1 0 -8.5 0z" fill="#BA529F"/>
</g>
<g font-family="'Liberation Sans', Arial, Helvetica, sans-serif" font-size="29.6" text-anchor="middle" fill="#000">
<text transform="translate(765.7 431.4) scale(1 1.04)">0</text>
<text transform="translate(817.1 431.4) scale(1 1.04)">5</text>
<text transform="translate(868.5 431.4) scale(1 1.04)">10</text>
<text transform="translate(919.9 431.4) scale(1 1.04)">15</text>
<text transform="translate(971.3 431.4) scale(1 1.04)">20</text>
<text transform="translate(1022.8 431.4) scale(1 1.04)">25</text>
<text transform="translate(1074.2 431.4) scale(1 1.04)">30</text>
<text transform="translate(1125.6 431.4) scale(1 1.04)">35</text>
<text transform="translate(1177 431.4) scale(1 1.04)">40</text>
<text transform="translate(1228.4 431.4) scale(1 1.04)">45</text>
</g>
<g font-family="'Liberation Sans', Arial, Helvetica, sans-serif" font-weight="bold" fill="#000">
<text transform="translate(1007.4 466.7) scale(1 1.04)" font-size="29.6" text-anchor="middle">Sputtering time (min)</text>
<text transform="translate(736.9 219.4) scale(1.02 1) rotate(-90)" font-size="30.1" text-anchor="middle">APPH (a.u.)</text>
<text transform="translate(1116.3 58.8) scale(1 1.04)" font-size="39.7">Al: RF</text>
<text transform="translate(945.8 95) scale(1 1.04)" font-size="29.3" fill="#BA529F">Al</text>
<text transform="translate(1071.1 164.2) scale(1 1.04)" font-size="29.3" fill="#3A53A4">O</text>
<text transform="translate(1214.8 212.2) scale(1 1.04)" font-size="29.3" fill="#ED2024">C</text>
<text transform="translate(1052.3 296.3) scale(1 1.04)" font-size="29.3" fill="#6F52A3">Al-ox.</text>
</g>
</g>
<g>
<rect x="1474.6" y="6.3" width="487" height="389.2" fill="none" stroke="#000" stroke-width="1.4"/>
<path d="M1474.6 395.5v7.9M1505 6.3v4.2M1505 395.5v4.2M1535.4 6.3v7.9M1535.4 395.5v7.9M1565.9 6.3v4.2M1565.9 395.5v4.2M1596.3 6.3v7.9M1596.3 395.5v7.9M1626.7 6.3v4.2M1626.7 395.5v4.2M1657.1 6.3v7.9M1657.1 395.5v7.9M1687.6 6.3v4.2M1687.6 395.5v4.2M1718 6.3v7.9M1718 395.5v7.9M1748.4 6.3v4.2M1748.4 395.5v4.2M1778.8 6.3v7.9M1778.8 395.5v7.9M1809.3 6.3v4.2M1809.3 395.5v4.2M1839.7 6.3v7.9M1839.7 395.5v7.9M1870.1 6.3v4.2M1870.1 395.5v4.2M1900.5 6.3v7.9M1900.5 395.5v7.9M1931 6.3v4.2M1931 395.5v4.2M1961.4 395.5v7.9" stroke="#000" stroke-width="1.3" fill="none"/>
<g clip-path="url(#cp2)">
<path d="M1475.6 357.3L1476.8 376.7" fill="none" stroke="#ED2024" stroke-width="1.2"/>
<path d="M1471 351.1a4.25 4.25 0 1 0 8.5 0a4.25 4.25 0 1 0 -8.5 0zM1473 382.9a4.25 4.25 0 1 0 8.5 0a4.25 4.25 0 1 0 -8.5 0zM1475 386.3a4.25 4.25 0 1 0 8.5 0a4.25 4.25 0 1 0 -8.5 0zM1477 388a4.25 4.25 0 1 0 8.5 0a4.25 4.25 0 1 0 -8.5 0zM1479.1 388.6a4.25 4.25 0 1 0 8.5 0a4.25 4.25 0 1 0 -8.5 0zM1481.1 389a4.25 4.25 0 1 0 8.5 0a4.25 4.25 0 1 0 -8.5 0zM1483.1 390.6a4.25 4.25 0 1 0 8.5 0a4.25 4.25 0 1 0 -8.5 0zM1485.2 391.2a4.25 4.25 0 1 0 8.5 0a4.25 4.25 0 1 0 -8.5 0zM1487.2 390.8a4.25 4.25 0 1 0 8.5 0a4.25 4.25 0 1 0 -8.5 0zM1489.2 391.8a4.25 4.25 0 1 0 8.5 0a4.25 4.25 0 1 0 -8.5 0zM1491.2 392.3a4.25 4.25 0 1 0 8.5 0a4.25 4.25 0 1 0 -8.5 0zM1493.3 392.7a4.25 4.25 0 1 0 8.5 0a4.25 4.25 0 1 0 -8.5 0zM1495.3 392.7a4.25 4.25 0 1 0 8.5 0a4.25 4.25 0 1 0 -8.5 0zM1497.3 392.5a4.25 4.25 0 1 0 8.5 0a4.25 4.25 0 1 0 -8.5 0zM1499.4 392.3a4.25 4.25 0 1 0 8.5 0a4.25 4.25 0 1 0 -8.5 0zM1501.4 392.7a4.25 4.25 0 1 0 8.5 0a4.25 4.25 0 1 0 -8.5 0zM1503.4 392.9a4.25 4.25 0 1 0 8.5 0a4.25 4.25 0 1 0 -8.5 0zM1505.4 392.4a4.25 4.25 0 1 0 8.5 0a4.25 4.25 0 1 0 -8.5 0zM1507.5 392.5a4.25 4.25 0 1 0 8.5 0a4.25 4.25 0 1 0 -8.5 0zM1509.5 392.8a4.25 4.25 0 1 0 8.5 0a4.25 4.25 0 1 0 -8.5 0zM1511.5 392.3a4.25 4.25 0 1 0 8.5 0a4.25 4.25 0 1 0 -8.5 0zM1513.6 392.8a4.25 4.25 0 1 0 8.5 0a4.25 4.25 0 1 0 -8.5 0zM1515.6 392.7a4.25 4.25 0 1 0 8.5 0a4.25 4.25 0 1 0 -8.5 0zM1517.6 393a4.25 4.25 0 1 0 8.5 0a4.25 4.25 0 1 0 -8.5 0zM1519.6 392.7a4.25 4.25 0 1 0 8.5 0a4.25 4.25 0 1 0 -8.5 0zM1521.7 392.7a4.25 4.25 0 1 0 8.5 0a4.25 4.25 0 1 0 -8.5 0zM1523.7 392.8a4.25 4.25 0 1 0 8.5 0a4.25 4.25 0 1 0 -8.5 0zM1525.7 392.9a4.25 4.25 0 1 0 8.5 0a4.25 4.25 0 1 0 -8.5 0zM1527.8 392.8a4.25 4.25 0 1 0 8.5 0a4.25 4.25 0 1 0 -8.5 0zM1529.8 393a4.25 4.25 0 1 0 8.5 0a4.25 4.25 0 1 0 -8.5 0zM1531.8 393.2a4.25 4.25 0 1 0 8.5 0a4.25 4.25 0 1 0 -8.5 0zM1533.8 393.3a4.25 4.25 0 1 0 8.5 0a4.25 4.25 0 1 0 -8.5 0zM1535.9 393.4a4.25 4.25 0 1 0 8.5 0a4.25 4.25 0 1 0 -8.5 0zM1537.9 392.8a4.25 4.25 0 1 0 8.5 0a4.25 4.25 0 1 0 -8.5 0zM1539.9 392.9a4.25 4.25 0 1 0 8.5 0a4.25 4.25 0 1 0 -8.5 0zM1542 392.4a4.25 4.25 0 1 0 8.5 0a4.25 4.25 0 1 0 -8.5 0zM1544 393.5a4.25 4.25 0 1 0 8.5 0a4.25 4.25 0 1 0 -8.5 0zM1546 392.8a4.25 4.25 0 1 0 8.5 0a4.25 4.25 0 1 0 -8.5 0zM1548 393a4.25 4.25 0 1 0 8.5 0a4.25 4.25 0 1 0 -8.5 0zM1550.1 393.1a4.25 4.25 0 1 0 8.5 0a4.25 4.25 0 1 0 -8.5 0zM1552.1 392.7a4.25 4.25 0 1 0 8.5 0a4.25 4.25 0 1 0 -8.5 0zM1554.1 393.1a4.25 4.25 0 1 0 8.5 0a4.25 4.25 0 1 0 -8.5 0zM1556.1 393a4.25 4.25 0 1 0 8.5 0a4.25 4.25 0 1 0 -8.5 0zM1558.2 392.5a4.25 4.25 0 1 0 8.5 0a4.25 4.25 0 1 0 -8.5 0zM1560.2 393.1a4.25 4.25 0 1 0 8.5 0a4.25 4.25 0 1 0 -8.5 0zM1562.2 393.3a4.25 4.25 0 1 0 8.5 0a4.25 4.25 0 1 0 -8.5 0zM1564.3 392.5a4.25 4.25 0 1 0 8.5 0a4.25 4.25 0 1 0 -8.5 0zM1566.3 393.2a4.25 4.25 0 1 0 8.5 0a4.25 4.25 0 1 0 -8.5 0zM1568.3 393a4.25 4.25 0 1 0 8.5 0a4.25 4.25 0 1 0 -8.5 0zM1570.3 393.1a4.25 4.25 0 1 0 8.5 0a4.25 4.25 0 1 0 -8.5 0zM1572.4 393a4.25 4.25 0 1 0 8.5 0a4.25 4.25 0 1 0 -8.5 0zM1574.4 393.2a4.25 4.25 0 1 0 8.5 0a4.25 4.25 0 1 0 -8.5 0zM1576.4 392.9a4.25 4.25 0 1 0 8.5 0a4.25 4.25 0 1 0 -8.5 0zM1578.5 393.1a4.25 4.25 0 1 0 8.5 0a4.25 4.25 0 1 0 -8.5 0zM1580.5 392.8a4.25 4.25 0 1 0 8.5 0a4.25 4.25 0 1 0 -8.5 0zM1582.5 393.1a4.25 4.25 0 1 0 8.5 0a4.25 4.25 0 1 0 -8.5 0zM1584.5 392.6a4.25 4.25 0 1 0 8.5 0a4.25 4.25 0 1 0 -8.5 0zM1586.6 392.8a4.25 4.25 0 1 0 8.5 0a4.25 4.25 0 1 0 -8.5 0zM1588.6 393.3a4.25 4.25 0 1 0 8.5 0a4.25 4.25 0 1 0 -8.5 0zM1590.6 392.9a4.25 4.25 0 1 0 8.5 0a4.25 4.25 0 1 0 -8.5 0zM1592.7 392.7a4.25 4.25 0 1 0 8.5 0a4.25 4.25 0 1 0 -8.5 0zM1594.7 392.5a4.25 4.25 0 1 0 8.5 0a4.25 4.25 0 1 0 -8.5 0zM1596.7 392.5a4.25 4.25 0 1 0 8.5 0a4.25 4.25 0 1 0 -8.5 0zM1598.7 392.8a4.25 4.25 0 1 0 8.5 0a4.25 4.25 0 1 0 -8.5 0zM1600.8 392.9a4.25 4.25 0 1 0 8.5 0a4.25 4.25 0 1 0 -8.5 0zM1602.8 392.8a4.25 4.25 0 1 0 8.5 0a4.25 4.25 0 1 0 -8.5 0zM1604.8 392.8a4.25 4.25 0 1 0 8.5 0a4.25 4.25 0 1 0 -8.5 0zM1606.9 392.6a4.25 4.25 0 1 0 8.5 0a4.25 4.25 0 1 0 -8.5 0zM1608.9 392.9a4.25 4.25 0 1 0 8.5 0a4.25 4.25 0 1 0 -8.5 0zM1610.9 392.5a4.25 4.25 0 1 0 8.5 0a4.25 4.25 0 1 0 -8.5 0zM1612.9 392.4a4.25 4.25 0 1 0 8.5 0a4.25 4.25 0 1 0 -8.5 0zM1615 392.7a4.25 4.25 0 1 0 8.5 0a4.25 4.25 0 1 0 -8.5 0zM1617 392.4a4.25 4.25 0 1 0 8.5 0a4.25 4.25 0 1 0 -8.5 0zM1619 392.3a4.25 4.25 0 1 0 8.5 0a4.25 4.25 0 1 0 -8.5 0zM1620.4 392.1a4.25 4.25 0 1 0 8.5 0a4.25 4.25 0 1 0 -8.5 0zM1624.5 391.8a4.25 4.25 0 1 0 8.5 0a4.25 4.25 0 1 0 -8.5 0zM1628.6 391.5a4.25 4.25 0 1 0 8.5 0a4.25 4.25 0 1 0 -8.5 0zM1632.6 390.9a4.25 4.25 0 1 0 8.5 0a4.25 4.25 0 1 0 -8.5 0zM1636.7 390a4.25 4.25 0 1 0 8.5 0a4.25 4.25 0 1 0 -8.5 0zM1640.7 390a4.25 4.25 0 1 0 8.5 0a4.25 4.25 0 1 0 -8.5 0zM1644.8 389.5a4.25 4.25 0 1 0 8.5 0a4.25 4.25 0 1 0 -8.5 0zM1648.8 388.8a4.25 4.25 0 1 0 8.5 0a4.25 4.25 0 1 0 -8.5 0zM1652.9 388.8a4.25 4.25 0 1 0 8.5 0a4.25 4.25 0 1 0 -8.5 0zM1657 388.1a4.25 4.25 0 1 0 8.5 0a4.25 4.25 0 1 0 -8.5 0zM1661 387.7a4.25 4.25 0 1 0 8.5 0a4.25 4.25 0 1 0 -8.5 0zM1665.1 387.7a4.25 4.25 0 1 0 8.5 0a4.25 4.25 0 1 0 -8.5 0zM1669.1 387.6a4.25 4.25 0 1 0 8.5 0a4.25 4.25 0 1 0 -8.5 0zM1673.2 386.9a4.25 4.25 0 1 0 8.5 0a4.25 4.25 0 1 0 -8.5 0zM1677.2 387a4.25 4.25 0 1 0 8.5 0a4.25 4.25 0 1 0 -8.5 0zM1681.3 386.5a4.25 4.25 0 1 0 8.5 0a4.25 4.25 0 1 0 -8.5 0zM1685.4 387.2a4.25 4.25 0 1 0 8.5 0a4.25 4.25 0 1 0 -8.5 0zM1689.4 386.2a4.25 4.25 0 1 0 8.5 0a4.25 4.25 0 1 0 -8.5 0zM1693.5 386.3a4.25 4.25 0 1 0 8.5 0a4.25 4.25 0 1 0 -8.5 0zM1697.5 385.3a4.25 4.25 0 1 0 8.5 0a4.25 4.25 0 1 0 -8.5 0zM1701.6 385.1a4.25 4.25 0 1 0 8.5 0a4.25 4.25 0 1 0 -8.5 0zM1705.6 384.8a4.25 4.25 0 1 0 8.5 0a4.25 4.25 0 1 0 -8.5 0zM1709.7 382.8a4.25 4.25 0 1 0 8.5 0a4.25 4.25 0 1 0 -8.5 0zM1713.7 382.6a4.25 4.25 0 1 0 8.5 0a4.25 4.25 0 1 0 -8.5 0zM1717.8 382a4.25 4.25 0 1 0 8.5 0a4.25 4.25 0 1 0 -8.5 0zM1721.9 381a4.25 4.25 0 1 0 8.5 0a4.25 4.25 0 1 0 -8.5 0zM1725.9 379.8a4.25 4.25 0 1 0 8.5 0a4.25 4.25 0 1 0 -8.5 0zM1730 379.3a4.25 4.25 0 1 0 8.5 0a4.25 4.25 0 1 0 -8.5 0zM1734 377a4.25 4.25 0 1 0 8.5 0a4.25 4.25 0 1 0 -8.5 0zM1738.1 374.3a4.25 4.25 0 1 0 8.5 0a4.25 4.25 0 1 0 -8.5 0zM1742.1 372.6a4.25 4.25 0 1 0 8.5 0a4.25 4.25 0 1 0 -8.5 0zM1746.2 369.4a4.25 4.25 0 1 0 8.5 0a4.25 4.25 0 1 0 -8.5 0zM1750.3 367.4a4.25 4.25 0 1 0 8.5 0a4.25 4.25 0 1 0 -8.5 0zM1754.3 364.1a4.25 4.25 0 1 0 8.5 0a4.25 4.25 0 1 0 -8.5 0zM1758.4 361.1a4.25 4.25 0 1 0 8.5 0a4.25 4.25 0 1 0 -8.5 0zM1762.4 358.1a4.25 4.25 0 1 0 8.5 0a4.25 4.25 0 1 0 -8.5 0zM1766.5 354.2a4.25 4.25 0 1 0 8.5 0a4.25 4.25 0 1 0 -8.5 0zM1770.5 350.3a4.25 4.25 0 1 0 8.5 0a4.25 4.25 0 1 0 -8.5 0zM1774.6 346.7a4.25 4.25 0 1 0 8.5 0a4.25 4.25 0 1 0 -8.5 0zM1778.7 343.8a4.25 4.25 0 1 0 8.5 0a4.25 4.25 0 1 0 -8.5 0zM1782.7 339.9a4.25 4.25 0 1 0 8.5 0a4.25 4.25 0 1 0 -8.5 0zM1786.8 335.3a4.25 4.25 0 1 0 8.5 0a4.25 4.25 0 1 0 -8.5 0zM1790.8 330.6a4.25 4.25 0 1 0 8.5 0a4.25 4.25 0 1 0 -8.5 0zM1794.9 325a4.25 4.25 0 1 0 8.5 0a4.25 4.25 0 1 0 -8.5 0zM1798.9 320.3a4.25 4.25 0 1 0 8.5 0a4.25 4.25 0 1 0 -8.5 0zM1803 314.8a4.25 4.25 0 1 0 8.5 0a4.25 4.25 0 1 0 -8.5 0zM1807.1 309.8a4.25 4.25 0 1 0 8.5 0a4.25 4.25 0 1 0 -8.5 0zM1811.1 304.8a4.25 4.25 0 1 0 8.5 0a4.25 4.25 0 1 0 -8.5 0zM1815.2 300a4.25 4.25 0 1 0 8.5 0a4.25 4.25 0 1 0 -8.5 0zM1819.2 295.6a4.25 4.25 0 1 0 8.5 0a4.25 4.25 0 1 0 -8.5 0zM1823.3 290.7a4.25 4.25 0 1 0 8.5 0a4.25 4.25 0 1 0 -8.5 0zM1827.3 287.8a4.25 4.25 0 1 0 8.5 0a4.25 4.25 0 1 0 -8.5 0zM1831.4 284.6a4.25 4.25 0 1 0 8.5 0a4.25 4.25 0 1 0 -8.5 0zM1835.4 282.2a4.25 4.25 0 1 0 8.5 0a4.25 4.25 0 1 0 -8.5 0zM1839.5 278.7a4.25 4.25 0 1 0 8.5 0a4.25 4.25 0 1 0 -8.5 0zM1843.6 276.2a4.25 4.25 0 1 0 8.5 0a4.25 4.25 0 1 0 -8.5 0zM1847.6 273.6a4.25 4.25 0 1 0 8.5 0a4.25 4.25 0 1 0 -8.5 0zM1847.6 273.8a4.25 4.25 0 1 0 8.5 0a4.25 4.25 0 1 0 -8.5 0zM1853.7 269.4a4.25 4.25 0 1 0 8.5 0a4.25 4.25 0 1 0 -8.5 0zM1859.8 265.8a4.25 4.25 0 1 0 8.5 0a4.25 4.25 0 1 0 -8.5 0zM1865.9 261.7a4.25 4.25 0 1 0 8.5 0a4.25 4.25 0 1 0 -8.5 0zM1872 258.9a4.25 4.25 0 1 0 8.5 0a4.25 4.25 0 1 0 -8.5 0zM1878 255.7a4.25 4.25 0 1 0 8.5 0a4.25 4.25 0 1 0 -8.5 0zM1884.1 252.8a4.25 4.25 0 1 0 8.5 0a4.25 4.25 0 1 0 -8.5 0zM1890.2 250.2a4.25 4.25 0 1 0 8.5 0a4.25 4.25 0 1 0 -8.5 0zM1896.3 247.9a4.25 4.25 0 1 0 8.5 0a4.25 4.25 0 1 0 -8.5 0zM1902.4 247a4.25 4.25 0 1 0 8.5 0a4.25 4.25 0 1 0 -8.5 0zM1908.5 245.4a4.25 4.25 0 1 0 8.5 0a4.25 4.25 0 1 0 -8.5 0zM1914.6 243.8a4.25 4.25 0 1 0 8.5 0a4.25 4.25 0 1 0 -8.5 0zM1920.6 242.9a4.25 4.25 0 1 0 8.5 0a4.25 4.25 0 1 0 -8.5 0zM1926.7 241.8a4.25 4.25 0 1 0 8.5 0a4.25 4.25 0 1 0 -8.5 0zM1932.8 239.9a4.25 4.25 0 1 0 8.5 0a4.25 4.25 0 1 0 -8.5 0zM1938.9 240a4.25 4.25 0 1 0 8.5 0a4.25 4.25 0 1 0 -8.5 0zM1945 240.1a4.25 4.25 0 1 0 8.5 0a4.25 4.25 0 1 0 -8.5 0zM1951.1 240.1a4.25 4.25 0 1 0 8.5 0a4.25 4.25 0 1 0 -8.5 0z" fill="#ED2024"/>
<path d="M1481.8 178.4L1482.8 188.8M1483.7 201.1L1485 225.6M1485.7 237.9L1487 258.8M1488 271.2L1488.8 279.4M1490 291.8L1490.8 299.1M1492.3 311.4L1492.6 313.4M1679.3 297L1679.6 296M1683.4 284.2L1683.7 283.1" fill="none" stroke="#3A53A4" stroke-width="1.2"/>
<path d="M1475.2 146.3l5 8.3h-10zM1477.2 149.4l5 8.3h-10zM1479.3 156.4l5 8.3h-10zM1481.3 168l5 8.3h-10zM1483.3 190.8l5 8.3h-10zM1485.4 227.6l5 8.3h-10zM1487.4 260.9l5 8.3h-10zM1489.4 281.4l5 8.3h-10zM1491.4 301.1l5 8.3h-10zM1493.5 315.4l5 8.3h-10zM1495.5 325.9l5 8.3h-10zM1497.5 337l5 8.3h-10zM1499.5 344.6l5 8.3h-10zM1501.6 351.2l5 8.3h-10zM1503.6 356.6l5 8.3h-10zM1505.6 361.9l5 8.3h-10zM1507.7 364.9l5 8.3h-10zM1509.7 367.9l5 8.3h-10zM1511.7 370.4l5 8.3h-10zM1513.7 372l5 8.3h-10zM1515.8 373.4l5 8.3h-10zM1517.8 375.1l5 8.3h-10zM1519.8 376.4l5 8.3h-10zM1521.9 377.1l5 8.3h-10zM1523.9 378.2l5 8.3h-10zM1525.9 379l5 8.3h-10zM1527.9 379.5l5 8.3h-10zM1530 380.2l5 8.3h-10zM1532 380.8l5 8.3h-10zM1534 381.2l5 8.3h-10zM1536.1 381.6l5 8.3h-10zM1538.1 381.7l5 8.3h-10zM1540.1 381.6l5 8.3h-10zM1542.1 381.7l5 8.3h-10zM1544.2 381.8l5 8.3h-10zM1546.2 381.8l5 8.3h-10zM1548.2 381.9l5 8.3h-10zM1550.3 381.6l5 8.3h-10zM1552.3 381.9l5 8.3h-10zM1554.3 382l5 8.3h-10zM1556.3 381.9l5 8.3h-10zM1558.4 382.1l5 8.3h-10zM1560.4 382.2l5 8.3h-10zM1562.4 382.1l5 8.3h-10zM1564.5 382.6l5 8.3h-10zM1566.5 381.6l5 8.3h-10zM1568.5 382.1l5 8.3h-10zM1570.5 381.8l5 8.3h-10zM1572.6 382.3l5 8.3h-10zM1574.6 382.6l5 8.3h-10zM1576.6 381.6l5 8.3h-10zM1578.7 382.1l5 8.3h-10zM1580.7 382.1l5 8.3h-10zM1582.7 381.9l5 8.3h-10zM1584.7 382l5 8.3h-10zM1586.8 381.4l5 8.3h-10zM1588.8 381.9l5 8.3h-10zM1590.8 381.8l5 8.3h-10zM1592.9 381.6l5 8.3h-10zM1594.9 381.4l5 8.3h-10zM1596.9 381.5l5 8.3h-10zM1598.9 381.2l5 8.3h-10zM1601 381.2l5 8.3h-10zM1603 381l5 8.3h-10zM1605 380.5l5 8.3h-10zM1607.1 380.8l5 8.3h-10zM1609.1 380.6l5 8.3h-10zM1611.1 380.4l5 8.3h-10zM1613.1 379.7l5 8.3h-10zM1615.2 379.4l5 8.3h-10zM1617.2 379l5 8.3h-10zM1619.2 378.4l5 8.3h-10zM1621.2 378.1l5 8.3h-10zM1623.3 377.7l5 8.3h-10zM1624.7 376.8l5 8.3h-10zM1628.8 375.6l5 8.3h-10zM1632.8 374.8l5 8.3h-10zM1636.9 371.9l5 8.3h-10zM1640.9 368l5 8.3h-10zM1645 363.7l5 8.3h-10zM1649 358.2l5 8.3h-10zM1653.1 351.8l5 8.3h-10zM1657.1 345.8l5 8.3h-10zM1661.2 339l5 8.3h-10zM1665.3 329.8l5 8.3h-10zM1669.3 319.6l5 8.3h-10zM1673.4 310.4l5 8.3h-10zM1677.4 298.8l5 8.3h-10zM1681.5 285.9l5 8.3h-10zM1685.5 273.1l5 8.3h-10zM1689.6 261l5 8.3h-10zM1693.7 249.1l5 8.3h-10zM1697.7 238.1l5 8.3h-10zM1701.8 228.1l5 8.3h-10zM1705.8 219.8l5 8.3h-10zM1709.9 213.3l5 8.3h-10zM1713.9 205.8l5 8.3h-10zM1718 199.9l5 8.3h-10zM1722.1 193.7l5 8.3h-10zM1726.1 187.8l5 8.3h-10zM1730.2 182.4l5 8.3h-10zM1734.2 177l5 8.3h-10zM1738.3 172.3l5 8.3h-10zM1742.3 168.4l5 8.3h-10zM1746.4 168.7l5 8.3h-10zM1750.5 171.7l5 8.3h-10zM1754.5 175.5l5 8.3h-10zM1758.6 180.3l5 8.3h-10zM1762.6 185.6l5 8.3h-10zM1766.7 191.4l5 8.3h-10zM1770.7 197.7l5 8.3h-10zM1774.8 204.9l5 8.3h-10zM1778.8 212.6l5 8.3h-10zM1782.9 221.1l5 8.3h-10zM1787 229.1l5 8.3h-10zM1791 236.4l5 8.3h-10zM1795.1 243.3l5 8.3h-10zM1799.1 250.2l5 8.3h-10zM1803.2 259.6l5 8.3h-10zM1807.2 271.3l5 8.3h-10zM1811.3 280.8l5 8.3h-10zM1815.4 288.7l5 8.3h-10zM1819.4 296.7l5 8.3h-10zM1823.5 305.1l5 8.3h-10zM1827.5 313l5 8.3h-10zM1831.6 319.8l5 8.3h-10zM1835.6 325.7l5 8.3h-10zM1839.7 331.6l5 8.3h-10zM1843.8 336.9l5 8.3h-10zM1847.8 341.4l5 8.3h-10zM1851.9 345l5 8.3h-10zM1851.9 345.1l5 8.3h-10zM1858 350.2l5 8.3h-10zM1864 355.2l5 8.3h-10zM1870.1 360.5l5 8.3h-10zM1876.2 364.6l5 8.3h-10zM1882.3 368.5l5 8.3h-10zM1888.4 372.7l5 8.3h-10zM1894.5 376.3l5 8.3h-10zM1900.5 377.8l5 8.3h-10zM1906.6 379l5 8.3h-10zM1912.7 380.4l5 8.3h-10zM1918.8 381.6l5 8.3h-10zM1924.9 382.6l5 8.3h-10zM1931 383.9l5 8.3h-10zM1937.1 384.2l5 8.3h-10zM1943.1 384.9l5 8.3h-10zM1949.2 385.9l5 8.3h-10zM1955.3 386l5 8.3h-10z" fill="#3A53A4"/>
<path d="M1482.1 300.3L1482.5 303.6M1484.2 315.8L1484.4 317.2M1486.3 329.4L1486.4 330.4M1488.1 342.7L1488.7 347.1" fill="none" stroke="#6F52A3" stroke-width="1.2"/>
<path d="M1471.6 287.4h7.2v7.2h-7.2zM1473.6 277.9h7.2v7.2h-7.2zM1475.7 280.7h7.2v7.2h-7.2zM1477.7 290.6h7.2v7.2h-7.2zM1479.7 306.1h7.2v7.2h-7.2zM1481.8 319.7h7.2v7.2h-7.2zM1483.8 333h7.2v7.2h-7.2zM1485.8 349.6h7.2v7.2h-7.2zM1487.8 360.3h7.2v7.2h-7.2zM1489.9 367.4h7.2v7.2h-7.2zM1491.9 373.3h7.2v7.2h-7.2zM1493.9 376.6h7.2v7.2h-7.2zM1495.9 379.6h7.2v7.2h-7.2zM1498 381.5h7.2v7.2h-7.2zM1500 382.8h7.2v7.2h-7.2zM1502 384.1h7.2v7.2h-7.2zM1504.1 385.4h7.2v7.2h-7.2zM1506.1 386.3h7.2v7.2h-7.2zM1508.1 386.5h7.2v7.2h-7.2zM1510.1 386.7h7.2v7.2h-7.2zM1512.2 386.7h7.2v7.2h-7.2zM1514.2 387.4h7.2v7.2h-7.2zM1516.2 387.3h7.2v7.2h-7.2zM1518.3 387.5h7.2v7.2h-7.2zM1520.3 387.5h7.2v7.2h-7.2zM1522.3 387.8h7.2v7.2h-7.2zM1524.3 387.8h7.2v7.2h-7.2zM1526.4 388.1h7.2v7.2h-7.2zM1528.4 388.2h7.2v7.2h-7.2zM1530.4 388.2h7.2v7.2h-7.2zM1532.5 388.3h7.2v7.2h-7.2zM1534.5 388.2h7.2v7.2h-7.2zM1536.5 388.6h7.2v7.2h-7.2zM1538.5 388.3h7.2v7.2h-7.2zM1540.6 388.1h7.2v7.2h-7.2zM1542.6 388.4h7.2v7.2h-7.2zM1544.6 388.3h7.2v7.2h-7.2zM1546.7 388.2h7.2v7.2h-7.2zM1548.7 388.3h7.2v7.2h-7.2zM1550.7 388.4h7.2v7.2h-7.2zM1552.7 388.2h7.2v7.2h-7.2zM1554.8 388.4h7.2v7.2h-7.2zM1556.8 388.6h7.2v7.2h-7.2zM1558.8 388.5h7.2v7.2h-7.2zM1560.9 388.3h7.2v7.2h-7.2zM1562.9 388.4h7.2v7.2h-7.2zM1564.9 388.3h7.2v7.2h-7.2zM1566.9 388.3h7.2v7.2h-7.2zM1569 388.4h7.2v7.2h-7.2zM1571 388.3h7.2v7.2h-7.2zM1573 387.9h7.2v7.2h-7.2zM1575.1 388.3h7.2v7.2h-7.2zM1577.1 388.1h7.2v7.2h-7.2zM1579.1 388.3h7.2v7.2h-7.2zM1581.1 388.1h7.2v7.2h-7.2zM1583.2 388.2h7.2v7.2h-7.2zM1585.2 388.5h7.2v7.2h-7.2zM1587.2 388h7.2v7.2h-7.2zM1589.3 388h7.2v7.2h-7.2zM1591.3 387.9h7.2v7.2h-7.2zM1593.3 387.7h7.2v7.2h-7.2zM1595.3 387.8h7.2v7.2h-7.2zM1597.4 388.1h7.2v7.2h-7.2zM1599.4 387.9h7.2v7.2h-7.2zM1601.4 387.7h7.2v7.2h-7.2zM1603.5 387.7h7.2v7.2h-7.2zM1605.5 388h7.2v7.2h-7.2zM1607.5 387.7h7.2v7.2h-7.2zM1609.5 387.8h7.2v7.2h-7.2zM1611.6 387.8h7.2v7.2h-7.2zM1613.6 387.9h7.2v7.2h-7.2zM1615.6 388h7.2v7.2h-7.2zM1617.6 387.8h7.2v7.2h-7.2zM1619.7 387.5h7.2v7.2h-7.2zM1621.1 387.4h7.2v7.2h-7.2zM1625.2 387.2h7.2v7.2h-7.2zM1629.2 386.5h7.2v7.2h-7.2zM1633.3 385.5h7.2v7.2h-7.2zM1637.3 384.9h7.2v7.2h-7.2zM1641.4 383.7h7.2v7.2h-7.2zM1645.4 382.3h7.2v7.2h-7.2zM1649.5 380.5h7.2v7.2h-7.2zM1653.5 378.4h7.2v7.2h-7.2zM1657.6 375.9h7.2v7.2h-7.2zM1661.7 372.8h7.2v7.2h-7.2zM1665.7 370.1h7.2v7.2h-7.2zM1669.8 366.7h7.2v7.2h-7.2zM1673.8 362.7h7.2v7.2h-7.2zM1677.9 359.1h7.2v7.2h-7.2zM1681.9 354.7h7.2v7.2h-7.2zM1686 349.6h7.2v7.2h-7.2zM1690.1 345.8h7.2v7.2h-7.2zM1694.1 341.7h7.2v7.2h-7.2zM1698.2 338.2h7.2v7.2h-7.2zM1702.2 334.2h7.2v7.2h-7.2zM1706.3 331.4h7.2v7.2h-7.2zM1710.3 328.6h7.2v7.2h-7.2zM1714.4 325.9h7.2v7.2h-7.2zM1718.5 323.2h7.2v7.2h-7.2zM1722.5 320.6h7.2v7.2h-7.2zM1726.6 318h7.2v7.2h-7.2zM1730.6 316.6h7.2v7.2h-7.2zM1734.7 315.4h7.2v7.2h-7.2zM1738.7 314.7h7.2v7.2h-7.2zM1742.8 314.3h7.2v7.2h-7.2zM1746.9 314.7h7.2v7.2h-7.2zM1750.9 315.4h7.2v7.2h-7.2zM1755 316.3h7.2v7.2h-7.2zM1759 317.4h7.2v7.2h-7.2zM1763.1 319h7.2v7.2h-7.2zM1767.1 321.2h7.2v7.2h-7.2zM1771.2 323.5h7.2v7.2h-7.2zM1775.2 326.4h7.2v7.2h-7.2zM1779.3 329.4h7.2v7.2h-7.2zM1783.4 332.5h7.2v7.2h-7.2zM1787.4 334.9h7.2v7.2h-7.2zM1791.5 338h7.2v7.2h-7.2zM1795.5 341.1h7.2v7.2h-7.2zM1799.6 344.1h7.2v7.2h-7.2zM1803.6 347.6h7.2v7.2h-7.2zM1807.7 350.6h7.2v7.2h-7.2zM1811.8 354.3h7.2v7.2h-7.2zM1815.8 357.4h7.2v7.2h-7.2zM1819.9 360h7.2v7.2h-7.2zM1823.9 362.8h7.2v7.2h-7.2zM1828 364.9h7.2v7.2h-7.2zM1832 367.5h7.2v7.2h-7.2zM1836.1 369.5h7.2v7.2h-7.2zM1840.2 371.7h7.2v7.2h-7.2zM1844.2 373.5h7.2v7.2h-7.2zM1848.3 374.8h7.2v7.2h-7.2zM1848.3 374.9h7.2v7.2h-7.2zM1854.4 376.4h7.2v7.2h-7.2zM1860.4 377.9h7.2v7.2h-7.2zM1866.5 379.2h7.2v7.2h-7.2zM1872.6 380.6h7.2v7.2h-7.2zM1878.7 381.4h7.2v7.2h-7.2zM1884.8 383.2h7.2v7.2h-7.2zM1890.9 384h7.2v7.2h-7.2zM1897 384.4h7.2v7.2h-7.2zM1903 385.3h7.2v7.2h-7.2zM1909.1 386h7.2v7.2h-7.2zM1915.2 386.5h7.2v7.2h-7.2zM1921.3 386.7h7.2v7.2h-7.2zM1927.4 387.6h7.2v7.2h-7.2zM1933.5 387.7h7.2v7.2h-7.2zM1939.5 388.5h7.2v7.2h-7.2zM1945.6 388.5h7.2v7.2h-7.2zM1951.7 388.9h7.2v7.2h-7.2z" fill="#6F52A3"/>
<path d="M1482.2 370.2L1482.4 368.7M1483.7 356.3L1485 331M1485.7 318.7L1487.1 290.1M1487.7 277.7L1489 255.4M1489.7 243L1491.1 215.1M1491.8 202.7L1493.1 176.7M1494.1 164.4L1494.9 155.9M1496.2 143.6L1496.8 137.8M1498.4 125.5L1498.7 123.7M1667.1 135.3L1667.5 136.8M1671.1 148.6L1671.6 150.3M1679.1 174L1679.8 176.4M1683 188.3L1684 192.5M1687.1 204.5L1688 208M1691.3 219.9L1692 222.5M1695.4 234.4L1696 236.3M1699.3 248.3L1700.2 251.7M1707.6 272.2L1708.1 274.1" fill="none" stroke="#BA529F" stroke-width="1.2"/>
<path d="M1471 393.3a4.25 4.25 0 1 0 8.5 0a4.25 4.25 0 1 0 -8.5 0zM1473 390.6a4.25 4.25 0 1 0 8.5 0a4.25 4.25 0 1 0 -8.5 0zM1475 384.1a4.25 4.25 0 1 0 8.5 0a4.25 4.25 0 1 0 -8.5 0zM1477 376.3a4.25 4.25 0 1 0 8.5 0a4.25 4.25 0 1 0 -8.5 0zM1479.1 362.5a4.25 4.25 0 1 0 8.5 0a4.25 4.25 0 1 0 -8.5 0zM1481.1 324.8a4.25 4.25 0 1 0 8.5 0a4.25 4.25 0 1 0 -8.5 0zM1483.1 283.9a4.25 4.25 0 1 0 8.5 0a4.25 4.25 0 1 0 -8.5 0zM1485.2 249.2a4.25 4.25 0 1 0 8.5 0a4.25 4.25 0 1 0 -8.5 0zM1487.2 208.9a4.25 4.25 0 1 0 8.5 0a4.25 4.25 0 1 0 -8.5 0zM1489.2 170.6a4.25 4.25 0 1 0 8.5 0a4.25 4.25 0 1 0 -8.5 0zM1491.2 149.7a4.25 4.25 0 1 0 8.5 0a4.25 4.25 0 1 0 -8.5 0zM1493.3 131.6a4.25 4.25 0 1 0 8.5 0a4.25 4.25 0 1 0 -8.5 0zM1495.3 117.5a4.25 4.25 0 1 0 8.5 0a4.25 4.25 0 1 0 -8.5 0zM1497.3 105.4a4.25 4.25 0 1 0 8.5 0a4.25 4.25 0 1 0 -8.5 0zM1499.4 97.7a4.25 4.25 0 1 0 8.5 0a4.25 4.25 0 1 0 -8.5 0zM1501.4 89.8a4.25 4.25 0 1 0 8.5 0a4.25 4.25 0 1 0 -8.5 0zM1503.4 82.7a4.25 4.25 0 1 0 8.5 0a4.25 4.25 0 1 0 -8.5 0zM1505.4 78.5a4.25 4.25 0 1 0 8.5 0a4.25 4.25 0 1 0 -8.5 0zM1507.5 72.8a4.25 4.25 0 1 0 8.5 0a4.25 4.25 0 1 0 -8.5 0zM1509.5 68.4a4.25 4.25 0 1 0 8.5 0a4.25 4.25 0 1 0 -8.5 0zM1511.5 63.8a4.25 4.25 0 1 0 8.5 0a4.25 4.25 0 1 0 -8.5 0zM1513.6 59.8a4.25 4.25 0 1 0 8.5 0a4.25 4.25 0 1 0 -8.5 0zM1515.6 56.6a4.25 4.25 0 1 0 8.5 0a4.25 4.25 0 1 0 -8.5 0zM1517.6 55.3a4.25 4.25 0 1 0 8.5 0a4.25 4.25 0 1 0 -8.5 0zM1519.6 53.1a4.25 4.25 0 1 0 8.5 0a4.25 4.25 0 1 0 -8.5 0zM1521.7 51a4.25 4.25 0 1 0 8.5 0a4.25 4.25 0 1 0 -8.5 0zM1523.7 50.3a4.25 4.25 0 1 0 8.5 0a4.25 4.25 0 1 0 -8.5 0zM1525.7 48.2a4.25 4.25 0 1 0 8.5 0a4.25 4.25 0 1 0 -8.5 0zM1527.8 45.9a4.25 4.25 0 1 0 8.5 0a4.25 4.25 0 1 0 -8.5 0zM1529.8 44.7a4.25 4.25 0 1 0 8.5 0a4.25 4.25 0 1 0 -8.5 0zM1531.8 42.7a4.25 4.25 0 1 0 8.5 0a4.25 4.25 0 1 0 -8.5 0zM1533.8 41.2a4.25 4.25 0 1 0 8.5 0a4.25 4.25 0 1 0 -8.5 0zM1535.9 39.6a4.25 4.25 0 1 0 8.5 0a4.25 4.25 0 1 0 -8.5 0zM1537.9 38a4.25 4.25 0 1 0 8.5 0a4.25 4.25 0 1 0 -8.5 0zM1539.9 35.9a4.25 4.25 0 1 0 8.5 0a4.25 4.25 0 1 0 -8.5 0zM1542 35.1a4.25 4.25 0 1 0 8.5 0a4.25 4.25 0 1 0 -8.5 0zM1544 37.7a4.25 4.25 0 1 0 8.5 0a4.25 4.25 0 1 0 -8.5 0zM1546 36.4a4.25 4.25 0 1 0 8.5 0a4.25 4.25 0 1 0 -8.5 0zM1548 37.3a4.25 4.25 0 1 0 8.5 0a4.25 4.25 0 1 0 -8.5 0zM1550.1 34.8a4.25 4.25 0 1 0 8.5 0a4.25 4.25 0 1 0 -8.5 0zM1552.1 36a4.25 4.25 0 1 0 8.5 0a4.25 4.25 0 1 0 -8.5 0zM1554.1 36.3a4.25 4.25 0 1 0 8.5 0a4.25 4.25 0 1 0 -8.5 0zM1556.1 35a4.25 4.25 0 1 0 8.5 0a4.25 4.25 0 1 0 -8.5 0zM1558.2 35.9a4.25 4.25 0 1 0 8.5 0a4.25 4.25 0 1 0 -8.5 0zM1560.2 37a4.25 4.25 0 1 0 8.5 0a4.25 4.25 0 1 0 -8.5 0zM1562.2 37.4a4.25 4.25 0 1 0 8.5 0a4.25 4.25 0 1 0 -8.5 0zM1564.3 37.9a4.25 4.25 0 1 0 8.5 0a4.25 4.25 0 1 0 -8.5 0zM1566.3 35.9a4.25 4.25 0 1 0 8.5 0a4.25 4.25 0 1 0 -8.5 0zM1568.3 35.8a4.25 4.25 0 1 0 8.5 0a4.25 4.25 0 1 0 -8.5 0zM1570.3 38.2a4.25 4.25 0 1 0 8.5 0a4.25 4.25 0 1 0 -8.5 0zM1572.4 39.3a4.25 4.25 0 1 0 8.5 0a4.25 4.25 0 1 0 -8.5 0zM1574.4 39.3a4.25 4.25 0 1 0 8.5 0a4.25 4.25 0 1 0 -8.5 0zM1576.4 38.6a4.25 4.25 0 1 0 8.5 0a4.25 4.25 0 1 0 -8.5 0zM1578.5 41a4.25 4.25 0 1 0 8.5 0a4.25 4.25 0 1 0 -8.5 0zM1580.5 41.4a4.25 4.25 0 1 0 8.5 0a4.25 4.25 0 1 0 -8.5 0zM1582.5 41.6a4.25 4.25 0 1 0 8.5 0a4.25 4.25 0 1 0 -8.5 0zM1584.5 41.1a4.25 4.25 0 1 0 8.5 0a4.25 4.25 0 1 0 -8.5 0zM1586.6 42.2a4.25 4.25 0 1 0 8.5 0a4.25 4.25 0 1 0 -8.5 0zM1588.6 43a4.25 4.25 0 1 0 8.5 0a4.25 4.25 0 1 0 -8.5 0zM1590.6 42.2a4.25 4.25 0 1 0 8.5 0a4.25 4.25 0 1 0 -8.5 0zM1592.7 41.4a4.25 4.25 0 1 0 8.5 0a4.25 4.25 0 1 0 -8.5 0zM1594.7 43.8a4.25 4.25 0 1 0 8.5 0a4.25 4.25 0 1 0 -8.5 0zM1596.7 44.3a4.25 4.25 0 1 0 8.5 0a4.25 4.25 0 1 0 -8.5 0zM1598.7 44.3a4.25 4.25 0 1 0 8.5 0a4.25 4.25 0 1 0 -8.5 0zM1600.8 45.5a4.25 4.25 0 1 0 8.5 0a4.25 4.25 0 1 0 -8.5 0zM1602.8 44.6a4.25 4.25 0 1 0 8.5 0a4.25 4.25 0 1 0 -8.5 0zM1604.8 45.5a4.25 4.25 0 1 0 8.5 0a4.25 4.25 0 1 0 -8.5 0zM1606.9 45.7a4.25 4.25 0 1 0 8.5 0a4.25 4.25 0 1 0 -8.5 0zM1608.9 47a4.25 4.25 0 1 0 8.5 0a4.25 4.25 0 1 0 -8.5 0zM1610.9 48.5a4.25 4.25 0 1 0 8.5 0a4.25 4.25 0 1 0 -8.5 0zM1612.9 47.5a4.25 4.25 0 1 0 8.5 0a4.25 4.25 0 1 0 -8.5 0zM1615 50.7a4.25 4.25 0 1 0 8.5 0a4.25 4.25 0 1 0 -8.5 0zM1617 51.5a4.25 4.25 0 1 0 8.5 0a4.25 4.25 0 1 0 -8.5 0zM1619 52.3a4.25 4.25 0 1 0 8.5 0a4.25 4.25 0 1 0 -8.5 0zM1620.4 53.1a4.25 4.25 0 1 0 8.5 0a4.25 4.25 0 1 0 -8.5 0zM1624.5 56.6a4.25 4.25 0 1 0 8.5 0a4.25 4.25 0 1 0 -8.5 0zM1628.6 57.5a4.25 4.25 0 1 0 8.5 0a4.25 4.25 0 1 0 -8.5 0zM1632.6 64.8a4.25 4.25 0 1 0 8.5 0a4.25 4.25 0 1 0 -8.5 0zM1636.7 71a4.25 4.25 0 1 0 8.5 0a4.25 4.25 0 1 0 -8.5 0zM1640.7 77.1a4.25 4.25 0 1 0 8.5 0a4.25 4.25 0 1 0 -8.5 0zM1644.8 88a4.25 4.25 0 1 0 8.5 0a4.25 4.25 0 1 0 -8.5 0zM1648.8 98.8a4.25 4.25 0 1 0 8.5 0a4.25 4.25 0 1 0 -8.5 0zM1652.9 108.1a4.25 4.25 0 1 0 8.5 0a4.25 4.25 0 1 0 -8.5 0zM1657 117.7a4.25 4.25 0 1 0 8.5 0a4.25 4.25 0 1 0 -8.5 0zM1661 129.3a4.25 4.25 0 1 0 8.5 0a4.25 4.25 0 1 0 -8.5 0zM1665.1 142.7a4.25 4.25 0 1 0 8.5 0a4.25 4.25 0 1 0 -8.5 0zM1669.1 156.2a4.25 4.25 0 1 0 8.5 0a4.25 4.25 0 1 0 -8.5 0zM1673.2 168a4.25 4.25 0 1 0 8.5 0a4.25 4.25 0 1 0 -8.5 0zM1677.2 182.3a4.25 4.25 0 1 0 8.5 0a4.25 4.25 0 1 0 -8.5 0zM1681.3 198.5a4.25 4.25 0 1 0 8.5 0a4.25 4.25 0 1 0 -8.5 0zM1685.4 214a4.25 4.25 0 1 0 8.5 0a4.25 4.25 0 1 0 -8.5 0zM1689.4 228.5a4.25 4.25 0 1 0 8.5 0a4.25 4.25 0 1 0 -8.5 0zM1693.5 242.3a4.25 4.25 0 1 0 8.5 0a4.25 4.25 0 1 0 -8.5 0zM1697.5 257.7a4.25 4.25 0 1 0 8.5 0a4.25 4.25 0 1 0 -8.5 0zM1701.6 266.3a4.25 4.25 0 1 0 8.5 0a4.25 4.25 0 1 0 -8.5 0zM1705.6 280a4.25 4.25 0 1 0 8.5 0a4.25 4.25 0 1 0 -8.5 0zM1709.7 291.5a4.25 4.25 0 1 0 8.5 0a4.25 4.25 0 1 0 -8.5 0zM1713.7 302.3a4.25 4.25 0 1 0 8.5 0a4.25 4.25 0 1 0 -8.5 0zM1717.8 312.7a4.25 4.25 0 1 0 8.5 0a4.25 4.25 0 1 0 -8.5 0zM1721.9 321.2a4.25 4.25 0 1 0 8.5 0a4.25 4.25 0 1 0 -8.5 0zM1725.9 331.5a4.25 4.25 0 1 0 8.5 0a4.25 4.25 0 1 0 -8.5 0zM1730 340.7a4.25 4.25 0 1 0 8.5 0a4.25 4.25 0 1 0 -8.5 0zM1734 348.4a4.25 4.25 0 1 0 8.5 0a4.25 4.25 0 1 0 -8.5 0zM1738.1 355a4.25 4.25 0 1 0 8.5 0a4.25 4.25 0 1 0 -8.5 0zM1742.1 359.7a4.25 4.25 0 1 0 8.5 0a4.25 4.25 0 1 0 -8.5 0zM1746.2 364.5a4.25 4.25 0 1 0 8.5 0a4.25 4.25 0 1 0 -8.5 0zM1750.3 369.4a4.25 4.25 0 1 0 8.5 0a4.25 4.25 0 1 0 -8.5 0zM1754.3 374.4a4.25 4.25 0 1 0 8.5 0a4.25 4.25 0 1 0 -8.5 0zM1758.4 378.5a4.25 4.25 0 1 0 8.5 0a4.25 4.25 0 1 0 -8.5 0zM1762.4 381.7a4.25 4.25 0 1 0 8.5 0a4.25 4.25 0 1 0 -8.5 0zM1766.5 384.3a4.25 4.25 0 1 0 8.5 0a4.25 4.25 0 1 0 -8.5 0zM1770.5 386.4a4.25 4.25 0 1 0 8.5 0a4.25 4.25 0 1 0 -8.5 0zM1774.6 387.7a4.25 4.25 0 1 0 8.5 0a4.25 4.25 0 1 0 -8.5 0zM1778.7 388.8a4.25 4.25 0 1 0 8.5 0a4.25 4.25 0 1 0 -8.5 0zM1782.7 389.6a4.25 4.25 0 1 0 8.5 0a4.25 4.25 0 1 0 -8.5 0zM1786.8 390.3a4.25 4.25 0 1 0 8.5 0a4.25 4.25 0 1 0 -8.5 0zM1790.8 391a4.25 4.25 0 1 0 8.5 0a4.25 4.25 0 1 0 -8.5 0zM1794.9 391.7a4.25 4.25 0 1 0 8.5 0a4.25 4.25 0 1 0 -8.5 0zM1798.9 392.2a4.25 4.25 0 1 0 8.5 0a4.25 4.25 0 1 0 -8.5 0zM1803 392.4a4.25 4.25 0 1 0 8.5 0a4.25 4.25 0 1 0 -8.5 0zM1807.1 392.5a4.25 4.25 0 1 0 8.5 0a4.25 4.25 0 1 0 -8.5 0zM1811.1 392.6a4.25 4.25 0 1 0 8.5 0a4.25 4.25 0 1 0 -8.5 0zM1815.2 392.6a4.25 4.25 0 1 0 8.5 0a4.25 4.25 0 1 0 -8.5 0zM1819.2 392.7a4.25 4.25 0 1 0 8.5 0a4.25 4.25 0 1 0 -8.5 0zM1823.3 392.7a4.25 4.25 0 1 0 8.5 0a4.25 4.25 0 1 0 -8.5 0zM1827.3 392.8a4.25 4.25 0 1 0 8.5 0a4.25 4.25 0 1 0 -8.5 0zM1831.4 392.8a4.25 4.25 0 1 0 8.5 0a4.25 4.25 0 1 0 -8.5 0zM1835.4 392.8a4.25 4.25 0 1 0 8.5 0a4.25 4.25 0 1 0 -8.5 0zM1839.5 392.9a4.25 4.25 0 1 0 8.5 0a4.25 4.25 0 1 0 -8.5 0zM1843.6 392.9a4.25 4.25 0 1 0 8.5 0a4.25 4.25 0 1 0 -8.5 0zM1847.6 393a4.25 4.25 0 1 0 8.5 0a4.25 4.25 0 1 0 -8.5 0zM1847.6 393a4.25 4.25 0 1 0 8.5 0a4.25 4.25 0 1 0 -8.5 0zM1853.7 393a4.25 4.25 0 1 0 8.5 0a4.25 4.25 0 1 0 -8.5 0zM1859.8 393a4.25 4.25 0 1 0 8.5 0a4.25 4.25 0 1 0 -8.5 0zM1865.9 393.1a4.25 4.25 0 1 0 8.5 0a4.25 4.25 0 1 0 -8.5 0zM1872 393.1a4.25 4.25 0 1 0 8.5 0a4.25 4.25 0 1 0 -8.5 0zM1878 393.1a4.25 4.25 0 1 0 8.5 0a4.25 4.25 0 1 0 -8.5 0zM1884.1 393.2a4.25 4.25 0 1 0 8.5 0a4.25 4.25 0 1 0 -8.5 0zM1890.2 393.2a4.25 4.25 0 1 0 8.5 0a4.25 4.25 0 1 0 -8.5 0zM1896.3 393.2a4.25 4.25 0 1 0 8.5 0a4.25 4.25 0 1 0 -8.5 0zM1902.4 393.2a4.25 4.25 0 1 0 8.5 0a4.25 4.25 0 1 0 -8.5 0zM1908.5 393.3a4.25 4.25 0 1 0 8.5 0a4.25 4.25 0 1 0 -8.5 0zM1914.6 393.3a4.25 4.25 0 1 0 8.5 0a4.25 4.25 0 1 0 -8.5 0zM1920.6 393.3a4.25 4.25 0 1 0 8.5 0a4.25 4.25 0 1 0 -8.5 0zM1926.7 393.3a4.25 4.25 0 1 0 8.5 0a4.25 4.25 0 1 0 -8.5 0zM1932.8 393.3a4.25 4.25 0 1 0 8.5 0a4.25 4.25 0 1 0 -8.5 0zM1938.9 393.3a4.25 4.25 0 1 0 8.5 0a4.25 4.25 0 1 0 -8.5 0zM1945 393.3a4.25 4.25 0 1 0 8.5 0a4.25 4.25 0 1 0 -8.5 0zM1951.1 393.3a4.25 4.25 0 1 0 8.5 0a4.25 4.25 0 1 0 -8.5 0z" fill="#BA529F"/>
</g>
<g font-family="'Liberation Sans', Arial, Helvetica, sans-serif" font-size="29.6" text-anchor="middle" fill="#000">
<text transform="translate(1474.6 430.8) scale(1 1.04)">0</text>
<text transform="translate(1535.4 430.8) scale(1 1.04)">5</text>
<text transform="translate(1596.3 430.8) scale(1 1.04)">10</text>
<text transform="translate(1657.1 430.8) scale(1 1.04)">15</text>
<text transform="translate(1718 430.8) scale(1 1.04)">20</text>
<text transform="translate(1778.8 430.8) scale(1 1.04)">25</text>
<text transform="translate(1839.7 430.8) scale(1 1.04)">30</text>
<text transform="translate(1900.5 430.8) scale(1 1.04)">35</text>
<text transform="translate(1961.4 430.8) scale(1 1.04)">40</text>
</g>
<g font-family="'Liberation Sans', Arial, Helvetica, sans-serif" font-weight="bold" fill="#000">
<text transform="translate(1717.8 480) scale(1 1.04)" font-size="29.6" text-anchor="middle">Sputtering time (min)</text>
<text transform="translate(1446 219.9) scale(1.02 1) rotate(-90)" font-size="30.1" text-anchor="middle">APPH (a.u.)</text>
<text transform="translate(1811.8 64.5) scale(1 1.04)" font-size="39.7">Al: ICP</text>
<text transform="translate(1543.3 81.3) scale(1 1.04)" font-size="29.3" fill="#BA529F">Al</text>
<text transform="translate(1732.1 159) scale(1 1.04)" font-size="29.3" fill="#3A53A4">O</text>
<text transform="translate(1931.6 223) scale(1 1.04)" font-size="29.3" fill="#ED2024">C</text>
<text transform="translate(1720.8 302.5) scale(1 1.04)" font-size="29.3" fill="#6F52A3">Al-ox.</text>
</g>
</g>
<g>
<rect x="52.6" y="550.2" width="487.3" height="392.3" fill="none" stroke="#000" stroke-width="1.4"/>
<path d="M52.6 942.5v7.9M84.7 550.2v4.2M84.7 942.5v4.2M116.8 550.2v7.9M116.8 942.5v7.9M148.8 550.2v4.2M148.8 942.5v4.2M180.9 550.2v7.9M180.9 942.5v7.9M213 550.2v4.2M213 942.5v4.2M245 550.2v7.9M245 942.5v7.9M277.1 550.2v4.2M277.1 942.5v4.2M309.2 550.2v7.9M309.2 942.5v7.9M341.3 550.2v4.2M341.3 942.5v4.2M373.4 550.2v7.9M373.4 942.5v7.9M405.4 550.2v4.2M405.4 942.5v4.2M437.5 550.2v7.9M437.5 942.5v7.9M469.6 550.2v4.2M469.6 942.5v4.2M501.7 550.2v7.9M501.7 942.5v7.9M533.7 550.2v4.2M533.7 942.5v4.2" stroke="#000" stroke-width="1.3" fill="none"/>
<g clip-path="url(#cp3)">
<path d="M49.6 929.2h7.2v7.2h-7.2zM51.8 932.5h7.2v7.2h-7.2zM53.9 933.1h7.2v7.2h-7.2zM56.1 933.5h7.2v7.2h-7.2zM58.2 933.8h7.2v7.2h-7.2zM60.3 933.6h7.2v7.2h-7.2zM62.5 933.5h7.2v7.2h-7.2zM64.6 933.3h7.2v7.2h-7.2zM66.7 933.5h7.2v7.2h-7.2zM68.2 933h7.2v7.2h-7.2zM71.5 933.7h7.2v7.2h-7.2zM74.7 933.3h7.2v7.2h-7.2zM77.9 933.1h7.2v7.2h-7.2zM81.1 933.2h7.2v7.2h-7.2zM84.3 933.2h7.2v7.2h-7.2zM87.5 933.7h7.2v7.2h-7.2zM90.7 933.7h7.2v7.2h-7.2zM93.9 933h7.2v7.2h-7.2zM97.1 933.7h7.2v7.2h-7.2zM100.3 933.7h7.2v7.2h-7.2zM103.5 933.2h7.2v7.2h-7.2zM106.7 933h7.2v7.2h-7.2zM109.9 933.2h7.2v7.2h-7.2zM113.2 933.2h7.2v7.2h-7.2zM116.4 933.5h7.2v7.2h-7.2zM119.6 933.3h7.2v7.2h-7.2zM122.8 932.8h7.2v7.2h-7.2zM126 933.5h7.2v7.2h-7.2zM129.2 932.9h7.2v7.2h-7.2zM132.4 933.7h7.2v7.2h-7.2zM135.6 933h7.2v7.2h-7.2zM138.8 933.2h7.2v7.2h-7.2zM142 933.1h7.2v7.2h-7.2zM145.2 933.2h7.2v7.2h-7.2zM148.4 933.8h7.2v7.2h-7.2zM151.6 933.7h7.2v7.2h-7.2zM154.8 933.6h7.2v7.2h-7.2zM158.1 933.5h7.2v7.2h-7.2zM161.3 932.9h7.2v7.2h-7.2zM164.5 933.2h7.2v7.2h-7.2zM167.7 933.2h7.2v7.2h-7.2zM170.9 933.1h7.2v7.2h-7.2zM174.1 933.6h7.2v7.2h-7.2zM177.3 933.2h7.2v7.2h-7.2zM180.5 933.2h7.2v7.2h-7.2zM183.7 933.1h7.2v7.2h-7.2zM186.9 932.8h7.2v7.2h-7.2zM190.1 933.6h7.2v7.2h-7.2zM193.3 933.8h7.2v7.2h-7.2zM196.5 933.5h7.2v7.2h-7.2zM199.8 933.1h7.2v7.2h-7.2zM203 932.6h7.2v7.2h-7.2zM206.2 933.5h7.2v7.2h-7.2zM209.4 933.8h7.2v7.2h-7.2zM212.6 933.5h7.2v7.2h-7.2zM215.8 933.7h7.2v7.2h-7.2zM219 933.8h7.2v7.2h-7.2zM222.2 933.7h7.2v7.2h-7.2zM225.4 933.3h7.2v7.2h-7.2zM228.6 933.7h7.2v7.2h-7.2zM231.8 933.6h7.2v7.2h-7.2zM235 932.9h7.2v7.2h-7.2zM238.2 933.3h7.2v7.2h-7.2zM241.4 933h7.2v7.2h-7.2zM244.7 933.3h7.2v7.2h-7.2zM247.9 933.6h7.2v7.2h-7.2zM251.1 933.1h7.2v7.2h-7.2zM254.3 932.8h7.2v7.2h-7.2zM257.5 933.8h7.2v7.2h-7.2zM260.7 933.5h7.2v7.2h-7.2zM263.9 933.8h7.2v7.2h-7.2zM267.1 933h7.2v7.2h-7.2zM270.3 933.7h7.2v7.2h-7.2zM273.5 934h7.2v7.2h-7.2zM276.7 933.9h7.2v7.2h-7.2zM279.9 933.3h7.2v7.2h-7.2zM283.1 933.4h7.2v7.2h-7.2zM286.4 933.3h7.2v7.2h-7.2zM289.6 933.6h7.2v7.2h-7.2zM292.8 933.6h7.2v7.2h-7.2zM296 933.3h7.2v7.2h-7.2zM299.2 932.9h7.2v7.2h-7.2zM302.4 933.5h7.2v7.2h-7.2zM305.6 933.1h7.2v7.2h-7.2zM308.8 933.4h7.2v7.2h-7.2zM312 933.3h7.2v7.2h-7.2zM315.2 933.7h7.2v7.2h-7.2zM318.4 933.5h7.2v7.2h-7.2zM321.6 933h7.2v7.2h-7.2zM324.8 932.8h7.2v7.2h-7.2zM328.1 932.6h7.2v7.2h-7.2zM333.4 931h7.2v7.2h-7.2zM337.7 930.6h7.2v7.2h-7.2zM342 930.1h7.2v7.2h-7.2zM346.2 929.6h7.2v7.2h-7.2zM350.5 929h7.2v7.2h-7.2zM354.8 928h7.2v7.2h-7.2zM359.1 927.5h7.2v7.2h-7.2zM363.3 927.3h7.2v7.2h-7.2zM367.6 926.3h7.2v7.2h-7.2zM371.9 925.5h7.2v7.2h-7.2zM376.2 922.1h7.2v7.2h-7.2zM380.4 919.1h7.2v7.2h-7.2zM384.7 914.1h7.2v7.2h-7.2zM389 907.9h7.2v7.2h-7.2zM393.3 902.8h7.2v7.2h-7.2zM397.5 895.9h7.2v7.2h-7.2zM401.8 888.5h7.2v7.2h-7.2zM406.1 881.1h7.2v7.2h-7.2zM410.4 873.7h7.2v7.2h-7.2zM414.7 865.8h7.2v7.2h-7.2zM418.9 858h7.2v7.2h-7.2zM423.2 849.8h7.2v7.2h-7.2zM427.5 844.9h7.2v7.2h-7.2zM431.8 841h7.2v7.2h-7.2zM436 837.4h7.2v7.2h-7.2zM440.3 834.4h7.2v7.2h-7.2zM444.6 832h7.2v7.2h-7.2zM448.9 829.1h7.2v7.2h-7.2zM453.1 826.9h7.2v7.2h-7.2zM457.4 825.3h7.2v7.2h-7.2zM461.7 823.2h7.2v7.2h-7.2zM466 821.8h7.2v7.2h-7.2zM470.3 819.6h7.2v7.2h-7.2zM474.5 819.2h7.2v7.2h-7.2zM478.8 818.1h7.2v7.2h-7.2zM483.1 817.5h7.2v7.2h-7.2zM487.4 817.8h7.2v7.2h-7.2zM491.6 816.7h7.2v7.2h-7.2zM495.9 817.1h7.2v7.2h-7.2zM500.2 816.4h7.2v7.2h-7.2zM504.5 816.3h7.2v7.2h-7.2zM508.7 815.3h7.2v7.2h-7.2zM513 815.6h7.2v7.2h-7.2zM517.3 815.4h7.2v7.2h-7.2zM521.6 814.6h7.2v7.2h-7.2z" fill="#ED2024"/>
<path d="M53.8 908.2L54.8 920.4" fill="none" stroke="#3A53A4" stroke-width="1.2"/>
<path d="M53.2 897.9l5 8.3h-10zM55.4 922.4l5 8.3h-10zM57.5 929.1l5 8.3h-10zM59.7 931.4l5 8.3h-10zM61.8 931.5l5 8.3h-10zM63.9 932.5l5 8.3h-10zM66.1 932.5l5 8.3h-10zM68.2 932.5l5 8.3h-10zM70.3 933.7l5 8.3h-10zM71.8 932.1l5 8.3h-10zM75.1 932.8l5 8.3h-10zM78.3 933.6l5 8.3h-10zM81.5 931.6l5 8.3h-10zM84.7 933.3l5 8.3h-10zM87.9 933.9l5 8.3h-10zM91.1 931.4l5 8.3h-10zM94.3 931.6l5 8.3h-10zM97.5 931.6l5 8.3h-10zM100.7 931l5 8.3h-10zM103.9 932.9l5 8.3h-10zM107.1 931l5 8.3h-10zM110.3 932.9l5 8.3h-10zM113.5 933.7l5 8.3h-10zM116.8 931.2l5 8.3h-10zM120 932.3l5 8.3h-10zM123.2 931l5 8.3h-10zM126.4 933.2l5 8.3h-10zM129.6 932l5 8.3h-10zM132.8 932.3l5 8.3h-10zM136 932.6l5 8.3h-10zM139.2 933l5 8.3h-10zM142.4 932.3l5 8.3h-10zM145.6 932.6l5 8.3h-10zM148.8 932.1l5 8.3h-10zM152 932.7l5 8.3h-10zM155.2 931.6l5 8.3h-10zM158.4 932.6l5 8.3h-10zM161.7 931l5 8.3h-10zM164.9 932.2l5 8.3h-10zM168.1 934.1l5 8.3h-10zM171.3 932.7l5 8.3h-10zM174.5 931.6l5 8.3h-10zM177.7 932.8l5 8.3h-10zM180.9 931.8l5 8.3h-10zM184.1 931.3l5 8.3h-10zM187.3 932l5 8.3h-10zM190.5 933.2l5 8.3h-10zM193.7 932.9l5 8.3h-10zM196.9 932.6l5 8.3h-10zM200.1 931.9l5 8.3h-10zM203.4 931.8l5 8.3h-10zM206.6 933.7l5 8.3h-10zM209.8 932.9l5 8.3h-10zM213 931.9l5 8.3h-10zM216.2 931l5 8.3h-10zM219.4 931.6l5 8.3h-10zM222.6 934.7l5 8.3h-10zM225.8 931.8l5 8.3h-10zM229 932.7l5 8.3h-10zM232.2 932.9l5 8.3h-10zM235.4 932.6l5 8.3h-10zM238.6 932.5l5 8.3h-10zM241.8 931.7l5 8.3h-10zM245 931.9l5 8.3h-10zM248.3 934.1l5 8.3h-10zM251.5 932.2l5 8.3h-10zM254.7 933.5l5 8.3h-10zM257.9 931.4l5 8.3h-10zM261.1 932.6l5 8.3h-10zM264.3 933l5 8.3h-10zM267.5 933.6l5 8.3h-10zM270.7 931.9l5 8.3h-10zM273.9 933.3l5 8.3h-10zM277.1 933.2l5 8.3h-10zM280.3 932.3l5 8.3h-10zM283.5 933.2l5 8.3h-10zM286.7 932.2l5 8.3h-10zM290 932.2l5 8.3h-10zM293.2 932.9l5 8.3h-10zM296.4 930.7l5 8.3h-10zM299.6 932.8l5 8.3h-10zM302.8 932.1l5 8.3h-10zM306 931.8l5 8.3h-10zM309.2 932.6l5 8.3h-10zM312.4 933.6l5 8.3h-10zM315.6 932.7l5 8.3h-10zM318.8 934l5 8.3h-10zM322 932.1l5 8.3h-10zM325.2 932l5 8.3h-10zM328.4 934.3l5 8.3h-10zM331.7 933.4l5 8.3h-10zM337 933.8l5 8.3h-10zM341.3 932.5l5 8.3h-10zM345.6 933.8l5 8.3h-10zM349.8 933.4l5 8.3h-10zM354.1 933.8l5 8.3h-10zM358.4 933.3l5 8.3h-10zM362.7 934.3l5 8.3h-10zM366.9 932.9l5 8.3h-10zM371.2 932.7l5 8.3h-10zM375.5 932.3l5 8.3h-10zM379.8 934.5l5 8.3h-10zM384 933l5 8.3h-10zM388.3 932.9l5 8.3h-10zM392.6 933l5 8.3h-10zM396.9 933.5l5 8.3h-10zM401.1 932.8l5 8.3h-10zM405.4 933.7l5 8.3h-10zM409.7 933.5l5 8.3h-10zM414 933.6l5 8.3h-10zM418.3 933.3l5 8.3h-10zM422.5 934.2l5 8.3h-10zM426.8 933.9l5 8.3h-10zM431.1 934.4l5 8.3h-10zM435.4 934.6l5 8.3h-10zM439.6 934.7l5 8.3h-10zM443.9 932.8l5 8.3h-10zM448.2 934.1l5 8.3h-10zM452.5 934l5 8.3h-10zM456.7 935.3l5 8.3h-10zM461 933.5l5 8.3h-10zM465.3 934.2l5 8.3h-10zM469.6 934.6l5 8.3h-10zM473.9 934.6l5 8.3h-10zM478.1 935.7l5 8.3h-10zM482.4 934.6l5 8.3h-10zM486.7 935.8l5 8.3h-10zM491 933.9l5 8.3h-10zM495.2 933.7l5 8.3h-10zM499.5 936.1l5 8.3h-10zM503.8 935.5l5 8.3h-10zM508.1 935.6l5 8.3h-10zM512.3 935.3l5 8.3h-10zM516.6 935.7l5 8.3h-10zM520.9 934.3l5 8.3h-10zM525.2 936.1l5 8.3h-10z" fill="#3A53A4"/>
<path d="M54.2 862.1L54.4 863.6M55.8 875.9L57.1 895.9M58.1 908.2L59.1 918.7" fill="none" stroke="#808038" stroke-width="1.2"/>
<path d="M49.6 852.4h7.2v7.2h-7.2zM51.8 866.1h7.2v7.2h-7.2zM53.9 898.4h7.2v7.2h-7.2zM56.1 921.3h7.2v7.2h-7.2zM58.2 928.2h7.2v7.2h-7.2zM60.3 931.9h7.2v7.2h-7.2zM62.5 933.4h7.2v7.2h-7.2zM64.6 933.8h7.2v7.2h-7.2z" fill="#808038"/>
<path d="M53.7 645.1L55 626.4M390.2 730.8L390.7 732.2M394.2 744.1L395.3 748.1M398.3 760.1L399.7 766.3M403 778.3L403.6 780M407.1 791.9L408 794.9M411.3 806.8L412.4 811.1M415.2 823.1L417 831.7M420 843.7L420.7 846.1M424.5 857.9L424.8 859" fill="none" stroke="#008080" stroke-width="1.2"/>
<path d="M49 651.3a4.25 4.25 0 1 0 8.5 0a4.25 4.25 0 1 0 -8.5 0zM51.1 620.2a4.25 4.25 0 1 0 8.5 0a4.25 4.25 0 1 0 -8.5 0zM53.3 609.1a4.25 4.25 0 1 0 8.5 0a4.25 4.25 0 1 0 -8.5 0zM55.4 600.9a4.25 4.25 0 1 0 8.5 0a4.25 4.25 0 1 0 -8.5 0zM57.5 596.9a4.25 4.25 0 1 0 8.5 0a4.25 4.25 0 1 0 -8.5 0zM59.7 594.4a4.25 4.25 0 1 0 8.5 0a4.25 4.25 0 1 0 -8.5 0zM61.8 594.2a4.25 4.25 0 1 0 8.5 0a4.25 4.25 0 1 0 -8.5 0zM64 592.8a4.25 4.25 0 1 0 8.5 0a4.25 4.25 0 1 0 -8.5 0zM66.1 590.8a4.25 4.25 0 1 0 8.5 0a4.25 4.25 0 1 0 -8.5 0zM67.6 591a4.25 4.25 0 1 0 8.5 0a4.25 4.25 0 1 0 -8.5 0zM70.8 592.5a4.25 4.25 0 1 0 8.5 0a4.25 4.25 0 1 0 -8.5 0zM74 591.7a4.25 4.25 0 1 0 8.5 0a4.25 4.25 0 1 0 -8.5 0zM77.2 591.6a4.25 4.25 0 1 0 8.5 0a4.25 4.25 0 1 0 -8.5 0zM80.4 592.3a4.25 4.25 0 1 0 8.5 0a4.25 4.25 0 1 0 -8.5 0zM83.6 592.4a4.25 4.25 0 1 0 8.5 0a4.25 4.25 0 1 0 -8.5 0zM86.8 593.1a4.25 4.25 0 1 0 8.5 0a4.25 4.25 0 1 0 -8.5 0zM90 594.2a4.25 4.25 0 1 0 8.5 0a4.25 4.25 0 1 0 -8.5 0zM93.3 595.2a4.25 4.25 0 1 0 8.5 0a4.25 4.25 0 1 0 -8.5 0zM96.5 597a4.25 4.25 0 1 0 8.5 0a4.25 4.25 0 1 0 -8.5 0zM99.7 596.3a4.25 4.25 0 1 0 8.5 0a4.25 4.25 0 1 0 -8.5 0zM102.9 597.5a4.25 4.25 0 1 0 8.5 0a4.25 4.25 0 1 0 -8.5 0zM106.1 597.5a4.25 4.25 0 1 0 8.5 0a4.25 4.25 0 1 0 -8.5 0zM109.3 597.4a4.25 4.25 0 1 0 8.5 0a4.25 4.25 0 1 0 -8.5 0zM112.5 597.6a4.25 4.25 0 1 0 8.5 0a4.25 4.25 0 1 0 -8.5 0zM115.7 598.2a4.25 4.25 0 1 0 8.5 0a4.25 4.25 0 1 0 -8.5 0zM118.9 599.6a4.25 4.25 0 1 0 8.5 0a4.25 4.25 0 1 0 -8.5 0zM122.1 600.7a4.25 4.25 0 1 0 8.5 0a4.25 4.25 0 1 0 -8.5 0zM125.3 601.2a4.25 4.25 0 1 0 8.5 0a4.25 4.25 0 1 0 -8.5 0zM128.5 602.5a4.25 4.25 0 1 0 8.5 0a4.25 4.25 0 1 0 -8.5 0zM131.7 602.9a4.25 4.25 0 1 0 8.5 0a4.25 4.25 0 1 0 -8.5 0zM135 604.8a4.25 4.25 0 1 0 8.5 0a4.25 4.25 0 1 0 -8.5 0zM138.2 603.6a4.25 4.25 0 1 0 8.5 0a4.25 4.25 0 1 0 -8.5 0zM141.4 601a4.25 4.25 0 1 0 8.5 0a4.25 4.25 0 1 0 -8.5 0zM144.6 599.3a4.25 4.25 0 1 0 8.5 0a4.25 4.25 0 1 0 -8.5 0zM147.8 601.3a4.25 4.25 0 1 0 8.5 0a4.25 4.25 0 1 0 -8.5 0zM151 602.6a4.25 4.25 0 1 0 8.5 0a4.25 4.25 0 1 0 -8.5 0zM154.2 603.6a4.25 4.25 0 1 0 8.5 0a4.25 4.25 0 1 0 -8.5 0zM157.4 604.5a4.25 4.25 0 1 0 8.5 0a4.25 4.25 0 1 0 -8.5 0zM160.6 604.5a4.25 4.25 0 1 0 8.5 0a4.25 4.25 0 1 0 -8.5 0zM163.8 607a4.25 4.25 0 1 0 8.5 0a4.25 4.25 0 1 0 -8.5 0zM167 607.2a4.25 4.25 0 1 0 8.5 0a4.25 4.25 0 1 0 -8.5 0zM170.2 609.4a4.25 4.25 0 1 0 8.5 0a4.25 4.25 0 1 0 -8.5 0zM173.4 608.2a4.25 4.25 0 1 0 8.5 0a4.25 4.25 0 1 0 -8.5 0zM176.7 608.6a4.25 4.25 0 1 0 8.5 0a4.25 4.25 0 1 0 -8.5 0zM179.9 610.2a4.25 4.25 0 1 0 8.5 0a4.25 4.25 0 1 0 -8.5 0zM183.1 610.1a4.25 4.25 0 1 0 8.5 0a4.25 4.25 0 1 0 -8.5 0zM186.3 611.3a4.25 4.25 0 1 0 8.5 0a4.25 4.25 0 1 0 -8.5 0zM189.5 612.2a4.25 4.25 0 1 0 8.5 0a4.25 4.25 0 1 0 -8.5 0zM192.7 613.2a4.25 4.25 0 1 0 8.5 0a4.25 4.25 0 1 0 -8.5 0zM195.9 615.2a4.25 4.25 0 1 0 8.5 0a4.25 4.25 0 1 0 -8.5 0zM199.1 615.3a4.25 4.25 0 1 0 8.5 0a4.25 4.25 0 1 0 -8.5 0zM202.3 616.1a4.25 4.25 0 1 0 8.5 0a4.25 4.25 0 1 0 -8.5 0zM205.5 615.1a4.25 4.25 0 1 0 8.5 0a4.25 4.25 0 1 0 -8.5 0zM208.7 615.8a4.25 4.25 0 1 0 8.5 0a4.25 4.25 0 1 0 -8.5 0zM211.9 615.9a4.25 4.25 0 1 0 8.5 0a4.25 4.25 0 1 0 -8.5 0zM215.1 618.6a4.25 4.25 0 1 0 8.5 0a4.25 4.25 0 1 0 -8.5 0zM218.3 618.9a4.25 4.25 0 1 0 8.5 0a4.25 4.25 0 1 0 -8.5 0zM221.6 621.8a4.25 4.25 0 1 0 8.5 0a4.25 4.25 0 1 0 -8.5 0zM224.8 623.4a4.25 4.25 0 1 0 8.5 0a4.25 4.25 0 1 0 -8.5 0zM228 624.7a4.25 4.25 0 1 0 8.5 0a4.25 4.25 0 1 0 -8.5 0zM231.2 624.2a4.25 4.25 0 1 0 8.5 0a4.25 4.25 0 1 0 -8.5 0zM234.4 626.4a4.25 4.25 0 1 0 8.5 0a4.25 4.25 0 1 0 -8.5 0zM237.6 625.9a4.25 4.25 0 1 0 8.5 0a4.25 4.25 0 1 0 -8.5 0zM240.8 626.6a4.25 4.25 0 1 0 8.5 0a4.25 4.25 0 1 0 -8.5 0zM244 626.8a4.25 4.25 0 1 0 8.5 0a4.25 4.25 0 1 0 -8.5 0zM247.2 629.2a4.25 4.25 0 1 0 8.5 0a4.25 4.25 0 1 0 -8.5 0zM250.4 630.3a4.25 4.25 0 1 0 8.5 0a4.25 4.25 0 1 0 -8.5 0zM253.6 629.9a4.25 4.25 0 1 0 8.5 0a4.25 4.25 0 1 0 -8.5 0zM256.8 630.9a4.25 4.25 0 1 0 8.5 0a4.25 4.25 0 1 0 -8.5 0zM260 632.4a4.25 4.25 0 1 0 8.5 0a4.25 4.25 0 1 0 -8.5 0zM263.3 635.3a4.25 4.25 0 1 0 8.5 0a4.25 4.25 0 1 0 -8.5 0zM266.5 635.3a4.25 4.25 0 1 0 8.5 0a4.25 4.25 0 1 0 -8.5 0zM269.7 635.2a4.25 4.25 0 1 0 8.5 0a4.25 4.25 0 1 0 -8.5 0zM272.9 635.2a4.25 4.25 0 1 0 8.5 0a4.25 4.25 0 1 0 -8.5 0zM276.1 636.8a4.25 4.25 0 1 0 8.5 0a4.25 4.25 0 1 0 -8.5 0zM279.3 638.9a4.25 4.25 0 1 0 8.5 0a4.25 4.25 0 1 0 -8.5 0zM282.5 640.2a4.25 4.25 0 1 0 8.5 0a4.25 4.25 0 1 0 -8.5 0zM285.7 639.7a4.25 4.25 0 1 0 8.5 0a4.25 4.25 0 1 0 -8.5 0zM288.9 640.3a4.25 4.25 0 1 0 8.5 0a4.25 4.25 0 1 0 -8.5 0zM292.1 641.2a4.25 4.25 0 1 0 8.5 0a4.25 4.25 0 1 0 -8.5 0zM295.3 641.2a4.25 4.25 0 1 0 8.5 0a4.25 4.25 0 1 0 -8.5 0zM298.5 643.8a4.25 4.25 0 1 0 8.5 0a4.25 4.25 0 1 0 -8.5 0zM301.7 643.3a4.25 4.25 0 1 0 8.5 0a4.25 4.25 0 1 0 -8.5 0zM305 645.5a4.25 4.25 0 1 0 8.5 0a4.25 4.25 0 1 0 -8.5 0zM308.2 644.5a4.25 4.25 0 1 0 8.5 0a4.25 4.25 0 1 0 -8.5 0zM311.4 645.7a4.25 4.25 0 1 0 8.5 0a4.25 4.25 0 1 0 -8.5 0zM314.6 647.5a4.25 4.25 0 1 0 8.5 0a4.25 4.25 0 1 0 -8.5 0zM317.8 647.7a4.25 4.25 0 1 0 8.5 0a4.25 4.25 0 1 0 -8.5 0zM321 649.6a4.25 4.25 0 1 0 8.5 0a4.25 4.25 0 1 0 -8.5 0zM324.2 650.2a4.25 4.25 0 1 0 8.5 0a4.25 4.25 0 1 0 -8.5 0zM327.4 650.5a4.25 4.25 0 1 0 8.5 0a4.25 4.25 0 1 0 -8.5 0zM332.7 653.7a4.25 4.25 0 1 0 8.5 0a4.25 4.25 0 1 0 -8.5 0zM337 656.3a4.25 4.25 0 1 0 8.5 0a4.25 4.25 0 1 0 -8.5 0zM341.3 658.8a4.25 4.25 0 1 0 8.5 0a4.25 4.25 0 1 0 -8.5 0zM345.6 662.1a4.25 4.25 0 1 0 8.5 0a4.25 4.25 0 1 0 -8.5 0zM349.9 666a4.25 4.25 0 1 0 8.5 0a4.25 4.25 0 1 0 -8.5 0zM354.1 670.4a4.25 4.25 0 1 0 8.5 0a4.25 4.25 0 1 0 -8.5 0zM358.4 675a4.25 4.25 0 1 0 8.5 0a4.25 4.25 0 1 0 -8.5 0zM362.7 682.2a4.25 4.25 0 1 0 8.5 0a4.25 4.25 0 1 0 -8.5 0zM367 689.9a4.25 4.25 0 1 0 8.5 0a4.25 4.25 0 1 0 -8.5 0zM371.2 696.8a4.25 4.25 0 1 0 8.5 0a4.25 4.25 0 1 0 -8.5 0zM375.5 704.3a4.25 4.25 0 1 0 8.5 0a4.25 4.25 0 1 0 -8.5 0zM379.8 714a4.25 4.25 0 1 0 8.5 0a4.25 4.25 0 1 0 -8.5 0zM384.1 724.9a4.25 4.25 0 1 0 8.5 0a4.25 4.25 0 1 0 -8.5 0zM388.3 738.1a4.25 4.25 0 1 0 8.5 0a4.25 4.25 0 1 0 -8.5 0zM392.6 754.1a4.25 4.25 0 1 0 8.5 0a4.25 4.25 0 1 0 -8.5 0zM396.9 772.3a4.25 4.25 0 1 0 8.5 0a4.25 4.25 0 1 0 -8.5 0zM401.2 785.9a4.25 4.25 0 1 0 8.5 0a4.25 4.25 0 1 0 -8.5 0zM405.5 800.8a4.25 4.25 0 1 0 8.5 0a4.25 4.25 0 1 0 -8.5 0zM409.7 817.1a4.25 4.25 0 1 0 8.5 0a4.25 4.25 0 1 0 -8.5 0zM414 837.8a4.25 4.25 0 1 0 8.5 0a4.25 4.25 0 1 0 -8.5 0zM418.3 852a4.25 4.25 0 1 0 8.5 0a4.25 4.25 0 1 0 -8.5 0zM422.6 864.8a4.25 4.25 0 1 0 8.5 0a4.25 4.25 0 1 0 -8.5 0zM426.8 874.8a4.25 4.25 0 1 0 8.5 0a4.25 4.25 0 1 0 -8.5 0zM431.1 884.3a4.25 4.25 0 1 0 8.5 0a4.25 4.25 0 1 0 -8.5 0zM435.4 893.7a4.25 4.25 0 1 0 8.5 0a4.25 4.25 0 1 0 -8.5 0zM439.7 901.2a4.25 4.25 0 1 0 8.5 0a4.25 4.25 0 1 0 -8.5 0zM443.9 907.8a4.25 4.25 0 1 0 8.5 0a4.25 4.25 0 1 0 -8.5 0zM448.2 913.2a4.25 4.25 0 1 0 8.5 0a4.25 4.25 0 1 0 -8.5 0zM452.5 917.2a4.25 4.25 0 1 0 8.5 0a4.25 4.25 0 1 0 -8.5 0zM456.8 922.3a4.25 4.25 0 1 0 8.5 0a4.25 4.25 0 1 0 -8.5 0zM461 926a4.25 4.25 0 1 0 8.5 0a4.25 4.25 0 1 0 -8.5 0zM465.3 928.7a4.25 4.25 0 1 0 8.5 0a4.25 4.25 0 1 0 -8.5 0zM469.6 932a4.25 4.25 0 1 0 8.5 0a4.25 4.25 0 1 0 -8.5 0zM473.9 934.3a4.25 4.25 0 1 0 8.5 0a4.25 4.25 0 1 0 -8.5 0zM478.2 935.8a4.25 4.25 0 1 0 8.5 0a4.25 4.25 0 1 0 -8.5 0zM482.4 937a4.25 4.25 0 1 0 8.5 0a4.25 4.25 0 1 0 -8.5 0zM486.7 937.9a4.25 4.25 0 1 0 8.5 0a4.25 4.25 0 1 0 -8.5 0zM491 938.4a4.25 4.25 0 1 0 8.5 0a4.25 4.25 0 1 0 -8.5 0zM495.3 938.9a4.25 4.25 0 1 0 8.5 0a4.25 4.25 0 1 0 -8.5 0zM499.5 939.2a4.25 4.25 0 1 0 8.5 0a4.25 4.25 0 1 0 -8.5 0zM503.8 939.4a4.25 4.25 0 1 0 8.5 0a4.25 4.25 0 1 0 -8.5 0zM508.1 939.6a4.25 4.25 0 1 0 8.5 0a4.25 4.25 0 1 0 -8.5 0zM512.4 939.7a4.25 4.25 0 1 0 8.5 0a4.25 4.25 0 1 0 -8.5 0zM516.6 939.7a4.25 4.25 0 1 0 8.5 0a4.25 4.25 0 1 0 -8.5 0zM520.9 939.8a4.25 4.25 0 1 0 8.5 0a4.25 4.25 0 1 0 -8.5 0z" fill="#008080"/>
</g>
<g font-family="'Liberation Sans', Arial, Helvetica, sans-serif" font-size="29.6" text-anchor="middle" fill="#000">
<text transform="translate(52.6 977.8) scale(1 1.04)">0</text>
<text transform="translate(116.8 977.8) scale(1 1.04)">5</text>
<text transform="translate(180.9 977.8) scale(1 1.04)">10</text>
<text transform="translate(245 977.8) scale(1 1.04)">15</text>
<text transform="translate(309.2 977.8) scale(1 1.04)">20</text>
<text transform="translate(373.4 977.8) scale(1 1.04)">25</text>
<text transform="translate(437.5 977.8) scale(1 1.04)">30</text>
<text transform="translate(501.7 977.8) scale(1 1.04)">35</text>
</g>
<g font-family="'Liberation Sans', Arial, Helvetica, sans-serif" font-weight="bold" fill="#000">
<text transform="translate(296.6 1015.7) scale(1 1.04)" font-size="29.6" text-anchor="middle">Sputtering time (min)</text>
<text transform="translate(23.7 765.3) scale(1.02 1) rotate(-90)" font-size="30.1" text-anchor="middle">APPH (a.u.)</text>
<text transform="translate(387.7 603) scale(1 1.04)" font-size="39.7">Cu: ref.</text>
<text transform="translate(295.6 622.5) scale(1 1.04)" font-size="29.3" fill="#008080">Cu</text>
<text transform="translate(503.8 800) scale(1 1.04)" font-size="29.3" fill="#ED2024">C</text>
<text transform="translate(410.6 926.5) scale(1 1.04)" font-size="29.3" fill="#3A53A4">O</text>
<text transform="translate(63.1 875) scale(1 1.04)" font-size="29.3" fill="#808038">Cu-ox.</text>
</g>
</g>
<g>
<rect x="765.6" y="553.6" width="482.8" height="389.1" fill="none" stroke="#000" stroke-width="1.4"/>
<path d="M765.6 942.7v7.9M795.8 553.6v4.2M795.8 942.7v4.2M826 553.6v7.9M826 942.7v7.9M856.1 553.6v4.2M856.1 942.7v4.2M886.3 553.6v7.9M886.3 942.7v7.9M916.5 553.6v4.2M916.5 942.7v4.2M946.7 553.6v7.9M946.7 942.7v7.9M976.8 553.6v4.2M976.8 942.7v4.2M1007 553.6v7.9M1007 942.7v7.9M1037.2 553.6v4.2M1037.2 942.7v4.2M1067.3 553.6v7.9M1067.3 942.7v7.9M1097.5 553.6v4.2M1097.5 942.7v4.2M1127.7 553.6v7.9M1127.7 942.7v7.9M1157.9 553.6v4.2M1157.9 942.7v4.2M1188 553.6v7.9M1188 942.7v7.9M1218.2 553.6v4.2M1218.2 942.7v4.2M1248.4 942.7v7.9" stroke="#000" stroke-width="1.3" fill="none"/>
<g clip-path="url(#cp4)">
<path d="M762 923.3a4.25 4.25 0 1 0 8.5 0a4.25 4.25 0 1 0 -8.5 0zM764 935.2a4.25 4.25 0 1 0 8.5 0a4.25 4.25 0 1 0 -8.5 0zM766 938.4a4.25 4.25 0 1 0 8.5 0a4.25 4.25 0 1 0 -8.5 0zM768 939.7a4.25 4.25 0 1 0 8.5 0a4.25 4.25 0 1 0 -8.5 0zM770 939.5a4.25 4.25 0 1 0 8.5 0a4.25 4.25 0 1 0 -8.5 0zM772 940.1a4.25 4.25 0 1 0 8.5 0a4.25 4.25 0 1 0 -8.5 0zM774 940.4a4.25 4.25 0 1 0 8.5 0a4.25 4.25 0 1 0 -8.5 0zM776 940.8a4.25 4.25 0 1 0 8.5 0a4.25 4.25 0 1 0 -8.5 0zM778 940.1a4.25 4.25 0 1 0 8.5 0a4.25 4.25 0 1 0 -8.5 0zM780.1 940.3a4.25 4.25 0 1 0 8.5 0a4.25 4.25 0 1 0 -8.5 0zM782.1 940a4.25 4.25 0 1 0 8.5 0a4.25 4.25 0 1 0 -8.5 0zM784.1 940.4a4.25 4.25 0 1 0 8.5 0a4.25 4.25 0 1 0 -8.5 0zM786.1 940.6a4.25 4.25 0 1 0 8.5 0a4.25 4.25 0 1 0 -8.5 0zM787.5 940.1a4.25 4.25 0 1 0 8.5 0a4.25 4.25 0 1 0 -8.5 0zM791.5 940.4a4.25 4.25 0 1 0 8.5 0a4.25 4.25 0 1 0 -8.5 0zM795.5 940.6a4.25 4.25 0 1 0 8.5 0a4.25 4.25 0 1 0 -8.5 0zM799.6 940.9a4.25 4.25 0 1 0 8.5 0a4.25 4.25 0 1 0 -8.5 0zM803.6 940.7a4.25 4.25 0 1 0 8.5 0a4.25 4.25 0 1 0 -8.5 0zM807.6 940.4a4.25 4.25 0 1 0 8.5 0a4.25 4.25 0 1 0 -8.5 0zM811.6 940.2a4.25 4.25 0 1 0 8.5 0a4.25 4.25 0 1 0 -8.5 0zM815.7 940.3a4.25 4.25 0 1 0 8.5 0a4.25 4.25 0 1 0 -8.5 0zM819.7 940.3a4.25 4.25 0 1 0 8.5 0a4.25 4.25 0 1 0 -8.5 0zM823.7 940.5a4.25 4.25 0 1 0 8.5 0a4.25 4.25 0 1 0 -8.5 0zM827.7 940.5a4.25 4.25 0 1 0 8.5 0a4.25 4.25 0 1 0 -8.5 0zM831.8 940.9a4.25 4.25 0 1 0 8.5 0a4.25 4.25 0 1 0 -8.5 0zM835.8 940.6a4.25 4.25 0 1 0 8.5 0a4.25 4.25 0 1 0 -8.5 0zM839.8 940.2a4.25 4.25 0 1 0 8.5 0a4.25 4.25 0 1 0 -8.5 0zM845.8 940.9a4.25 4.25 0 1 0 8.5 0a4.25 4.25 0 1 0 -8.5 0zM851.9 940.7a4.25 4.25 0 1 0 8.5 0a4.25 4.25 0 1 0 -8.5 0zM857.9 940.5a4.25 4.25 0 1 0 8.5 0a4.25 4.25 0 1 0 -8.5 0zM863.9 940.3a4.25 4.25 0 1 0 8.5 0a4.25 4.25 0 1 0 -8.5 0zM870 940a4.25 4.25 0 1 0 8.5 0a4.25 4.25 0 1 0 -8.5 0zM876 940.2a4.25 4.25 0 1 0 8.5 0a4.25 4.25 0 1 0 -8.5 0zM882.1 940.7a4.25 4.25 0 1 0 8.5 0a4.25 4.25 0 1 0 -8.5 0zM888.1 940.3a4.25 4.25 0 1 0 8.5 0a4.25 4.25 0 1 0 -8.5 0zM894.1 940.2a4.25 4.25 0 1 0 8.5 0a4.25 4.25 0 1 0 -8.5 0zM900.2 940.5a4.25 4.25 0 1 0 8.5 0a4.25 4.25 0 1 0 -8.5 0zM906.2 940.6a4.25 4.25 0 1 0 8.5 0a4.25 4.25 0 1 0 -8.5 0zM912.2 940.7a4.25 4.25 0 1 0 8.5 0a4.25 4.25 0 1 0 -8.5 0zM918.3 940.7a4.25 4.25 0 1 0 8.5 0a4.25 4.25 0 1 0 -8.5 0zM924.3 940.9a4.25 4.25 0 1 0 8.5 0a4.25 4.25 0 1 0 -8.5 0zM930.3 940.3a4.25 4.25 0 1 0 8.5 0a4.25 4.25 0 1 0 -8.5 0zM936.4 940.7a4.25 4.25 0 1 0 8.5 0a4.25 4.25 0 1 0 -8.5 0zM942.4 940.3a4.25 4.25 0 1 0 8.5 0a4.25 4.25 0 1 0 -8.5 0zM948.4 940.7a4.25 4.25 0 1 0 8.5 0a4.25 4.25 0 1 0 -8.5 0zM954.5 940.5a4.25 4.25 0 1 0 8.5 0a4.25 4.25 0 1 0 -8.5 0zM960.5 940.6a4.25 4.25 0 1 0 8.5 0a4.25 4.25 0 1 0 -8.5 0zM966.5 940.7a4.25 4.25 0 1 0 8.5 0a4.25 4.25 0 1 0 -8.5 0zM972.6 940.5a4.25 4.25 0 1 0 8.5 0a4.25 4.25 0 1 0 -8.5 0zM978.6 940.8a4.25 4.25 0 1 0 8.5 0a4.25 4.25 0 1 0 -8.5 0zM984.6 940.7a4.25 4.25 0 1 0 8.5 0a4.25 4.25 0 1 0 -8.5 0zM990.7 940.5a4.25 4.25 0 1 0 8.5 0a4.25 4.25 0 1 0 -8.5 0zM996.7 940.4a4.25 4.25 0 1 0 8.5 0a4.25 4.25 0 1 0 -8.5 0zM1002.8 940.3a4.25 4.25 0 1 0 8.5 0a4.25 4.25 0 1 0 -8.5 0zM1008.8 940.4a4.25 4.25 0 1 0 8.5 0a4.25 4.25 0 1 0 -8.5 0zM1014.8 940.4a4.25 4.25 0 1 0 8.5 0a4.25 4.25 0 1 0 -8.5 0zM1020.9 940.5a4.25 4.25 0 1 0 8.5 0a4.25 4.25 0 1 0 -8.5 0zM1026.9 941.2a4.25 4.25 0 1 0 8.5 0a4.25 4.25 0 1 0 -8.5 0zM1032.9 940.6a4.25 4.25 0 1 0 8.5 0a4.25 4.25 0 1 0 -8.5 0zM1039 940.2a4.25 4.25 0 1 0 8.5 0a4.25 4.25 0 1 0 -8.5 0zM1045 939a4.25 4.25 0 1 0 8.5 0a4.25 4.25 0 1 0 -8.5 0zM1051 938a4.25 4.25 0 1 0 8.5 0a4.25 4.25 0 1 0 -8.5 0zM1057.1 936.6a4.25 4.25 0 1 0 8.5 0a4.25 4.25 0 1 0 -8.5 0zM1063.1 934.6a4.25 4.25 0 1 0 8.5 0a4.25 4.25 0 1 0 -8.5 0zM1069.1 931.6a4.25 4.25 0 1 0 8.5 0a4.25 4.25 0 1 0 -8.5 0zM1075.2 929.3a4.25 4.25 0 1 0 8.5 0a4.25 4.25 0 1 0 -8.5 0zM1081.2 924.8a4.25 4.25 0 1 0 8.5 0a4.25 4.25 0 1 0 -8.5 0zM1087.2 919.1a4.25 4.25 0 1 0 8.5 0a4.25 4.25 0 1 0 -8.5 0zM1093.3 913.5a4.25 4.25 0 1 0 8.5 0a4.25 4.25 0 1 0 -8.5 0zM1099.3 907.9a4.25 4.25 0 1 0 8.5 0a4.25 4.25 0 1 0 -8.5 0zM1105.3 900.4a4.25 4.25 0 1 0 8.5 0a4.25 4.25 0 1 0 -8.5 0zM1111.4 891.2a4.25 4.25 0 1 0 8.5 0a4.25 4.25 0 1 0 -8.5 0zM1117.4 879.7a4.25 4.25 0 1 0 8.5 0a4.25 4.25 0 1 0 -8.5 0zM1123.5 871.5a4.25 4.25 0 1 0 8.5 0a4.25 4.25 0 1 0 -8.5 0zM1129.5 862a4.25 4.25 0 1 0 8.5 0a4.25 4.25 0 1 0 -8.5 0zM1135.5 851.4a4.25 4.25 0 1 0 8.5 0a4.25 4.25 0 1 0 -8.5 0zM1141.6 843.9a4.25 4.25 0 1 0 8.5 0a4.25 4.25 0 1 0 -8.5 0zM1147.6 836.2a4.25 4.25 0 1 0 8.5 0a4.25 4.25 0 1 0 -8.5 0zM1153.6 830.3a4.25 4.25 0 1 0 8.5 0a4.25 4.25 0 1 0 -8.5 0zM1159.7 825.6a4.25 4.25 0 1 0 8.5 0a4.25 4.25 0 1 0 -8.5 0zM1165.7 822a4.25 4.25 0 1 0 8.5 0a4.25 4.25 0 1 0 -8.5 0zM1171.7 817.8a4.25 4.25 0 1 0 8.5 0a4.25 4.25 0 1 0 -8.5 0zM1177.8 814.8a4.25 4.25 0 1 0 8.5 0a4.25 4.25 0 1 0 -8.5 0zM1183.8 812.4a4.25 4.25 0 1 0 8.5 0a4.25 4.25 0 1 0 -8.5 0zM1189.8 810.4a4.25 4.25 0 1 0 8.5 0a4.25 4.25 0 1 0 -8.5 0zM1195.9 808.2a4.25 4.25 0 1 0 8.5 0a4.25 4.25 0 1 0 -8.5 0zM1201.9 807.5a4.25 4.25 0 1 0 8.5 0a4.25 4.25 0 1 0 -8.5 0zM1207.9 806.4a4.25 4.25 0 1 0 8.5 0a4.25 4.25 0 1 0 -8.5 0zM1214 806.3a4.25 4.25 0 1 0 8.5 0a4.25 4.25 0 1 0 -8.5 0zM1220 806.7a4.25 4.25 0 1 0 8.5 0a4.25 4.25 0 1 0 -8.5 0zM1226 806.6a4.25 4.25 0 1 0 8.5 0a4.25 4.25 0 1 0 -8.5 0z" fill="#ED2024"/>
<path d="M797 765.3L798.6 773.8M801 786L802.6 793.5M804.6 805.7L807 823.5M808.9 835.7L810.8 846M813.8 858L814 858.6M817.4 870.5L818.4 874.3M821.6 886.2L822.2 888.3" fill="none" stroke="#3A53A4" stroke-width="1.2"/>
<path d="M766.2 695l5 8.3h-10zM768.2 700.6l5 8.3h-10zM770.2 708l5 8.3h-10zM772.2 711.9l5 8.3h-10zM774.3 715.9l5 8.3h-10zM776.3 719.4l5 8.3h-10zM778.3 722.4l5 8.3h-10zM780.3 725.5l5 8.3h-10zM782.3 728.7l5 8.3h-10zM784.3 730.9l5 8.3h-10zM786.3 734.4l5 8.3h-10zM788.3 737.3l5 8.3h-10zM790.3 740.9l5 8.3h-10zM791.8 743.5l5 8.3h-10zM795.8 755.1l5 8.3h-10zM799.8 775.8l5 8.3h-10zM803.8 795.5l5 8.3h-10zM807.8 825.5l5 8.3h-10zM811.9 848l5 8.3h-10zM815.9 860.4l5 8.3h-10zM819.9 876.1l5 8.3h-10zM823.9 890.1l5 8.3h-10zM828 900.5l5 8.3h-10zM832 907.6l5 8.3h-10zM836 912.8l5 8.3h-10zM840 916l5 8.3h-10zM844.1 917.9l5 8.3h-10zM850.1 919.9l5 8.3h-10zM856.1 920l5 8.3h-10zM862.2 920.2l5 8.3h-10zM868.2 920.2l5 8.3h-10zM874.2 920.3l5 8.3h-10zM880.3 920.2l5 8.3h-10zM886.3 920.2l5 8.3h-10zM892.3 920.4l5 8.3h-10zM898.4 920.4l5 8.3h-10zM904.4 921.2l5 8.3h-10zM910.4 921l5 8.3h-10zM916.5 921.1l5 8.3h-10zM922.5 921.7l5 8.3h-10zM928.5 921.7l5 8.3h-10zM934.6 921.2l5 8.3h-10zM940.6 922l5 8.3h-10zM946.7 922.3l5 8.3h-10zM952.7 922.8l5 8.3h-10zM958.7 922.9l5 8.3h-10zM964.8 923l5 8.3h-10zM970.8 922.9l5 8.3h-10zM976.8 923.3l5 8.3h-10zM982.9 924l5 8.3h-10zM988.9 924.5l5 8.3h-10zM994.9 924.4l5 8.3h-10zM1001 924.9l5 8.3h-10zM1007 925l5 8.3h-10zM1013 925.2l5 8.3h-10zM1019.1 925.2l5 8.3h-10zM1025.1 925.1l5 8.3h-10zM1031.1 924.8l5 8.3h-10zM1037.2 925.5l5 8.3h-10zM1043.2 925.5l5 8.3h-10zM1049.2 925.1l5 8.3h-10zM1055.3 925.3l5 8.3h-10zM1061.3 925l5 8.3h-10zM1067.3 924.9l5 8.3h-10zM1073.4 924.7l5 8.3h-10zM1079.4 924.2l5 8.3h-10zM1085.5 924.5l5 8.3h-10zM1091.5 924.7l5 8.3h-10zM1097.5 924.5l5 8.3h-10zM1103.6 925.7l5 8.3h-10zM1109.6 926.2l5 8.3h-10zM1115.6 926.9l5 8.3h-10zM1121.7 928l5 8.3h-10zM1127.7 928.9l5 8.3h-10zM1133.7 929.7l5 8.3h-10zM1139.8 930.5l5 8.3h-10zM1145.8 931.1l5 8.3h-10zM1151.8 931.9l5 8.3h-10zM1157.9 932.4l5 8.3h-10zM1163.9 933.1l5 8.3h-10zM1169.9 932.9l5 8.3h-10zM1176 934.4l5 8.3h-10zM1182 934.7l5 8.3h-10zM1188 934.4l5 8.3h-10zM1194.1 934.9l5 8.3h-10zM1200.1 935l5 8.3h-10zM1206.2 935.2l5 8.3h-10zM1212.2 935.3l5 8.3h-10zM1218.2 935.4l5 8.3h-10zM1224.3 935.4l5 8.3h-10zM1230.3 935.7l5 8.3h-10z" fill="#3A53A4"/>
<path d="M766.4 888.9L768.1 823.9M800.9 788.4L802.7 798.3M804.7 810.5L807 825.9M809 838.2L810.7 847.3M813 859.5L814.8 868.8M817.1 881L818.7 889.5M821.3 901.6L822.6 907.5M825.6 919.5L826.3 921.9" fill="none" stroke="#808038" stroke-width="1.2"/>
<path d="M762.6 891.5h7.2v7.2h-7.2zM764.6 814.1h7.2v7.2h-7.2zM766.6 803.3h7.2v7.2h-7.2zM768.6 795h7.2v7.2h-7.2zM770.7 788.4h7.2v7.2h-7.2zM772.7 783.8h7.2v7.2h-7.2zM774.7 779.5h7.2v7.2h-7.2zM776.7 776.2h7.2v7.2h-7.2zM778.7 773.7h7.2v7.2h-7.2zM780.7 771.8h7.2v7.2h-7.2zM782.7 770.4h7.2v7.2h-7.2zM784.7 769.4h7.2v7.2h-7.2zM786.7 768.8h7.2v7.2h-7.2zM788.2 768.4h7.2v7.2h-7.2zM792.2 768.3h7.2v7.2h-7.2zM796.2 778.7h7.2v7.2h-7.2zM800.2 800.8h7.2v7.2h-7.2zM804.2 828.5h7.2v7.2h-7.2zM808.3 849.8h7.2v7.2h-7.2zM812.3 871.3h7.2v7.2h-7.2zM816.3 892h7.2v7.2h-7.2zM820.3 910h7.2v7.2h-7.2zM824.4 924.3h7.2v7.2h-7.2zM828.4 932.8h7.2v7.2h-7.2zM832.4 936.9h7.2v7.2h-7.2z" fill="#808038"/>
<path d="M796.6 926.8L799 908.9M800.5 896.6L803.1 872.5M804.5 860.2L807.2 835M808.4 822.7L811.3 789.2M812.5 776.8L815.2 751.1M816.6 738.8L819.2 715.9M821 703.6L822.9 692.8M824.6 680.6L827.3 657.7M829.3 645.5L830.6 639.9M833.5 627.9L834.5 623.9M1082.2 697.6L1082.7 698.6M1087.8 709.9L1089.2 713.2M1094 724.7L1095 727.1M1099.9 738.5L1101.2 741.4M1105.4 753.1L1107.7 760.3M1111.8 772L1113.4 775.9M1117.3 787.7L1120 797.2M1123.3 809.2L1126.1 820M1129.5 831.9L1131.9 839.6M1135.9 851.3L1137.6 855.9M1142.3 867.4L1143.3 869.5M1154.2 890.8L1155.5 894.1" fill="none" stroke="#008080" stroke-width="1.2"/>
<path d="M786.1 940.5a4.25 4.25 0 1 0 8.5 0a4.25 4.25 0 1 0 -8.5 0zM787.5 939.9a4.25 4.25 0 1 0 8.5 0a4.25 4.25 0 1 0 -8.5 0zM791.5 933a4.25 4.25 0 1 0 8.5 0a4.25 4.25 0 1 0 -8.5 0zM795.5 902.8a4.25 4.25 0 1 0 8.5 0a4.25 4.25 0 1 0 -8.5 0zM799.6 866.4a4.25 4.25 0 1 0 8.5 0a4.25 4.25 0 1 0 -8.5 0zM803.6 828.8a4.25 4.25 0 1 0 8.5 0a4.25 4.25 0 1 0 -8.5 0zM807.6 783a4.25 4.25 0 1 0 8.5 0a4.25 4.25 0 1 0 -8.5 0zM811.6 745a4.25 4.25 0 1 0 8.5 0a4.25 4.25 0 1 0 -8.5 0zM815.7 709.7a4.25 4.25 0 1 0 8.5 0a4.25 4.25 0 1 0 -8.5 0zM819.7 686.7a4.25 4.25 0 1 0 8.5 0a4.25 4.25 0 1 0 -8.5 0zM823.7 651.5a4.25 4.25 0 1 0 8.5 0a4.25 4.25 0 1 0 -8.5 0zM827.7 633.9a4.25 4.25 0 1 0 8.5 0a4.25 4.25 0 1 0 -8.5 0zM831.8 617.9a4.25 4.25 0 1 0 8.5 0a4.25 4.25 0 1 0 -8.5 0zM835.8 613.3a4.25 4.25 0 1 0 8.5 0a4.25 4.25 0 1 0 -8.5 0zM839.8 610.8a4.25 4.25 0 1 0 8.5 0a4.25 4.25 0 1 0 -8.5 0zM845.8 608.2a4.25 4.25 0 1 0 8.5 0a4.25 4.25 0 1 0 -8.5 0zM851.9 608a4.25 4.25 0 1 0 8.5 0a4.25 4.25 0 1 0 -8.5 0zM857.9 609.4a4.25 4.25 0 1 0 8.5 0a4.25 4.25 0 1 0 -8.5 0zM863.9 611.3a4.25 4.25 0 1 0 8.5 0a4.25 4.25 0 1 0 -8.5 0zM870 611.5a4.25 4.25 0 1 0 8.5 0a4.25 4.25 0 1 0 -8.5 0zM876 614.2a4.25 4.25 0 1 0 8.5 0a4.25 4.25 0 1 0 -8.5 0zM882.1 616.1a4.25 4.25 0 1 0 8.5 0a4.25 4.25 0 1 0 -8.5 0zM888.1 616.1a4.25 4.25 0 1 0 8.5 0a4.25 4.25 0 1 0 -8.5 0zM894.1 615.8a4.25 4.25 0 1 0 8.5 0a4.25 4.25 0 1 0 -8.5 0zM900.2 617.7a4.25 4.25 0 1 0 8.5 0a4.25 4.25 0 1 0 -8.5 0zM906.2 620.3a4.25 4.25 0 1 0 8.5 0a4.25 4.25 0 1 0 -8.5 0zM912.2 621.3a4.25 4.25 0 1 0 8.5 0a4.25 4.25 0 1 0 -8.5 0zM918.3 622.1a4.25 4.25 0 1 0 8.5 0a4.25 4.25 0 1 0 -8.5 0zM924.3 622.2a4.25 4.25 0 1 0 8.5 0a4.25 4.25 0 1 0 -8.5 0zM930.3 623.5a4.25 4.25 0 1 0 8.5 0a4.25 4.25 0 1 0 -8.5 0zM936.4 625.8a4.25 4.25 0 1 0 8.5 0a4.25 4.25 0 1 0 -8.5 0zM942.4 627.2a4.25 4.25 0 1 0 8.5 0a4.25 4.25 0 1 0 -8.5 0zM948.4 627.7a4.25 4.25 0 1 0 8.5 0a4.25 4.25 0 1 0 -8.5 0zM954.5 628.6a4.25 4.25 0 1 0 8.5 0a4.25 4.25 0 1 0 -8.5 0zM960.5 629.6a4.25 4.25 0 1 0 8.5 0a4.25 4.25 0 1 0 -8.5 0zM966.5 630.6a4.25 4.25 0 1 0 8.5 0a4.25 4.25 0 1 0 -8.5 0zM972.6 630.5a4.25 4.25 0 1 0 8.5 0a4.25 4.25 0 1 0 -8.5 0zM978.6 632.7a4.25 4.25 0 1 0 8.5 0a4.25 4.25 0 1 0 -8.5 0zM984.6 635.4a4.25 4.25 0 1 0 8.5 0a4.25 4.25 0 1 0 -8.5 0zM990.7 635.8a4.25 4.25 0 1 0 8.5 0a4.25 4.25 0 1 0 -8.5 0zM996.7 637.8a4.25 4.25 0 1 0 8.5 0a4.25 4.25 0 1 0 -8.5 0zM1002.8 638.8a4.25 4.25 0 1 0 8.5 0a4.25 4.25 0 1 0 -8.5 0zM1008.8 639.7a4.25 4.25 0 1 0 8.5 0a4.25 4.25 0 1 0 -8.5 0zM1014.8 641a4.25 4.25 0 1 0 8.5 0a4.25 4.25 0 1 0 -8.5 0zM1020.9 643.4a4.25 4.25 0 1 0 8.5 0a4.25 4.25 0 1 0 -8.5 0zM1026.9 644.8a4.25 4.25 0 1 0 8.5 0a4.25 4.25 0 1 0 -8.5 0zM1032.9 650.4a4.25 4.25 0 1 0 8.5 0a4.25 4.25 0 1 0 -8.5 0zM1039 655.7a4.25 4.25 0 1 0 8.5 0a4.25 4.25 0 1 0 -8.5 0zM1045 660a4.25 4.25 0 1 0 8.5 0a4.25 4.25 0 1 0 -8.5 0zM1051 663.9a4.25 4.25 0 1 0 8.5 0a4.25 4.25 0 1 0 -8.5 0zM1057.1 670.1a4.25 4.25 0 1 0 8.5 0a4.25 4.25 0 1 0 -8.5 0zM1063.1 676.4a4.25 4.25 0 1 0 8.5 0a4.25 4.25 0 1 0 -8.5 0zM1069.1 683a4.25 4.25 0 1 0 8.5 0a4.25 4.25 0 1 0 -8.5 0zM1075.2 692a4.25 4.25 0 1 0 8.5 0a4.25 4.25 0 1 0 -8.5 0zM1081.2 704.1a4.25 4.25 0 1 0 8.5 0a4.25 4.25 0 1 0 -8.5 0zM1087.2 719a4.25 4.25 0 1 0 8.5 0a4.25 4.25 0 1 0 -8.5 0zM1093.3 732.8a4.25 4.25 0 1 0 8.5 0a4.25 4.25 0 1 0 -8.5 0zM1099.3 747.2a4.25 4.25 0 1 0 8.5 0a4.25 4.25 0 1 0 -8.5 0zM1105.3 766.2a4.25 4.25 0 1 0 8.5 0a4.25 4.25 0 1 0 -8.5 0zM1111.4 781.7a4.25 4.25 0 1 0 8.5 0a4.25 4.25 0 1 0 -8.5 0zM1117.4 803.2a4.25 4.25 0 1 0 8.5 0a4.25 4.25 0 1 0 -8.5 0zM1123.5 826a4.25 4.25 0 1 0 8.5 0a4.25 4.25 0 1 0 -8.5 0zM1129.5 845.5a4.25 4.25 0 1 0 8.5 0a4.25 4.25 0 1 0 -8.5 0zM1135.5 861.7a4.25 4.25 0 1 0 8.5 0a4.25 4.25 0 1 0 -8.5 0zM1141.6 875.1a4.25 4.25 0 1 0 8.5 0a4.25 4.25 0 1 0 -8.5 0zM1147.6 885.1a4.25 4.25 0 1 0 8.5 0a4.25 4.25 0 1 0 -8.5 0zM1153.6 899.8a4.25 4.25 0 1 0 8.5 0a4.25 4.25 0 1 0 -8.5 0zM1159.7 907.4a4.25 4.25 0 1 0 8.5 0a4.25 4.25 0 1 0 -8.5 0zM1165.7 918.2a4.25 4.25 0 1 0 8.5 0a4.25 4.25 0 1 0 -8.5 0zM1171.7 925a4.25 4.25 0 1 0 8.5 0a4.25 4.25 0 1 0 -8.5 0zM1177.8 929.1a4.25 4.25 0 1 0 8.5 0a4.25 4.25 0 1 0 -8.5 0zM1183.8 933.2a4.25 4.25 0 1 0 8.5 0a4.25 4.25 0 1 0 -8.5 0zM1189.8 936.7a4.25 4.25 0 1 0 8.5 0a4.25 4.25 0 1 0 -8.5 0zM1195.9 939.1a4.25 4.25 0 1 0 8.5 0a4.25 4.25 0 1 0 -8.5 0zM1201.9 940.2a4.25 4.25 0 1 0 8.5 0a4.25 4.25 0 1 0 -8.5 0zM1207.9 940.8a4.25 4.25 0 1 0 8.5 0a4.25 4.25 0 1 0 -8.5 0zM1214 941.1a4.25 4.25 0 1 0 8.5 0a4.25 4.25 0 1 0 -8.5 0zM1220 941.2a4.25 4.25 0 1 0 8.5 0a4.25 4.25 0 1 0 -8.5 0zM1226 941.3a4.25 4.25 0 1 0 8.5 0a4.25 4.25 0 1 0 -8.5 0z" fill="#008080"/>
</g>
<g font-family="'Liberation Sans', Arial, Helvetica, sans-serif" font-size="29.6" text-anchor="middle" fill="#000">
<text transform="translate(765.6 978.8) scale(1 1.04)">0</text>
<text transform="translate(826 978.8) scale(1 1.04)">5</text>
<text transform="translate(886.3 978.8) scale(1 1.04)">10</text>
<text transform="translate(946.7 978.8) scale(1 1.04)">15</text>
<text transform="translate(1007 978.8) scale(1 1.04)">20</text>
<text transform="translate(1067.3 978.8) scale(1 1.04)">25</text>
<text transform="translate(1127.7 978.8) scale(1 1.04)">30</text>
<text transform="translate(1188 978.8) scale(1 1.04)">35</text>
<text transform="translate(1248.4 978.8) scale(1 1.04)">40</text>
</g>
<g font-family="'Liberation Sans', Arial, Helvetica, sans-serif" font-weight="bold" fill="#000">
<text transform="translate(1007.4 1020) scale(1 1.04)" font-size="29.6" text-anchor="middle">Sputtering time (min)</text>
<text transform="translate(736.9 767.2) scale(1.02 1) rotate(-90)" font-size="30.1" text-anchor="middle">APPH (a.u.)</text>
<text transform="translate(1105.7 610.5) scale(1 1.04)" font-size="39.7">Cu: RF</text>
<text transform="translate(1060.6 658) scale(1 1.04)" font-size="29.3" fill="#008080">Cu</text>
<text transform="translate(1202.3 793) scale(1 1.04)" font-size="29.3" fill="#ED2024">C</text>
<text transform="translate(1123.1 918.5) scale(1 1.04)" font-size="29.3" fill="#3A53A4">O</text>
<text transform="translate(819.8 837.5) scale(1 1.04)" font-size="29.3" fill="#808038">Cu-ox.</text>
</g>
</g>
<g>
<rect x="1473.6" y="553.6" width="483.2" height="389.1" fill="none" stroke="#000" stroke-width="1.4"/>
<path d="M1473.6 942.7v7.9M1500.4 553.6v4.2M1500.4 942.7v4.2M1527.3 553.6v7.9M1527.3 942.7v7.9M1554.1 553.6v4.2M1554.1 942.7v4.2M1581 553.6v7.9M1581 942.7v7.9M1607.8 553.6v4.2M1607.8 942.7v4.2M1634.7 553.6v7.9M1634.7 942.7v7.9M1661.5 553.6v4.2M1661.5 942.7v4.2M1688.4 553.6v7.9M1688.4 942.7v7.9M1715.2 553.6v4.2M1715.2 942.7v4.2M1742.1 553.6v7.9M1742.1 942.7v7.9M1768.9 553.6v4.2M1768.9 942.7v4.2M1795.8 553.6v7.9M1795.8 942.7v7.9M1822.6 553.6v4.2M1822.6 942.7v4.2M1849.5 553.6v7.9M1849.5 942.7v7.9M1876.3 553.6v4.2M1876.3 942.7v4.2M1903.2 553.6v7.9M1903.2 942.7v7.9M1930 553.6v4.2M1930 942.7v4.2M1956.9 942.7v7.9" stroke="#000" stroke-width="1.3" fill="none"/>
<g clip-path="url(#cp5)">
<path d="M1474.4 880.3L1476.5 928.3" fill="none" stroke="#ED2024" stroke-width="1.2"/>
<path d="M1469.9 874.1a4.25 4.25 0 1 0 8.5 0a4.25 4.25 0 1 0 -8.5 0zM1472.6 934.5a4.25 4.25 0 1 0 8.5 0a4.25 4.25 0 1 0 -8.5 0zM1475.3 937.5a4.25 4.25 0 1 0 8.5 0a4.25 4.25 0 1 0 -8.5 0zM1477.9 937.8a4.25 4.25 0 1 0 8.5 0a4.25 4.25 0 1 0 -8.5 0zM1480.6 939.3a4.25 4.25 0 1 0 8.5 0a4.25 4.25 0 1 0 -8.5 0zM1483.3 939.9a4.25 4.25 0 1 0 8.5 0a4.25 4.25 0 1 0 -8.5 0zM1486 940.4a4.25 4.25 0 1 0 8.5 0a4.25 4.25 0 1 0 -8.5 0zM1488.7 939.9a4.25 4.25 0 1 0 8.5 0a4.25 4.25 0 1 0 -8.5 0zM1491.4 940.4a4.25 4.25 0 1 0 8.5 0a4.25 4.25 0 1 0 -8.5 0zM1494.1 940.1a4.25 4.25 0 1 0 8.5 0a4.25 4.25 0 1 0 -8.5 0zM1496.7 940.6a4.25 4.25 0 1 0 8.5 0a4.25 4.25 0 1 0 -8.5 0zM1499.4 941a4.25 4.25 0 1 0 8.5 0a4.25 4.25 0 1 0 -8.5 0zM1502.1 940.3a4.25 4.25 0 1 0 8.5 0a4.25 4.25 0 1 0 -8.5 0zM1504.8 940.6a4.25 4.25 0 1 0 8.5 0a4.25 4.25 0 1 0 -8.5 0zM1507.5 940.1a4.25 4.25 0 1 0 8.5 0a4.25 4.25 0 1 0 -8.5 0zM1510.2 940.8a4.25 4.25 0 1 0 8.5 0a4.25 4.25 0 1 0 -8.5 0zM1512.8 940.9a4.25 4.25 0 1 0 8.5 0a4.25 4.25 0 1 0 -8.5 0zM1515.5 940.5a4.25 4.25 0 1 0 8.5 0a4.25 4.25 0 1 0 -8.5 0zM1518.2 940.1a4.25 4.25 0 1 0 8.5 0a4.25 4.25 0 1 0 -8.5 0zM1520.9 940.6a4.25 4.25 0 1 0 8.5 0a4.25 4.25 0 1 0 -8.5 0zM1523.6 940.9a4.25 4.25 0 1 0 8.5 0a4.25 4.25 0 1 0 -8.5 0zM1526.3 940.9a4.25 4.25 0 1 0 8.5 0a4.25 4.25 0 1 0 -8.5 0zM1530.2 940.8a4.25 4.25 0 1 0 8.5 0a4.25 4.25 0 1 0 -8.5 0zM1533.8 939.9a4.25 4.25 0 1 0 8.5 0a4.25 4.25 0 1 0 -8.5 0zM1537.4 940.3a4.25 4.25 0 1 0 8.5 0a4.25 4.25 0 1 0 -8.5 0zM1541 941a4.25 4.25 0 1 0 8.5 0a4.25 4.25 0 1 0 -8.5 0zM1544.5 940.1a4.25 4.25 0 1 0 8.5 0a4.25 4.25 0 1 0 -8.5 0zM1548.1 940.9a4.25 4.25 0 1 0 8.5 0a4.25 4.25 0 1 0 -8.5 0zM1551.7 941.2a4.25 4.25 0 1 0 8.5 0a4.25 4.25 0 1 0 -8.5 0zM1555.3 940.8a4.25 4.25 0 1 0 8.5 0a4.25 4.25 0 1 0 -8.5 0zM1558.9 940.9a4.25 4.25 0 1 0 8.5 0a4.25 4.25 0 1 0 -8.5 0zM1562.4 940.4a4.25 4.25 0 1 0 8.5 0a4.25 4.25 0 1 0 -8.5 0zM1566 940.1a4.25 4.25 0 1 0 8.5 0a4.25 4.25 0 1 0 -8.5 0zM1569.6 940.5a4.25 4.25 0 1 0 8.5 0a4.25 4.25 0 1 0 -8.5 0zM1573.2 940.4a4.25 4.25 0 1 0 8.5 0a4.25 4.25 0 1 0 -8.5 0zM1576.8 940.5a4.25 4.25 0 1 0 8.5 0a4.25 4.25 0 1 0 -8.5 0zM1580.3 940.7a4.25 4.25 0 1 0 8.5 0a4.25 4.25 0 1 0 -8.5 0zM1583.9 940.4a4.25 4.25 0 1 0 8.5 0a4.25 4.25 0 1 0 -8.5 0zM1587.5 940.4a4.25 4.25 0 1 0 8.5 0a4.25 4.25 0 1 0 -8.5 0zM1591.1 940.4a4.25 4.25 0 1 0 8.5 0a4.25 4.25 0 1 0 -8.5 0zM1594.7 940.2a4.25 4.25 0 1 0 8.5 0a4.25 4.25 0 1 0 -8.5 0zM1598.2 940.7a4.25 4.25 0 1 0 8.5 0a4.25 4.25 0 1 0 -8.5 0zM1601.8 940a4.25 4.25 0 1 0 8.5 0a4.25 4.25 0 1 0 -8.5 0zM1605.4 939.8a4.25 4.25 0 1 0 8.5 0a4.25 4.25 0 1 0 -8.5 0zM1609 939.5a4.25 4.25 0 1 0 8.5 0a4.25 4.25 0 1 0 -8.5 0zM1612.6 939.2a4.25 4.25 0 1 0 8.5 0a4.25 4.25 0 1 0 -8.5 0zM1616.1 939.7a4.25 4.25 0 1 0 8.5 0a4.25 4.25 0 1 0 -8.5 0zM1619.7 939a4.25 4.25 0 1 0 8.5 0a4.25 4.25 0 1 0 -8.5 0zM1623.3 938.3a4.25 4.25 0 1 0 8.5 0a4.25 4.25 0 1 0 -8.5 0zM1626.9 938.1a4.25 4.25 0 1 0 8.5 0a4.25 4.25 0 1 0 -8.5 0zM1630.5 937.8a4.25 4.25 0 1 0 8.5 0a4.25 4.25 0 1 0 -8.5 0zM1634 937.3a4.25 4.25 0 1 0 8.5 0a4.25 4.25 0 1 0 -8.5 0zM1637.6 937.4a4.25 4.25 0 1 0 8.5 0a4.25 4.25 0 1 0 -8.5 0zM1641.2 936.2a4.25 4.25 0 1 0 8.5 0a4.25 4.25 0 1 0 -8.5 0zM1644.8 936.5a4.25 4.25 0 1 0 8.5 0a4.25 4.25 0 1 0 -8.5 0zM1648.4 936a4.25 4.25 0 1 0 8.5 0a4.25 4.25 0 1 0 -8.5 0zM1651.9 935.2a4.25 4.25 0 1 0 8.5 0a4.25 4.25 0 1 0 -8.5 0zM1655.5 935.2a4.25 4.25 0 1 0 8.5 0a4.25 4.25 0 1 0 -8.5 0zM1659.1 934.8a4.25 4.25 0 1 0 8.5 0a4.25 4.25 0 1 0 -8.5 0zM1662.7 934.7a4.25 4.25 0 1 0 8.5 0a4.25 4.25 0 1 0 -8.5 0zM1666.3 934a4.25 4.25 0 1 0 8.5 0a4.25 4.25 0 1 0 -8.5 0zM1669.8 933.9a4.25 4.25 0 1 0 8.5 0a4.25 4.25 0 1 0 -8.5 0zM1673.4 932.9a4.25 4.25 0 1 0 8.5 0a4.25 4.25 0 1 0 -8.5 0zM1677 932.7a4.25 4.25 0 1 0 8.5 0a4.25 4.25 0 1 0 -8.5 0zM1680.6 933a4.25 4.25 0 1 0 8.5 0a4.25 4.25 0 1 0 -8.5 0zM1684.2 932.7a4.25 4.25 0 1 0 8.5 0a4.25 4.25 0 1 0 -8.5 0zM1687.7 932a4.25 4.25 0 1 0 8.5 0a4.25 4.25 0 1 0 -8.5 0zM1691.3 931.4a4.25 4.25 0 1 0 8.5 0a4.25 4.25 0 1 0 -8.5 0zM1694.9 931.7a4.25 4.25 0 1 0 8.5 0a4.25 4.25 0 1 0 -8.5 0zM1698.5 930.2a4.25 4.25 0 1 0 8.5 0a4.25 4.25 0 1 0 -8.5 0zM1702.1 930.3a4.25 4.25 0 1 0 8.5 0a4.25 4.25 0 1 0 -8.5 0zM1705.6 930.4a4.25 4.25 0 1 0 8.5 0a4.25 4.25 0 1 0 -8.5 0zM1709.2 930.1a4.25 4.25 0 1 0 8.5 0a4.25 4.25 0 1 0 -8.5 0zM1712.8 929.1a4.25 4.25 0 1 0 8.5 0a4.25 4.25 0 1 0 -8.5 0zM1716.4 928.5a4.25 4.25 0 1 0 8.5 0a4.25 4.25 0 1 0 -8.5 0zM1720 929.3a4.25 4.25 0 1 0 8.5 0a4.25 4.25 0 1 0 -8.5 0zM1723.5 928.6a4.25 4.25 0 1 0 8.5 0a4.25 4.25 0 1 0 -8.5 0zM1727.1 927.9a4.25 4.25 0 1 0 8.5 0a4.25 4.25 0 1 0 -8.5 0zM1730.7 927.9a4.25 4.25 0 1 0 8.5 0a4.25 4.25 0 1 0 -8.5 0zM1734.3 927.8a4.25 4.25 0 1 0 8.5 0a4.25 4.25 0 1 0 -8.5 0zM1737.9 926.1a4.25 4.25 0 1 0 8.5 0a4.25 4.25 0 1 0 -8.5 0zM1741.4 926.9a4.25 4.25 0 1 0 8.5 0a4.25 4.25 0 1 0 -8.5 0zM1745 926.2a4.25 4.25 0 1 0 8.5 0a4.25 4.25 0 1 0 -8.5 0zM1748.6 924.5a4.25 4.25 0 1 0 8.5 0a4.25 4.25 0 1 0 -8.5 0zM1752.2 924.6a4.25 4.25 0 1 0 8.5 0a4.25 4.25 0 1 0 -8.5 0zM1755.8 922.6a4.25 4.25 0 1 0 8.5 0a4.25 4.25 0 1 0 -8.5 0zM1759.3 922.2a4.25 4.25 0 1 0 8.5 0a4.25 4.25 0 1 0 -8.5 0zM1762.9 920.3a4.25 4.25 0 1 0 8.5 0a4.25 4.25 0 1 0 -8.5 0zM1766.5 919.2a4.25 4.25 0 1 0 8.5 0a4.25 4.25 0 1 0 -8.5 0zM1770.1 916a4.25 4.25 0 1 0 8.5 0a4.25 4.25 0 1 0 -8.5 0zM1773.7 913.8a4.25 4.25 0 1 0 8.5 0a4.25 4.25 0 1 0 -8.5 0zM1777.2 911.5a4.25 4.25 0 1 0 8.5 0a4.25 4.25 0 1 0 -8.5 0zM1780.8 907.9a4.25 4.25 0 1 0 8.5 0a4.25 4.25 0 1 0 -8.5 0zM1784.4 904.3a4.25 4.25 0 1 0 8.5 0a4.25 4.25 0 1 0 -8.5 0zM1788 900.1a4.25 4.25 0 1 0 8.5 0a4.25 4.25 0 1 0 -8.5 0zM1791.6 895.7a4.25 4.25 0 1 0 8.5 0a4.25 4.25 0 1 0 -8.5 0zM1795.1 890.6a4.25 4.25 0 1 0 8.5 0a4.25 4.25 0 1 0 -8.5 0zM1798.7 886.1a4.25 4.25 0 1 0 8.5 0a4.25 4.25 0 1 0 -8.5 0zM1802.3 880.9a4.25 4.25 0 1 0 8.5 0a4.25 4.25 0 1 0 -8.5 0zM1805.9 875a4.25 4.25 0 1 0 8.5 0a4.25 4.25 0 1 0 -8.5 0zM1809.5 869.1a4.25 4.25 0 1 0 8.5 0a4.25 4.25 0 1 0 -8.5 0zM1813 861.4a4.25 4.25 0 1 0 8.5 0a4.25 4.25 0 1 0 -8.5 0zM1816.6 854.9a4.25 4.25 0 1 0 8.5 0a4.25 4.25 0 1 0 -8.5 0zM1820.2 847.9a4.25 4.25 0 1 0 8.5 0a4.25 4.25 0 1 0 -8.5 0zM1823.8 843.5a4.25 4.25 0 1 0 8.5 0a4.25 4.25 0 1 0 -8.5 0zM1827.4 838.5a4.25 4.25 0 1 0 8.5 0a4.25 4.25 0 1 0 -8.5 0zM1830.9 835.5a4.25 4.25 0 1 0 8.5 0a4.25 4.25 0 1 0 -8.5 0zM1834.5 832a4.25 4.25 0 1 0 8.5 0a4.25 4.25 0 1 0 -8.5 0zM1838.1 828.7a4.25 4.25 0 1 0 8.5 0a4.25 4.25 0 1 0 -8.5 0zM1841.7 825.7a4.25 4.25 0 1 0 8.5 0a4.25 4.25 0 1 0 -8.5 0zM1845.3 823.2a4.25 4.25 0 1 0 8.5 0a4.25 4.25 0 1 0 -8.5 0zM1848.8 820.8a4.25 4.25 0 1 0 8.5 0a4.25 4.25 0 1 0 -8.5 0zM1852.4 818.3a4.25 4.25 0 1 0 8.5 0a4.25 4.25 0 1 0 -8.5 0zM1856 817.1a4.25 4.25 0 1 0 8.5 0a4.25 4.25 0 1 0 -8.5 0zM1859.6 815.4a4.25 4.25 0 1 0 8.5 0a4.25 4.25 0 1 0 -8.5 0zM1863.2 813.6a4.25 4.25 0 1 0 8.5 0a4.25 4.25 0 1 0 -8.5 0zM1866.7 811.7a4.25 4.25 0 1 0 8.5 0a4.25 4.25 0 1 0 -8.5 0zM1870.3 810.2a4.25 4.25 0 1 0 8.5 0a4.25 4.25 0 1 0 -8.5 0zM1873.9 808.3a4.25 4.25 0 1 0 8.5 0a4.25 4.25 0 1 0 -8.5 0zM1877.5 805.9a4.25 4.25 0 1 0 8.5 0a4.25 4.25 0 1 0 -8.5 0zM1881.1 804.4a4.25 4.25 0 1 0 8.5 0a4.25 4.25 0 1 0 -8.5 0zM1884.6 803.9a4.25 4.25 0 1 0 8.5 0a4.25 4.25 0 1 0 -8.5 0zM1888.2 803a4.25 4.25 0 1 0 8.5 0a4.25 4.25 0 1 0 -8.5 0zM1891.8 802.7a4.25 4.25 0 1 0 8.5 0a4.25 4.25 0 1 0 -8.5 0zM1895.4 802.5a4.25 4.25 0 1 0 8.5 0a4.25 4.25 0 1 0 -8.5 0zM1899 801.9a4.25 4.25 0 1 0 8.5 0a4.25 4.25 0 1 0 -8.5 0zM1902.5 801.7a4.25 4.25 0 1 0 8.5 0a4.25 4.25 0 1 0 -8.5 0zM1906.1 801.9a4.25 4.25 0 1 0 8.5 0a4.25 4.25 0 1 0 -8.5 0zM1909.7 801.1a4.25 4.25 0 1 0 8.5 0a4.25 4.25 0 1 0 -8.5 0zM1913.3 801a4.25 4.25 0 1 0 8.5 0a4.25 4.25 0 1 0 -8.5 0zM1916.9 801a4.25 4.25 0 1 0 8.5 0a4.25 4.25 0 1 0 -8.5 0zM1920.4 800.9a4.25 4.25 0 1 0 8.5 0a4.25 4.25 0 1 0 -8.5 0zM1924 800.5a4.25 4.25 0 1 0 8.5 0a4.25 4.25 0 1 0 -8.5 0zM1927.6 800.9a4.25 4.25 0 1 0 8.5 0a4.25 4.25 0 1 0 -8.5 0z" fill="#ED2024"/>
<path d="M1568.3 864.3L1568.7 866" fill="none" stroke="#3A53A4" stroke-width="1.2"/>
<path d="M1474.1 732.4l5 8.3h-10zM1476.8 721.6l5 8.3h-10zM1479.5 715.8l5 8.3h-10zM1482.2 711.5l5 8.3h-10zM1484.9 711.1l5 8.3h-10zM1487.6 716.7l5 8.3h-10zM1490.2 724.1l5 8.3h-10zM1492.9 730.1l5 8.3h-10zM1495.6 734.4l5 8.3h-10zM1498.3 737.1l5 8.3h-10zM1501 737.7l5 8.3h-10zM1503.7 740l5 8.3h-10zM1506.4 742.3l5 8.3h-10zM1509 745.8l5 8.3h-10zM1511.7 749.3l5 8.3h-10zM1514.4 752.8l5 8.3h-10zM1517.1 756l5 8.3h-10zM1519.8 760l5 8.3h-10zM1522.5 763l5 8.3h-10zM1525.2 767.4l5 8.3h-10zM1527.8 771.2l5 8.3h-10zM1530.5 775.2l5 8.3h-10zM1534.5 782.3l5 8.3h-10zM1538 788.3l5 8.3h-10zM1541.6 794.3l5 8.3h-10zM1545.2 801l5 8.3h-10zM1548.8 808.2l5 8.3h-10zM1552.4 816.4l5 8.3h-10zM1555.9 823.7l5 8.3h-10zM1559.5 833.5l5 8.3h-10zM1563.1 842l5 8.3h-10zM1566.7 854.2l5 8.3h-10zM1570.3 867.8l5 8.3h-10zM1573.8 876.2l5 8.3h-10zM1577.4 884.9l5 8.3h-10zM1581 891.8l5 8.3h-10zM1584.6 898.6l5 8.3h-10zM1588.2 905.2l5 8.3h-10zM1591.7 909.3l5 8.3h-10zM1595.3 913l5 8.3h-10zM1598.9 916.3l5 8.3h-10zM1602.5 917.9l5 8.3h-10zM1606.1 920l5 8.3h-10zM1609.6 921.7l5 8.3h-10zM1613.2 922.2l5 8.3h-10zM1616.8 923.5l5 8.3h-10zM1620.4 923l5 8.3h-10zM1624 923.3l5 8.3h-10zM1627.5 924l5 8.3h-10zM1631.1 923.1l5 8.3h-10zM1634.7 922.9l5 8.3h-10zM1638.3 922.1l5 8.3h-10zM1641.9 922.9l5 8.3h-10zM1645.4 923.4l5 8.3h-10zM1649 925l5 8.3h-10zM1652.6 925.3l5 8.3h-10zM1656.2 926.5l5 8.3h-10zM1659.8 926.3l5 8.3h-10zM1663.3 926.4l5 8.3h-10zM1666.9 926.3l5 8.3h-10zM1670.5 926.4l5 8.3h-10zM1674.1 925.9l5 8.3h-10zM1677.7 925.5l5 8.3h-10zM1681.2 926.4l5 8.3h-10zM1684.8 926l5 8.3h-10zM1688.4 926l5 8.3h-10zM1692 926l5 8.3h-10zM1695.6 924.9l5 8.3h-10zM1699.1 925.1l5 8.3h-10zM1702.7 925l5 8.3h-10zM1706.3 924.8l5 8.3h-10zM1709.9 925.4l5 8.3h-10zM1713.5 925.6l5 8.3h-10zM1717 925.8l5 8.3h-10zM1720.6 926.3l5 8.3h-10zM1724.2 927.4l5 8.3h-10zM1727.8 927.3l5 8.3h-10zM1731.4 927.9l5 8.3h-10zM1734.9 927.8l5 8.3h-10zM1738.5 927l5 8.3h-10zM1742.1 927.3l5 8.3h-10zM1745.7 927.7l5 8.3h-10zM1749.3 927.8l5 8.3h-10zM1752.8 927.9l5 8.3h-10zM1756.4 927.9l5 8.3h-10zM1760 928l5 8.3h-10zM1763.6 927.5l5 8.3h-10zM1767.2 927.6l5 8.3h-10zM1770.7 927.9l5 8.3h-10zM1774.3 927.4l5 8.3h-10zM1777.9 927.8l5 8.3h-10zM1781.5 926.6l5 8.3h-10zM1785.1 927.2l5 8.3h-10zM1788.6 926.6l5 8.3h-10zM1792.2 925.7l5 8.3h-10zM1795.8 926.5l5 8.3h-10zM1799.4 926.1l5 8.3h-10zM1803 925.9l5 8.3h-10zM1806.5 925.5l5 8.3h-10zM1810.1 925.9l5 8.3h-10zM1813.7 927.1l5 8.3h-10zM1817.3 926.9l5 8.3h-10zM1820.9 926.8l5 8.3h-10zM1824.4 928.6l5 8.3h-10zM1828 929.2l5 8.3h-10zM1831.6 930.1l5 8.3h-10zM1835.2 930.5l5 8.3h-10zM1838.8 930.7l5 8.3h-10zM1842.3 931.1l5 8.3h-10zM1845.9 932.2l5 8.3h-10zM1849.5 931.6l5 8.3h-10zM1853.1 933.1l5 8.3h-10zM1856.7 932.5l5 8.3h-10zM1860.2 932.5l5 8.3h-10zM1863.8 933.3l5 8.3h-10zM1867.4 933.4l5 8.3h-10zM1871 933l5 8.3h-10zM1874.6 933.8l5 8.3h-10zM1878.1 933.1l5 8.3h-10zM1881.7 933.5l5 8.3h-10zM1885.3 934.3l5 8.3h-10zM1888.9 933.9l5 8.3h-10zM1892.5 933.7l5 8.3h-10zM1896 934.4l5 8.3h-10zM1899.6 934.6l5 8.3h-10zM1903.2 934.3l5 8.3h-10zM1906.8 933.8l5 8.3h-10zM1910.4 934.3l5 8.3h-10zM1913.9 934.6l5 8.3h-10zM1917.5 934.8l5 8.3h-10zM1921.1 935.2l5 8.3h-10zM1924.7 934.5l5 8.3h-10zM1928.3 934.5l5 8.3h-10zM1931.8 934.6l5 8.3h-10z" fill="#3A53A4"/>
<path d="M1474.3 842.2L1476.7 720.4M1553.6 751L1554.7 756.2M1557.1 768.3L1558.3 774.7M1560.8 786.9L1561.8 791.1M1564 803.3L1565.8 814.9M1567.5 827.2L1569.4 840.4M1571.5 852.6L1572.6 858.7M1575.1 870.9L1576.2 876.5M1582.7 899.6L1582.9 900.6M1586.1 912.6L1586.6 914.3" fill="none" stroke="#808038" stroke-width="1.2"/>
<path d="M1470.5 844.8h7.2v7.2h-7.2zM1473.2 710.6h7.2v7.2h-7.2zM1475.9 702.9h7.2v7.2h-7.2zM1478.6 698.9h7.2v7.2h-7.2zM1481.3 696.3h7.2v7.2h-7.2zM1484 694.6h7.2v7.2h-7.2zM1486.6 693.2h7.2v7.2h-7.2zM1489.3 692.4h7.2v7.2h-7.2zM1492 692h7.2v7.2h-7.2zM1494.7 691.7h7.2v7.2h-7.2zM1497.4 691.6h7.2v7.2h-7.2zM1500.1 691.6h7.2v7.2h-7.2zM1502.8 691.8h7.2v7.2h-7.2zM1505.4 692h7.2v7.2h-7.2zM1508.1 692.2h7.2v7.2h-7.2zM1510.8 692.6h7.2v7.2h-7.2zM1513.5 693.2h7.2v7.2h-7.2zM1516.2 694h7.2v7.2h-7.2zM1518.9 695h7.2v7.2h-7.2zM1521.6 696.6h7.2v7.2h-7.2zM1524.2 698.7h7.2v7.2h-7.2zM1526.9 701.1h7.2v7.2h-7.2zM1530.9 705.6h7.2v7.2h-7.2zM1534.4 710.7h7.2v7.2h-7.2zM1538 716.6h7.2v7.2h-7.2zM1541.6 723.2h7.2v7.2h-7.2zM1545.2 731.4h7.2v7.2h-7.2zM1548.8 741.3h7.2v7.2h-7.2zM1552.3 758.6h7.2v7.2h-7.2zM1555.9 777.2h7.2v7.2h-7.2zM1559.5 793.6h7.2v7.2h-7.2zM1563.1 817.5h7.2v7.2h-7.2zM1566.7 842.9h7.2v7.2h-7.2zM1570.2 861.2h7.2v7.2h-7.2zM1573.8 879h7.2v7.2h-7.2zM1577.4 890.1h7.2v7.2h-7.2zM1581 903h7.2v7.2h-7.2zM1584.6 916.8h7.2v7.2h-7.2zM1588.1 924.7h7.2v7.2h-7.2zM1591.7 928.5h7.2v7.2h-7.2zM1595.3 931.1h7.2v7.2h-7.2zM1598.9 933h7.2v7.2h-7.2zM1602.5 934.7h7.2v7.2h-7.2zM1606 935.8h7.2v7.2h-7.2zM1609.6 936.4h7.2v7.2h-7.2zM1613.2 936.8h7.2v7.2h-7.2z" fill="#808038"/>
<path d="M1543.2 898.6L1543.6 896.9M1546.5 884.9L1547.5 879.6M1549.9 867.4L1551.3 859.5M1553.3 847.3L1555 837.3M1556.6 825L1558.9 802.8M1560.5 790.5L1562.1 780.3M1564.1 768.1L1565.7 758.8M1567.4 746.5L1569.6 727.6M1571.1 715.3L1573 702.4M1574.7 690.2L1576.6 676.7M1578.6 664.5L1579.8 658.7M1582 646.5L1583.6 637.4M1586.1 625.3L1586.6 623.4M1589.3 611.3L1590.6 604.2M1786.7 715L1787 715.8M1790.3 727.7L1790.6 728.9M1793.9 740.9L1794.2 742.1M1797.3 754.1L1797.9 756.6M1800.9 768.7L1801.4 770.9M1815.3 815.4L1815.6 816.5M1833.2 871.8L1833.6 873.2" fill="none" stroke="#008080" stroke-width="1.2"/>
<path d="M1496.7 940.6a4.25 4.25 0 1 0 8.5 0a4.25 4.25 0 1 0 -8.5 0zM1499.4 940.2a4.25 4.25 0 1 0 8.5 0a4.25 4.25 0 1 0 -8.5 0zM1502.1 940a4.25 4.25 0 1 0 8.5 0a4.25 4.25 0 1 0 -8.5 0zM1504.8 939.7a4.25 4.25 0 1 0 8.5 0a4.25 4.25 0 1 0 -8.5 0zM1507.5 939.3a4.25 4.25 0 1 0 8.5 0a4.25 4.25 0 1 0 -8.5 0zM1510.2 938.6a4.25 4.25 0 1 0 8.5 0a4.25 4.25 0 1 0 -8.5 0zM1512.8 937.6a4.25 4.25 0 1 0 8.5 0a4.25 4.25 0 1 0 -8.5 0zM1515.5 936.4a4.25 4.25 0 1 0 8.5 0a4.25 4.25 0 1 0 -8.5 0zM1518.2 934.8a4.25 4.25 0 1 0 8.5 0a4.25 4.25 0 1 0 -8.5 0zM1520.9 932.9a4.25 4.25 0 1 0 8.5 0a4.25 4.25 0 1 0 -8.5 0zM1523.6 930.7a4.25 4.25 0 1 0 8.5 0a4.25 4.25 0 1 0 -8.5 0zM1526.3 928.5a4.25 4.25 0 1 0 8.5 0a4.25 4.25 0 1 0 -8.5 0zM1530.2 923.5a4.25 4.25 0 1 0 8.5 0a4.25 4.25 0 1 0 -8.5 0zM1533.8 913.7a4.25 4.25 0 1 0 8.5 0a4.25 4.25 0 1 0 -8.5 0zM1537.4 904.6a4.25 4.25 0 1 0 8.5 0a4.25 4.25 0 1 0 -8.5 0zM1541 890.9a4.25 4.25 0 1 0 8.5 0a4.25 4.25 0 1 0 -8.5 0zM1544.5 873.5a4.25 4.25 0 1 0 8.5 0a4.25 4.25 0 1 0 -8.5 0zM1548.1 853.4a4.25 4.25 0 1 0 8.5 0a4.25 4.25 0 1 0 -8.5 0zM1551.7 831.2a4.25 4.25 0 1 0 8.5 0a4.25 4.25 0 1 0 -8.5 0zM1555.3 796.6a4.25 4.25 0 1 0 8.5 0a4.25 4.25 0 1 0 -8.5 0zM1558.9 774.2a4.25 4.25 0 1 0 8.5 0a4.25 4.25 0 1 0 -8.5 0zM1562.4 752.7a4.25 4.25 0 1 0 8.5 0a4.25 4.25 0 1 0 -8.5 0zM1566 721.5a4.25 4.25 0 1 0 8.5 0a4.25 4.25 0 1 0 -8.5 0zM1569.6 696.3a4.25 4.25 0 1 0 8.5 0a4.25 4.25 0 1 0 -8.5 0zM1573.2 670.6a4.25 4.25 0 1 0 8.5 0a4.25 4.25 0 1 0 -8.5 0zM1576.8 652.6a4.25 4.25 0 1 0 8.5 0a4.25 4.25 0 1 0 -8.5 0zM1580.3 631.3a4.25 4.25 0 1 0 8.5 0a4.25 4.25 0 1 0 -8.5 0zM1583.9 617.4a4.25 4.25 0 1 0 8.5 0a4.25 4.25 0 1 0 -8.5 0zM1587.5 598.1a4.25 4.25 0 1 0 8.5 0a4.25 4.25 0 1 0 -8.5 0zM1591.1 594.2a4.25 4.25 0 1 0 8.5 0a4.25 4.25 0 1 0 -8.5 0zM1594.7 589.8a4.25 4.25 0 1 0 8.5 0a4.25 4.25 0 1 0 -8.5 0zM1598.2 584.7a4.25 4.25 0 1 0 8.5 0a4.25 4.25 0 1 0 -8.5 0zM1601.8 577a4.25 4.25 0 1 0 8.5 0a4.25 4.25 0 1 0 -8.5 0zM1605.4 579.4a4.25 4.25 0 1 0 8.5 0a4.25 4.25 0 1 0 -8.5 0zM1609 577.1a4.25 4.25 0 1 0 8.5 0a4.25 4.25 0 1 0 -8.5 0zM1612.6 574.4a4.25 4.25 0 1 0 8.5 0a4.25 4.25 0 1 0 -8.5 0zM1616.1 574.9a4.25 4.25 0 1 0 8.5 0a4.25 4.25 0 1 0 -8.5 0zM1619.7 573.9a4.25 4.25 0 1 0 8.5 0a4.25 4.25 0 1 0 -8.5 0zM1623.3 576.6a4.25 4.25 0 1 0 8.5 0a4.25 4.25 0 1 0 -8.5 0zM1626.9 579.3a4.25 4.25 0 1 0 8.5 0a4.25 4.25 0 1 0 -8.5 0zM1630.5 582.2a4.25 4.25 0 1 0 8.5 0a4.25 4.25 0 1 0 -8.5 0zM1634 582a4.25 4.25 0 1 0 8.5 0a4.25 4.25 0 1 0 -8.5 0zM1637.6 579.6a4.25 4.25 0 1 0 8.5 0a4.25 4.25 0 1 0 -8.5 0zM1641.2 579.8a4.25 4.25 0 1 0 8.5 0a4.25 4.25 0 1 0 -8.5 0zM1644.8 585.3a4.25 4.25 0 1 0 8.5 0a4.25 4.25 0 1 0 -8.5 0zM1648.4 584.4a4.25 4.25 0 1 0 8.5 0a4.25 4.25 0 1 0 -8.5 0zM1651.9 585.8a4.25 4.25 0 1 0 8.5 0a4.25 4.25 0 1 0 -8.5 0zM1655.5 585.1a4.25 4.25 0 1 0 8.5 0a4.25 4.25 0 1 0 -8.5 0zM1659.1 586.4a4.25 4.25 0 1 0 8.5 0a4.25 4.25 0 1 0 -8.5 0zM1662.7 584.5a4.25 4.25 0 1 0 8.5 0a4.25 4.25 0 1 0 -8.5 0zM1666.3 587.4a4.25 4.25 0 1 0 8.5 0a4.25 4.25 0 1 0 -8.5 0zM1669.8 588.8a4.25 4.25 0 1 0 8.5 0a4.25 4.25 0 1 0 -8.5 0zM1673.4 590.6a4.25 4.25 0 1 0 8.5 0a4.25 4.25 0 1 0 -8.5 0zM1677 593.6a4.25 4.25 0 1 0 8.5 0a4.25 4.25 0 1 0 -8.5 0zM1680.6 592.7a4.25 4.25 0 1 0 8.5 0a4.25 4.25 0 1 0 -8.5 0zM1684.2 594a4.25 4.25 0 1 0 8.5 0a4.25 4.25 0 1 0 -8.5 0zM1687.7 596.3a4.25 4.25 0 1 0 8.5 0a4.25 4.25 0 1 0 -8.5 0zM1691.3 599.6a4.25 4.25 0 1 0 8.5 0a4.25 4.25 0 1 0 -8.5 0zM1694.9 602.2a4.25 4.25 0 1 0 8.5 0a4.25 4.25 0 1 0 -8.5 0zM1698.5 602.4a4.25 4.25 0 1 0 8.5 0a4.25 4.25 0 1 0 -8.5 0zM1702.1 606.3a4.25 4.25 0 1 0 8.5 0a4.25 4.25 0 1 0 -8.5 0zM1705.6 603.9a4.25 4.25 0 1 0 8.5 0a4.25 4.25 0 1 0 -8.5 0zM1709.2 606.8a4.25 4.25 0 1 0 8.5 0a4.25 4.25 0 1 0 -8.5 0zM1712.8 608.5a4.25 4.25 0 1 0 8.5 0a4.25 4.25 0 1 0 -8.5 0zM1716.4 612a4.25 4.25 0 1 0 8.5 0a4.25 4.25 0 1 0 -8.5 0zM1720 614.8a4.25 4.25 0 1 0 8.5 0a4.25 4.25 0 1 0 -8.5 0zM1723.5 616.5a4.25 4.25 0 1 0 8.5 0a4.25 4.25 0 1 0 -8.5 0zM1727.1 618.2a4.25 4.25 0 1 0 8.5 0a4.25 4.25 0 1 0 -8.5 0zM1730.7 620.2a4.25 4.25 0 1 0 8.5 0a4.25 4.25 0 1 0 -8.5 0zM1734.3 624.2a4.25 4.25 0 1 0 8.5 0a4.25 4.25 0 1 0 -8.5 0zM1737.9 628.9a4.25 4.25 0 1 0 8.5 0a4.25 4.25 0 1 0 -8.5 0zM1741.4 629.4a4.25 4.25 0 1 0 8.5 0a4.25 4.25 0 1 0 -8.5 0zM1745 633a4.25 4.25 0 1 0 8.5 0a4.25 4.25 0 1 0 -8.5 0zM1748.6 636.4a4.25 4.25 0 1 0 8.5 0a4.25 4.25 0 1 0 -8.5 0zM1752.2 642.2a4.25 4.25 0 1 0 8.5 0a4.25 4.25 0 1 0 -8.5 0zM1755.8 648.6a4.25 4.25 0 1 0 8.5 0a4.25 4.25 0 1 0 -8.5 0zM1759.3 654.8a4.25 4.25 0 1 0 8.5 0a4.25 4.25 0 1 0 -8.5 0zM1762.9 664.6a4.25 4.25 0 1 0 8.5 0a4.25 4.25 0 1 0 -8.5 0zM1766.5 673a4.25 4.25 0 1 0 8.5 0a4.25 4.25 0 1 0 -8.5 0zM1770.1 683.8a4.25 4.25 0 1 0 8.5 0a4.25 4.25 0 1 0 -8.5 0zM1773.7 692a4.25 4.25 0 1 0 8.5 0a4.25 4.25 0 1 0 -8.5 0zM1777.2 701a4.25 4.25 0 1 0 8.5 0a4.25 4.25 0 1 0 -8.5 0zM1780.8 709a4.25 4.25 0 1 0 8.5 0a4.25 4.25 0 1 0 -8.5 0zM1784.4 721.7a4.25 4.25 0 1 0 8.5 0a4.25 4.25 0 1 0 -8.5 0zM1788 734.9a4.25 4.25 0 1 0 8.5 0a4.25 4.25 0 1 0 -8.5 0zM1791.6 748a4.25 4.25 0 1 0 8.5 0a4.25 4.25 0 1 0 -8.5 0zM1795.1 762.6a4.25 4.25 0 1 0 8.5 0a4.25 4.25 0 1 0 -8.5 0zM1798.7 776.9a4.25 4.25 0 1 0 8.5 0a4.25 4.25 0 1 0 -8.5 0zM1802.3 788.6a4.25 4.25 0 1 0 8.5 0a4.25 4.25 0 1 0 -8.5 0zM1805.9 801.1a4.25 4.25 0 1 0 8.5 0a4.25 4.25 0 1 0 -8.5 0zM1809.5 809.4a4.25 4.25 0 1 0 8.5 0a4.25 4.25 0 1 0 -8.5 0zM1813 822.5a4.25 4.25 0 1 0 8.5 0a4.25 4.25 0 1 0 -8.5 0zM1816.6 834.4a4.25 4.25 0 1 0 8.5 0a4.25 4.25 0 1 0 -8.5 0zM1820.2 846.1a4.25 4.25 0 1 0 8.5 0a4.25 4.25 0 1 0 -8.5 0zM1823.8 855.6a4.25 4.25 0 1 0 8.5 0a4.25 4.25 0 1 0 -8.5 0zM1827.4 865.8a4.25 4.25 0 1 0 8.5 0a4.25 4.25 0 1 0 -8.5 0zM1830.9 879.1a4.25 4.25 0 1 0 8.5 0a4.25 4.25 0 1 0 -8.5 0zM1834.5 888.1a4.25 4.25 0 1 0 8.5 0a4.25 4.25 0 1 0 -8.5 0zM1838.1 895.1a4.25 4.25 0 1 0 8.5 0a4.25 4.25 0 1 0 -8.5 0zM1841.7 901.6a4.25 4.25 0 1 0 8.5 0a4.25 4.25 0 1 0 -8.5 0zM1845.3 909.2a4.25 4.25 0 1 0 8.5 0a4.25 4.25 0 1 0 -8.5 0zM1848.8 913.5a4.25 4.25 0 1 0 8.5 0a4.25 4.25 0 1 0 -8.5 0zM1852.4 916.8a4.25 4.25 0 1 0 8.5 0a4.25 4.25 0 1 0 -8.5 0zM1856 920.4a4.25 4.25 0 1 0 8.5 0a4.25 4.25 0 1 0 -8.5 0zM1859.6 925.2a4.25 4.25 0 1 0 8.5 0a4.25 4.25 0 1 0 -8.5 0zM1863.2 928.3a4.25 4.25 0 1 0 8.5 0a4.25 4.25 0 1 0 -8.5 0zM1866.7 930.2a4.25 4.25 0 1 0 8.5 0a4.25 4.25 0 1 0 -8.5 0zM1870.3 932.3a4.25 4.25 0 1 0 8.5 0a4.25 4.25 0 1 0 -8.5 0zM1873.9 934.4a4.25 4.25 0 1 0 8.5 0a4.25 4.25 0 1 0 -8.5 0zM1877.5 936.2a4.25 4.25 0 1 0 8.5 0a4.25 4.25 0 1 0 -8.5 0zM1881.1 937.9a4.25 4.25 0 1 0 8.5 0a4.25 4.25 0 1 0 -8.5 0zM1884.6 939a4.25 4.25 0 1 0 8.5 0a4.25 4.25 0 1 0 -8.5 0zM1888.2 939.6a4.25 4.25 0 1 0 8.5 0a4.25 4.25 0 1 0 -8.5 0zM1891.8 940a4.25 4.25 0 1 0 8.5 0a4.25 4.25 0 1 0 -8.5 0zM1895.4 940.4a4.25 4.25 0 1 0 8.5 0a4.25 4.25 0 1 0 -8.5 0zM1899 940.7a4.25 4.25 0 1 0 8.5 0a4.25 4.25 0 1 0 -8.5 0zM1902.5 940.8a4.25 4.25 0 1 0 8.5 0a4.25 4.25 0 1 0 -8.5 0zM1906.1 940.9a4.25 4.25 0 1 0 8.5 0a4.25 4.25 0 1 0 -8.5 0zM1909.7 941a4.25 4.25 0 1 0 8.5 0a4.25 4.25 0 1 0 -8.5 0zM1913.3 941a4.25 4.25 0 1 0 8.5 0a4.25 4.25 0 1 0 -8.5 0zM1916.9 941.1a4.25 4.25 0 1 0 8.5 0a4.25 4.25 0 1 0 -8.5 0zM1920.4 941.1a4.25 4.25 0 1 0 8.5 0a4.25 4.25 0 1 0 -8.5 0zM1924 941.2a4.25 4.25 0 1 0 8.5 0a4.25 4.25 0 1 0 -8.5 0zM1927.6 941.2a4.25 4.25 0 1 0 8.5 0a4.25 4.25 0 1 0 -8.5 0z" fill="#008080"/>
</g>
<g font-family="'Liberation Sans', Arial, Helvetica, sans-serif" font-size="29.6" text-anchor="middle" fill="#000">
<text transform="translate(1473.6 978.8) scale(1 1.04)">0</text>
<text transform="translate(1527.3 978.8) scale(1 1.04)">5</text>
<text transform="translate(1581 978.8) scale(1 1.04)">10</text>
<text transform="translate(1634.7 978.8) scale(1 1.04)">15</text>
<text transform="translate(1688.4 978.8) scale(1 1.04)">20</text>
<text transform="translate(1742.1 978.8) scale(1 1.04)">25</text>
<text transform="translate(1795.8 978.8) scale(1 1.04)">30</text>
<text transform="translate(1849.5 978.8) scale(1 1.04)">35</text>
<text transform="translate(1903.2 978.8) scale(1 1.04)">40</text>
<text transform="translate(1956.9 978.8) scale(1 1.04)">45</text>
</g>
<g font-family="'Liberation Sans', Arial, Helvetica, sans-serif" font-weight="bold" fill="#000">
<text transform="translate(1715.3 1011.7) scale(1 1.04)" font-size="29.6" text-anchor="middle">Sputtering time (min)</text>
<text transform="translate(1445.4 767.4) scale(1.02 1) rotate(-90)" font-size="30.1" text-anchor="middle">APPH (a.u.)</text>
<text transform="translate(1801.2 603.6) scale(1 1.04)" font-size="39.7">Cu: ICP</text>
<text transform="translate(1477.8 681.8) scale(1 1.04)" font-size="29.3" fill="#808038">Cu-ox.</text>
<text transform="translate(1777.8 674.3) scale(1 1.04)" font-size="29.3" fill="#008080">Cu</text>
<text transform="translate(1911.6 790) scale(1 1.04)" font-size="29.3" fill="#ED2024">C</text>
<text transform="translate(1807.1 920.7) scale(1 1.04)" font-size="29.3" fill="#3A53A4">O</text>
</g>
</g>
</svg>
</body></html>
